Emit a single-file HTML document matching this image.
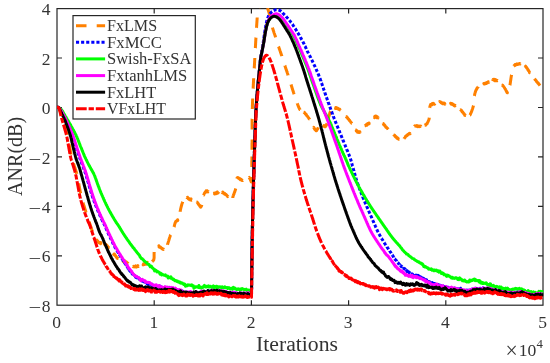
<!DOCTYPE html>
<html><head><meta charset="utf-8"><title>ANR vs Iterations</title>
<style>
html,body{margin:0;padding:0;background:#fff;}
body{width:550px;height:363px;overflow:hidden;}
svg{display:block;}
text{font-family:"Liberation Serif","DejaVu Serif",serif;fill:#333333;}
</style></head><body>
<svg width="550" height="363" viewBox="0 0 550 363">
<rect x="0" y="0" width="550" height="363" fill="#ffffff"/>
<defs><clipPath id="ax"><rect x="56.4" y="8.0" width="487.2" height="297.79999999999995"/></clipPath></defs>

<g stroke="#262626" stroke-width="1.2" fill="none">
<rect x="57.0" y="8.6" width="486.0" height="296.59999999999997"/>
<path d="M154.2,305.2 v-5 M154.2,8.6 v5"/>
<path d="M251.4,305.2 v-5 M251.4,8.6 v5"/>
<path d="M348.6,305.2 v-5 M348.6,8.6 v5"/>
<path d="M445.8,305.2 v-5 M445.8,8.6 v5"/>
<path d="M57.0,58.0 h5 M543.0,58.0 h-5"/>
<path d="M57.0,107.5 h5 M543.0,107.5 h-5"/>
<path d="M57.0,156.9 h5 M543.0,156.9 h-5"/>
<path d="M57.0,206.3 h5 M543.0,206.3 h-5"/>
<path d="M57.0,255.8 h5 M543.0,255.8 h-5"/>
</g>
<g clip-path="url(#ax)" fill="none" stroke-width="3.0" stroke-linejoin="round">
<path d="M57,107.2l0.2,0 0.3,0.1 0.2,-0.1 0.3,0.1 0.2,0 0.3,0.2 0.1,0.1 0.2,0.3 0.2,0.1 0.1,0.3 0.1,0.2 0.1,0.2 0.1,0.2 0.1,0.2 0.1,0.3 0.1,0.3 0.1,0.2 0,0.2 0.1,0.3 0.1,0.2 0,0.2 0.1,0.3 0.1,0.2 0,0.2 0.1,0.3 0,0.2 0.1,0.2 0.1,0.3 0,0.3 0.1,0.2 0,0.2 0.1,0.3 0.1,0.3 0,0.2 0.1,0.2 0,0.3 0.1,0.3 0.1,0.1 0,0.3 0.1,0.3 0,0.2 0.1,0.3 0.1,0.1 0,0.3 0.1,0.2 0.1,0.2 0.1,0.3 0,0.3 0.1,0.2 0.1,0.3 0,0.2 0.1,0.3 0.1,0.2 0,0.3 0.1,0.1 0.1,0.3 0,0.3 0.1,0.1 0.1,0.3 0.1,0.2 0,0.3 0.1,0.2 0.1,0.3 0.1,0.2 0,0.2 0.1,0.3 0.1,0.2 0.1,0.3 0,0.2 0.1,0.3 0.1,0.2 0.1,0.2 0,0.3 0.1,0.3 0.1,0.2 0.1,0.1 0.1,0.4 0,0.2 0.1,0.2 0.1,0.1 0.1,0.4 0.1,0.1 0.1,0.4 0,0.2 0.1,0.1 0.1,0.3 0.1,0.2 0.1,0.3 0.1,0.3 0,0.3 0.1,0 0.1,0.3 0.1,0.3 0.1,0.3 0,0.2 0.1,0.1 0.1,0.3 0.1,0.3 0,0.2 0.1,0.2 0.1,0.3 0.1,0.2 0,0.3 0.1,0.2 0.1,0.2 0.1,0.3 0,0.3 0.1,0.1 0.1,0.2 0,0.4 0.1,0.2 0.1,0.3 0,0.2 0.1,0.2 0.1,0.2 0,0.3 0.1,0.3 0.1,0.1 0,0.3 0.1,0.3 0,0.2 0.1,0.2 0.1,0.3 0,0.2 0.1,0.3 0,0.2 0.1,0.3 0.1,0.2 0,0.3 0.1,0.1 0,0.3 0.1,0.3 0,0.2 0.1,0.3 0,0.2 0.1,0.3 0,0.2 0.1,0.3 0,0.2 0.1,0.2 0,0.3 0.1,0.2 0,0.2 0.1,0.3 0,0.3 0.1,0.2 0,0.3 0.1,0.1 0,0.3 0.1,0.3 0,0.3 0.1,0.2 0,0.2 0,0.3 0.1,0.3 0,0.2 0.1,0.3 0,0.2 0.1,0.2 0,0.3 0.1,0.2 0,0.3 0.1,0.2 0,0.2 0.1,0.3 0,0.2 0.1,0.3 0,0.2 0,0.3 0.1,0.2 0,0.3 0.1,0.2 0,0.3 0.1,0.2 0,0.2 0.1,0.3 0,0.2 0.1,0.3 0,0.2 0.1,0.3 0,0.2 0.1,0.2 0,0.3 0.1,0.2 0,0.3 0,0.2 0.1,0.3 0,0.2 0.1,0.3 0,0.2 0.1,0.2 0,0.4 0.1,0.2 0,0.2 0.1,0.3 0,0.1 0.1,0.4 0,0.1 0.1,0.3 0,0.3 0.1,0.2 0,0.3 0.1,0.2 0.1,0.3 0,0.2 0.1,0.3 0,0.2 0.1,0.2 0,0.3 0.1,0.2 0,0.2 0.1,0.3 0,0.2 0.1,0.3 0.1,0.3 0,0.3 0.1,0.2 0,0.1 0.1,0.3 0.1,0.2 0,0.3 0.1,0.2 0.1,0.2 0,0.3 0.1,0.2 0.1,0.3 0,0.2 0.1,0.2 0.1,0.3 0,0.3 0.1,0.3 0.1,0.1 0.1,0.3 0,0.2 0.1,0.2 0.1,0.3 0,0.3 0.1,0.2 0.1,0.2 0.1,0.3 0.1,0.1 0,0.2 0.1,0.4 0.1,0.2 0.1,0.2 0,0.3 0.1,0.3 0.1,0.1 0.1,0.3 0.1,0.3 0,0.2 0.1,0.3 0.1,0.1 0.1,0.3 0.1,0.3 0,0.2 0.1,0.2 0.1,0.3 0.1,0.2 0,0.2 0.1,0.2 0.1,0.4 0.1,0 0.1,0.4 0,0.2 0.1,0.2 0.1,0.3 0.1,0.2 0,0.2 0.1,0.3 0.1,0.2 0,0.2 0.1,0.3 0.1,0.3 0.1,0.2 0,0.2 0.1,0.3 0.1,0.2 0,0.2 0.1,0.4 0.1,0.1 0,0.3 0.1,0.2 0,0.2 0.1,0.3 0.1,0.3 0,0.2 0.1,0.2 0,0.3 0.1,0.2 0,0.3 0.1,0.2 0.1,0.3 0,0.1 0.1,0.4 0,0.2 0.1,0.2 0,0.3 0.1,0.2 0,0.3 0.1,0.2 0,0.3 0.1,0.3 0,0.1 0.1,0.3 0,0.2 0.1,0.3 0,0.2 0.1,0.2 0,0.3 0.1,0.3 0,0.3 0.1,0.1 0,0.3 0.1,0.3 0,0.2 0,0.2 0.1,0.3 0,0.2 0.1,0.3 0,0.2 0.1,0.3 0,0.2 0.1,0.3 0,0.2 0.1,0.2 0,0.3 0,0.2 0.1,0.3 0,0.2 0.1,0.3 0,0.3 0.1,0.2 0,0.2 0.1,0.3 0,0.2 0,0.3 0.1,0.2 0,0.2 0.1,0.3 0,0.3 0.1,0.2 0,0.2 0.1,0.3 0,0.2 0.1,0.2 0,0.4 0.1,0.2 0,0.2 0.1,0.3 0,0.2 0,0.3 0.1,0.1 0,0.3 0.1,0.3 0,0.3 0.1,0.2 0,0.3 0.1,0.1 0,0.2 0.1,0.4 0.1,0.2 0,0.3 0.1,0.2 0,0.2 0.1,0.2 0,0.3 0.1,0.3 0,0.2 0.1,0.3 0,0.2 0.1,0.3 0.1,0.2 0,0.3 0.1,0.2 0,0.2 0.1,0.2 0.1,0.4 0,0.1 0.1,0.3 0,0.3 0.1,0.1 0.1,0.3 0,0.3 0.1,0.2 0.1,0.3 0,0.1 0.1,0.3 0.1,0.3 0,0.3 0.1,0 0.1,0.4 0,0.2 0.1,0.3 0.1,0.2 0,0.3 0.1,0.3 0.1,0.2 0,0.2 0.1,0.2 0.1,0.2 0.1,0.3 0,0.2 0.1,0.2 0.1,0.3 0,0.2 0.1,0.3 0.1,0.2 0.1,0.2 0,0.4 0.1,0.2 0.1,0.3 0.1,0.2 0,0.2 0.1,0.2 0.1,0.2 0.1,0.3 0,0.2 0.1,0.2 0.1,0.3 0.1,0.1 0,0.4 0.1,0.1 0.1,0.3 0.1,0.3 0,0.2 0.1,0.2 0.1,0.3 0.1,0.4 0.1,0 0,0.4 0.1,0.1 0.1,0.3 0.1,0.2 0,0.2 0.1,0.4 0.1,0.2 0.1,0.1 0,0.3 0.1,0.2 0.1,0.3 0.1,0.3 0.1,0.1 0,0.3 0.1,0.3 0.1,0.2 0.1,0.3 0.1,0.1 0,0.2 0.1,0.4 0.1,0.1 0.1,0.3 0,0.3 0.1,0.3 0.1,0.1 0.1,0.2 0.1,0.3 0,0.1 0.1,0.4 0.1,0.1 0.1,0.5 0.1,0.1 0,0.2 0.1,0.2 0.1,0.1 0.1,0.5 0,0.3 0.1,0.1 0.1,0.3 0.1,0.2 0.1,0.1 0,0.4 0.1,0.3 0.1,0.2 0.1,0.2 0,0.3 0.1,0.1 0.1,0.3 0.1,0.3 0,0.1 0.1,0.4 0.1,0.1 0.1,0.2 0,0.3 0.1,0.2 0.1,0.3 0.1,0.2 0,0.3 0.1,0.2 0.1,0.3 0.1,0.2 0,0.2 0.1,0.3 0.1,0.2 0.1,0.2 0.1,0.2 0,0.4 0.1,0.2 0.1,0.2 0.1,0.2 0.1,0.2 0,0.2 0.1,0.3 0.1,0.3 0.1,0.2 0.1,0.2 0,0.3 0.1,0.3 0.1,0.2 0.1,0.3 0,0.1 0.1,0.3 0.1,0.2 0.1,0.3 0.1,0.2 0,0.2 0.1,0.4 0.1,0.1 0.1,0.2 0,0.2 0.1,0.4 0.1,0.2 0.1,0.3 0.1,0.2 0,0.1 0.1,0.3 0.1,0.2 0.1,0.2 0.1,0.4 0.1,0.2 0,0.2 0.1,0.3 0.1,0.1 0.1,0.2 0.1,0.2 0.1,0.4 0.1,0.2 0.1,0.3 0.1,0.2 0.1,0 0.1,0.3 0.1,0.3 0.1,0.1 0.1,0.3 0.1,0.4 0.2,0.2 0.1,0.3 0.1,0 0.2,0.2 0.1,0.4 0.1,0 0.2,0.3 0.1,0.4 0.2,-0.1 0.1,0.2 0.2,0.3 0.1,0.3 0.2,0.2 0.1,0.1 0.2,0.3 0.2,-0.3 0.1,0.4 0.2,0.4 0.2,-0.1 0.1,0.1 0.2,0.3 0.2,0.2 0.1,0.3 0.2,0 0.2,0.4 0.2,0.6 0.2,-0.3 0.2,0.5 0.2,-0.1 0.2,-0.3 0.2,0.3 0.3,-0.1 0.2,0.7 0.2,-0.6 0.3,1 0.2,-0.2 0.2,-0.9 0.3,1.1 0.2,0.3 0.3,-0.8 0.2,0.7 0.3,-1 0.2,0.8 0.3,-0.7 0.2,0.8 0.3,-0.7 0.2,-0.3 0.3,1.2 0.2,0.7 0.2,-1 0.3,0.6 0.2,-0.2 0.3,0 0.2,0.4 0.2,0.4 0.2,-0.8 0.2,0.7 0.3,0.1 0.1,-0.3 0.2,0.9 0.2,0.2 0.2,-0.5 0.2,0.8 0.2,-0.2 0.1,0.1 0.2,0.5 0.1,0 0.2,0.2 0.1,0.4 0.2,0.2 0.1,0.1 0.2,-0.2 0.1,0.2 0.2,0.6 0.1,-0.1 0.2,0.4 0.1,0 0.1,0.4 0.2,0 0.1,0.7 0.2,-0.2 0.1,0.3 0.2,0.2 0.1,0.4 0.1,-0.2 0.2,0.4 0.1,0.2 0.2,0.3 0.1,0.2 0.2,0.1 0.1,0.3 0.2,0 0.2,0.4 0.1,0.1 0.2,0 0.2,0.4 0.1,0.2 0.2,0.6 0.2,-0.4 0.2,0.3 0.1,0.5 0.2,-0.6 0.2,0.2 0.2,0.3 0.2,0.4 0.1,0.8 0.2,-0.3 0.2,0.3 0.2,-0.1 0.2,-0.3 0.1,0.2 0.2,0.9 0.2,0 0.2,-0.1 0.1,0.7 0.2,-0.3 0.1,0.6 0.2,0.3 0.1,-0.2 0.1,0.2 0.2,0.5 0.1,-0.1 0.1,0.5 0.2,-0.1 0.1,0.5 0.2,0.1 0.1,0.1 0.2,0.1 0.2,0.4 0.2,-0.3 0.2,0.5 0.2,0.1 0.2,0.5 0.2,-0.5 0.2,1 0.2,-0.5 0.3,-0.2 0.2,1 0.2,0.1 0.3,-0.5 0.2,-0.2 0.2,0.4 0.3,-0.2 0.2,0.2 0.3,0.7 0.2,-0.3 0.3,0 0.2,0.1 0.2,0 0.3,0.3 0.2,0.1 0.3,-0.4 0.2,0.3 0.2,0.8 0.3,-0.6 0.2,-0.1 0.3,0.8 0.2,-0.6 0.2,-0.2 0.3,0.6 0.2,-0.4 0.2,0.3 0.2,0.3 0.3,0 0.2,0 0.2,0.2 0.2,0.1 0.2,0.6 0.2,-0.3 0.2,0.2 0.2,0.8 0.2,-0.5 0.1,0.6 0.2,0.2 0.2,-0.2 0.2,-0.1 0.2,0.6 0.2,0.2 0.2,0.2 0.1,0 0.2,0.4 0.2,0.2 0.2,-0.4 0.2,0.8 0.2,-0.2 0.2,0 0.2,0.2 0.2,0.7 0.2,-0.1 0.3,-0.7 0.2,0.7 0.2,0 0.3,0.1 0.2,0 0.2,-0.3 0.3,0.9 0.2,-0.6 0.2,0.3 0.3,0 0.2,0 0.3,0.6 0.2,-0.1 0.3,-0.4 0.2,0 0.3,0.2 0.2,0.5 0.3,-0.3 0.2,0.1 0.3,-0.2 0.2,0 0.3,0.2 0.2,-0.8 0.3,1.2 0.2,-0.9 0.3,0.1 0.2,0.6 0.2,-0.5 0.3,-0.1 0.2,-0.3 0.3,-0.4 0.2,0.6 0.2,0.2 0.3,-0.8 0.2,0.7 0.3,-0.9 0.2,0.1 0.2,0.3 0.3,-0.2 0.2,0.1 0.3,-0.5 0.2,-0.2 0.2,-0.3 0.3,0.1 0.2,0 0.3,-0.2 0.2,0.5 0.2,-0.4 0.3,-0.5 0.2,1.4 0.2,-1.2 0.3,-0.2 0.2,0.7 0.3,-0.1 0.2,-0.8 0.2,-0.2 0.3,0.1 0.2,0.6 0.2,-0.6 0.3,-0.2 0.2,0.2 0.2,0.3 0.3,-1 0.2,0.3 0.3,-0.4 0.2,1.1 0.2,-0.2 0.3,-0.4 0.2,-0.4 0.2,0.2 0.3,-1 0.2,0.7 0.3,-0.6 0.2,-0.1 0.3,0.2 0.2,0.1 0.2,0.2 0.3,0 0.2,-0.2 0.3,-0.5 0.2,0.5 0.2,-0.4 0.3,0.4 0.2,-0.8 0.3,-0.7 0.2,0.7 0.2,0.8 0.3,-0.7 0.2,-0.3 0.2,0.2 0.2,-0.2 0.2,-0.2 0.2,-0.4 0.2,0 0.2,-0.1 0.2,-0.4 0.2,-0.2 0.1,0 0.1,-0.1 0.2,-0.3 0,-0.3 0.1,-0.2 0.1,-0.2 0,-0.3 0.1,-0.3 0,-0.2 0,-0.3 0.1,-0.2 0,-0.3 0,-0.2 0,-0.3 0,-0.2 0,-0.3 0,-0.2 0,-0.3 0,-0.2 0,-0.3 0,-0.2 0,-0.3 0,-0.2 0,-0.3 0,-0.2 0,-0.3 0,-0.2 0,-0.3 0,-0.2 0,-0.3 0,-0.2 0,-0.3 0.1,-0.2 0,-0.3 0,-0.2 0.1,-0.3 0,-0.2 0.1,-0.2 0.1,-0.3 0.1,-0.2 0.1,0 0.1,-0.5 0.1,-0.2 0.1,-0.2 0.2,-0.2 0.1,-0.2 0.1,-0.2 0.1,-0.1 0.2,-0.6 0.1,0 0.2,-0.4 0.1,0.1 0.2,-0.5 0.2,-0.1 0.1,-0.1 0.2,0.2 0.2,-0.4 0.2,-0.2 0.1,0.1 0.2,-0.7 0.2,-0.5 0.3,0.3 0.2,-0.1 0.2,0.4 0.2,0.3 0.3,-1.2 0.2,1.3 0.3,-0.2 0.2,-0.2 0.2,0 0.2,0.7 0.2,-0.4 0.2,0 0.2,0.3 0.1,-0.1 0.2,0.5 0.2,0.1 0.2,0.2 0.2,0.2 0.2,-0.2 0.2,0.8 0.2,-0.5 0.2,0.6 0.2,-0.4 0.2,0.6 0.2,-0.1 0.2,0.3 0.2,0.1 0.2,-0.3 0.1,0.5 0.2,0.4 0.2,0.3 0.3,-0.4 0.2,-0.2 0.2,0.5 0.3,0.2 0.2,-0.1 0.2,-0.2 0.2,0.3 0.2,-0.3 0.1,-0.2 0.1,-0.4 0.1,-0.2 0.1,-0.2 0.1,-0.3 0.1,-0.1 0.1,-0.3 0,-0.3 0.1,-0.1 0.1,-0.3 0.1,-0.2 0,-0.2 0.1,-0.3 0,-0.3 0.1,-0.2 0.1,-0.2 0,-0.3 0.1,-0.3 0.1,-0.2 0,-0.2 0.1,-0.2 0.1,-0.3 0,-0.3 0.1,-0.2 0.1,-0.2 0,-0.3 0.1,-0.1 0.1,-0.3 0.1,-0.3 0,-0.2 0.1,-0.3 0.1,-0.2 0.1,-0.3 0,-0.2 0.1,-0.3 0.1,-0.2 0.1,-0.3 0,0 0.1,-0.4 0.1,-0.2 0,-0.2 0.1,-0.3 0.1,-0.2 0.1,-0.4 0,-0.1 0.1,-0.3 0.1,-0.2 0.1,-0.2 0,-0.4 0.1,-0.2 0.1,-0.2 0.1,-0.2 0,-0.2 0.1,-0.2 0.1,-0.4 0.1,-0.3 0.1,-0.1 0,-0.2 0.1,-0.3 0.1,-0.2 0.1,-0.2 0.1,-0.4 0.1,-0.2 0.1,-0.1 0.1,-0.2 0.1,-0.3 0.1,0 0.1,-0.5 0.1,-0.1 0.1,-0.4 0.1,-0.1 0.2,-0.2 0.1,-0.2 0.1,-0.3 0.1,-0.1 0.1,-0.3 0.2,-0.4 0.1,-0.4 0.1,0.4 0.1,-0.4 0.2,-0.3 0.1,-0.4 0.1,-0.2 0.1,0.1 0.1,-0.7 0.1,0.1 0.1,-0.2 0.1,-0.3 0.1,-0.1 0.1,-0.3 0.1,-0.1 0,-0.5 0.1,-0.2 0.1,-0.2 0,-0.2 0.1,-0.3 0.1,-0.2 0,-0.3 0.1,-0.2 0,-0.2 0.1,-0.2 0,-0.3 0.1,-0.3 0,-0.3 0.1,-0.2 0,-0.2 0.1,-0.2 0.1,-0.3 0,-0.3 0.1,-0.2 0,-0.2 0.1,-0.3 0.1,-0.2 0.1,-0.3 0.1,-0.1 0.1,-0.3 0.1,-0.2 0.1,-0.3 0.1,-0.1 0.1,-0.3 0.2,-0.6 0.2,0.3 0.1,-0.3 0.2,0.1 0.2,-0.4 0.2,-0.2 0.2,-0.1 0.2,-0.2 0.2,-0.2 0.2,-0.5 0.2,0.8 0.2,-1.1 0.2,0.2 0.2,0.1 0.2,-0.2 0.2,-0.2 0.1,-0.1 0.2,-0.1 0.2,-0.4 0.1,0.2 0.1,-0.8 0.1,-0.1 0.1,-0.3 0.1,-0.2 0,-0.2 0.1,-0.2 0,-0.3 0,-0.3 0,-0.2 0,-0.3 0,-0.2 0,-0.3 0,-0.2 0,-0.3 0,-0.2 -0.1,-0.3 0,-0.2 0,-0.3 0,-0.2 0,-0.3 0.1,-0.2 0,-0.2 0,-0.3 0,-0.2 0.1,-0.3 0,-0.3 0.1,-0.2 0,-0.2 0.1,-0.3 0,-0.2 0.1,-0.2 0,-0.3 0.1,-0.3 0,-0.2 0.1,-0.3 0,-0.2 0.1,-0.3 0,-0.2 0.1,-0.2 0,-0.3 0.1,-0.3 0.1,-0.2 0,-0.2 0.1,-0.2 0,-0.3 0.1,-0.2 0,-0.3 0.1,-0.2 0.1,-0.3 0,-0.2 0.1,-0.2 0.1,-0.3 0,-0.2 0.1,-0.3 0.1,-0.2 0,-0.3 0.1,-0.4 0.1,-0.1 0,-0.2 0.1,-0.1 0.1,-0.3 0.1,-0.1 0,-0.3 0.1,-0.3 0.1,-0.2 0.1,-0.4 0.1,-0.1 0,-0.3 0.1,-0.3 0.1,-0.1 0.1,-0.3 0.1,-0.3 0.1,-0.2 0.1,-0.2 0.1,-0.2 0.1,-0.3 0.1,-0.1 0.1,-0.5 0.1,-0.1 0.1,-0.4 0.2,0 0.1,-0.1 0.1,-0.3 0.2,-0.2 0.1,-0.2 0.2,0.2 0.2,-0.8 0.2,0.4 0.2,-0.9 0.3,0.3 0.2,0.1 0.3,-0.4 0.2,0.4 0.3,0.3 0.2,-0.6 0.2,0.5 0.3,0 0.2,-0.4 0.2,0.7 0.2,-0.1 0.2,0.8 0.2,-0.5 0.3,0.8 0.2,-0.5 0.2,0.9 0.2,-0.3 0.2,0.1 0.2,0.3 0.2,0.1 0.3,0.3 0.2,0.2 0.2,-0.5 0.2,-0.3 0.3,-0.3 0.2,0.8 0.3,0.5 0.2,-0.1 0.2,0 0.3,-0.1 0.2,0 0.3,0.2 0.2,0.2 0.2,-0.6 0.3,0.9 0.2,-0.7 0.3,0.5 0.2,0 0.2,0.1 0.3,-0.1 0.2,0 0.2,0.4 0.3,-0.1 0.2,1.2 0.2,-0.8 0.2,0 0.3,0.2 0.2,0 0.2,-0.2 0.2,0.7 0.1,0.3 0.2,-0.2 0.2,0.5 0.1,0 0.2,0.4 0.2,0.3 0.1,0.2 0.1,0.2 0.2,0 0.1,0.5 0.2,0 0.1,0.3 0.2,0.3 0.1,0 0.1,0.1 0.2,0.5 0.1,-0.1 0.2,0.2 0.1,0.2 0.2,0.5 0.2,0 0.2,-0.4 0.2,1 0.2,0.5 0.3,-0.1 0.2,-0.8 0.1,-0.1 0.2,-0.1 0.1,-0.2 0.1,-0.4 0.1,-0.3 0,-0.1 0.1,-0.2 0.1,-0.4 0,-0.2 0.1,-0.2 0,-0.2 0.1,-0.3 0,-0.2 0.1,-0.3 0,-0.2 0,-0.3 0.1,-0.2 0,-0.2 0.1,-0.3 0,-0.3 0,-0.2 0.1,-0.2 0,-0.3 0,-0.2 0.1,-0.3 0,-0.3 0.1,-0.2 0,-0.3 0,-0.2 0.1,-0.2 0,-0.3 0,-0.3 0.1,-0.2 0,-0.2 0.1,-0.3 0,-0.2 0,-0.3 0.1,-0.2 0,-0.2 0.1,-0.3 0,-0.2 0.1,-0.3 0.1,-0.3 0,-0.3 0.1,-0.1 0.1,-0.3 0.1,0 0.1,-0.4 0.1,-0.3 0.1,-0.2 0.1,0 0.1,-0.5 0.1,-0.2 0.1,-0.3 0.2,-0.1 0.1,-0.2 0.1,0 0.2,-0.7 0.2,0.1 0.1,0.2 0.2,-0.7 0.2,0 0.2,-0.4 0.2,-0.6 0.2,0.6 0.2,0.3 0.3,-0.6 0.2,-0.5 0.3,0.7 0.2,0 0.3,0.4 0.2,0.1 0.2,-0.3 0.2,0.3 0.3,-0.5 0.2,1 0.2,-0.2 0.3,0.3 0.2,0.1 0.3,-0.3 0.2,0.1 0.2,-0.1 0.2,-0.3 0.3,0.7 0.2,0.2 0.2,-0.2 0.2,0.6 0.3,-0.1 0.2,0.2 0.2,-0.3 0.3,-0.2 0.2,0.9 0.2,0 0.3,-0.2 0.2,0 0.3,0.1 0.2,0 0.3,-0.1 0.2,-0.5 0.3,0.9 0.2,-0.8 0.3,0.3 0.2,0 0.2,0.1 0.3,-0.7 0.2,0.9 0.3,-0.3 0.2,0 0.2,0 0.3,-0.7 0.2,-0.9 0.2,1.1 0.3,0.2 0.2,-0.2 0.2,-0.6 0.3,0.1 0.2,0 0.2,-0.8 0.3,0.3 0.2,0 0.3,0.7 0.2,-0.9 0.3,0.8 0.2,-0.6 0.3,-0.6 0.2,1.4 0.3,-1.1 0.2,0.6 0.2,0.4 0.3,-0.8 0.2,-0.1 0.3,0.8 0.2,-0.2 0.2,-0.3 0.3,0.2 0.2,0.3 0.2,0.5 0.2,-0.2 0.2,0.4 0.2,0.4 0.2,0 0.2,0.2 0.2,0.1 0.2,-0.6 0.2,0.9 0.2,-0.1 0.2,0.1 0.2,-0.1 0.2,0 0.2,0.3 0.2,0.4 0.2,-0.1 0.2,0.3 0.1,0.2 0.2,0.5 0.2,-0.1 0.2,0.2 0.2,0.5 0.2,-0.2 0.1,0.4 0.2,-0.2 0.2,0.5 0.2,0.1 0.2,0.2 0.1,0 0.2,0.1 0.2,0.3 0.2,0.1 0.2,0.5 0.2,0.2 0.2,-0.3 0.1,0.6 0.2,-0.1 0.2,0.3 0.2,0 0.2,-0.1 0.2,0.8 0.2,0 0.2,-0.4 0.2,-0.1 0.3,0.5 0.2,-0.2 0.3,0.3 0.2,0.1 0.1,-0.2 0,-0.4 0.1,-0.2 0,-0.3 0,-0.2 0,-0.3 0,-0.2 0,-0.3 0,-0.2 0.1,-0.3 0,-0.2 0.1,-0.2 0,-0.4 0.1,-0.1 0.1,-0.3 0,-0.1 0.1,-0.3 0.1,-0.5 0.1,0.1 0.1,-0.4 0.1,-0.1 0.1,-0.4 0.1,-0.1 0.1,-0.3 0,-0.2 0.1,-0.3 0.1,-0.1 0.1,-0.3 0.1,-0.3 0.1,-0.2 0.1,-0.3 0.1,0 0,-0.4 0.1,-0.2 0.1,-0.3 0.1,-0.3 0.1,-0.2 0,-0.2 0.1,-0.2 0.1,-0.2 0.1,-0.3 0,-0.3 0.1,-0.2 0.1,-0.2 0,-0.2 0.1,-0.3 0.1,-0.3 0,-0.2 0.1,-0.3 0,-0.2 0.1,-0.3 0,-0.2 0.1,-0.2 0,-0.3 0,-0.2 0,-0.3 0,-0.2 0.1,-0.3 0,-0.2 0,-0.3 0,-0.2 0,-0.3 0,-0.2 0,-0.3 0,-0.2 0,-0.3 0,-0.2 0,-0.3 0,-0.2 0.1,-0.3 0,-0.2 0,-0.3 0,-0.2 0,-0.3 0,-0.2 0,-0.3 0,-0.2 0,-0.3 0.1,-0.2 0,-0.3 0,-0.2 0,-0.3 0.1,-0.2 0,-0.3 0.1,-0.2 0.1,-0.1 0.1,-0.4 0.1,-0.1 0.1,-0.3 0.2,-0.3 0.2,-0.1 0.3,-0.2 0.2,0.3 0.3,-0.1 0.2,0.1 0.2,0.6 0.3,-0.3 0.2,0.5 0.2,-0.1 0.2,0.3 0.2,-0.3 0.2,0.4 0.2,0.8 0.2,-0.4 0.2,0.2 0.2,0 0.3,0.3 0.2,-0.4 0.2,0.2 0.2,0.5 0.2,0.2 0.2,-0.2 0.2,0.2 0.2,0 0.3,0.2 0.2,-0.3 0.2,0 0.3,0.5 0.2,-0.5 0.3,0.2 0.2,0.1 0.3,-0.2 0.2,0.3 0.2,-0.4 0.2,0 0.2,-0.4 0.2,-0.1 0.2,0.1 0.1,-0.2 0.2,-0.3 0.2,0 0.2,-0.3 0.1,-0.1 0.2,0.1 0.2,-0.6 0.1,0 0.2,-0.2 0.2,-0.3 0.2,-0.4 0.2,0.3 0.2,-0.3 0.2,-0.1 0.2,-0.1 0.3,0 0.2,-0.1 0.2,0.4 0.2,-0.2 0.2,0.5 0.1,0 0.1,0.4 0.2,0.4 0.1,0.1 0.1,0.2 0.1,0.3 0.1,0.1 0.1,0.3 0.1,0.2 0.1,0.3 0.1,0.2 0.1,0.2 0.1,0.2 0.1,0.3 0.1,0.2 0.1,0.3 0.1,0.2 0.1,0.2 0.2,0 0,-0.3 0,-0.2 0,-0.3 0,-0.2 0,-0.3 0,-0.2 0,-0.3 0,-0.2 0,-0.3 0,-0.2 0,-0.3 0,-0.2 0.1,-0.3 0,-0.2 0,-0.3 0,-0.2 0,-0.3 0,-0.2 0,-0.3 0,-0.2 0,-0.3 0,-0.2 0,-0.3 0,-0.2 0,-0.3 0,-0.2 0,-0.3 0,-0.2 0,-0.3 0,-0.2 0,-0.3 0,-0.2 0,-0.3 0,-0.2 0,-0.3 0.1,-0.2 0,-0.3 0,-0.2 0,-0.3 0,-0.2 0,-0.3 0,-0.2 0,-0.3 0,-0.2 0,-0.3 0,-0.2 0,-0.3 0,-0.2 0,-0.3 0,-0.2 0,-0.3 0,-0.2 0,-0.3 0,-0.2 0,-0.3 0,-0.2 0,-0.3 0,-0.2 0,-0.3 0.1,-0.2 0,-0.3 0,-0.2 0,-0.3 0,-0.2 0,-0.3 0,-0.2 0,-0.3 0,-0.2 0,-0.3 0,-0.2 0,-0.3 0,-0.2 0,-0.3 0,-0.2 0,-0.3 0,-0.2 0,-0.3 0,-0.2 0,-0.3 0,-0.2 0,-0.3 0,-0.2 0,-0.3 0,-0.2 0.1,-0.3 0,-0.2 0,-0.3 0,-0.2 0,-0.3 0,-0.2 0,-0.3 0,-0.2 0,-0.3 0,-0.2 0,-0.3 0,-0.2 0,-0.3 0,-0.2 0,-0.3 0,-0.2 0,-0.3 0,-0.2 0,-0.3 0,-0.2 0,-0.3 0,-0.2 0,-0.3 0,-0.2 0,-0.3 0,-0.2 0,-0.3 0,-0.2 0.1,-0.3 0,-0.2 0,-0.3 0,-0.2 0,-0.3 0,-0.2 0,-0.3 0,-0.2 0,-0.3 0,-0.2 0,-0.3 0,-0.2 0,-0.3 0,-0.2 0,-0.3 0,-0.2" stroke="#ff8000" stroke-dasharray="10.5 10" stroke-dashoffset="0.00"/>
<path d="M252,150l0,-0.3 0,-0.2 0,-0.3 0,-0.2 0,-0.3 0,-0.2 0,-0.3 0,-0.2 0,-0.3 0,-0.2 0,-0.3 0,-0.2 0,-0.3 0,-0.2 0,-0.3 0,-0.2 0,-0.3 0,-0.2 0,-0.3 0,-0.2 0,-0.3 0,-0.2 0,-0.3 0,-0.2 0,-0.3 0,-0.2 0,-0.3 0.1,-0.2 0,-0.3 0,-0.2 0,-0.3 0,-0.2 0,-0.3 0,-0.2 0,-0.3 0,-0.2 0,-0.3 0,-0.2 0,-0.3 0,-0.2 0,-0.3 0,-0.2 0,-0.3 0,-0.2 0,-0.3 0,-0.2 0,-0.3 0,-0.2 0,-0.3 0,-0.2 0,-0.3 0,-0.2 0,-0.3 0,-0.2 0,-0.3 0,-0.2 0,-0.3 0,-0.2 0,-0.3 0,-0.2 0,-0.3 0,-0.2 0,-0.3 0,-0.2 0,-0.3 0,-0.2 0,-0.3 0,-0.2 0,-0.3 0,-0.2 0,-0.3 0,-0.2 0,-0.3 0,-0.2 0,-0.3 0,-0.2 0,-0.3 0,-0.2 0,-0.3 0,-0.2 0,-0.3 0,-0.2 0,-0.3 0,-0.2 0,-0.3 0,-0.2 0,-0.3 0,-0.2 0,-0.3 0,-0.2 0,-0.3 0,-0.2 0,-0.3 0,-0.2 0,-0.3 0,-0.2 0,-0.3 0,-0.2 0,-0.3 0,-0.2 0,-0.3 0,-0.2 0,-0.3 0,-0.2 0,-0.3 0,-0.2 0,-0.3 0,-0.2 0,-0.3 0,-0.2 0,-0.3 0,-0.2 0,-0.3 0,-0.2 0,-0.3 0,-0.2 0,-0.3 0,-0.2 0,-0.3 0,-0.2 0,-0.3 0,-0.2 0,-0.3 0,-0.2 0.1,-0.3 0,-0.2 0,-0.3 0,-0.2 0,-0.3 0,-0.2 0,-0.3 0,-0.2 0,-0.3 0,-0.2 0,-0.3 0,-0.2 0,-0.3 0,-0.2 0,-0.3 0,-0.2 0,-0.3 0,-0.2 0,-0.3 0,-0.2 0,-0.3 0,-0.2 0,-0.3 0,-0.2 0,-0.3 0,-0.2 0.1,-0.3 0,-0.2 0,-0.3 0,-0.2 0,-0.3 0,-0.2 0,-0.3 0,-0.2 0,-0.3 0,-0.2 0,-0.3 0,-0.2 0,-0.3 0,-0.2 0,-0.3 0,-0.2 0,-0.3 0.1,-0.2 0,-0.3 0,-0.2 0,-0.3 0,-0.2 0,-0.3 0,-0.2 0,-0.3 0,-0.2 0,-0.3 0,-0.2 0,-0.3 0,-0.2 0.1,-0.3 0,-0.2 0,-0.3 0,-0.2 0,-0.3 0,-0.2 0,-0.3 0,-0.2 0,-0.3 0,-0.2 0,-0.3 0,-0.2 0.1,-0.3 0,-0.2 0,-0.3 0,-0.2 0,-0.3 0,-0.2 0,-0.3 0,-0.2 0,-0.3 0,-0.2 0.1,-0.3 0,-0.2 0,-0.3 0,-0.2 0,-0.3 0,-0.2 0,-0.3 0,-0.2 0,-0.3 0,-0.2 0.1,-0.3 0,-0.2 0,-0.3 0,-0.2 0,-0.3 0,-0.2 0,-0.3 0,-0.2 0,-0.3 0.1,-0.2 0,-0.3 0,-0.2 0,-0.3 0,-0.2 0,-0.3 0,-0.2 0,-0.3 0.1,-0.2 0,-0.3 0,-0.2 0,-0.3 0,-0.2 0,-0.3 0,-0.2 0,-0.3 0,-0.2 0.1,-0.3 0,-0.2 0,-0.3 0,-0.2 0,-0.3 0,-0.2 0,-0.3 0,-0.2 0.1,-0.3 0,-0.2 0,-0.3 0,-0.2 0,-0.3 0,-0.2 0,-0.3 0,-0.2 0.1,-0.3 0,-0.2 0,-0.3 0,-0.2 0,-0.3 0,-0.2 0,-0.3 0,-0.2 0.1,-0.3 0,-0.2 0,-0.3 0,-0.2 0,-0.3 0,-0.2 0,-0.3 0.1,-0.2 0,-0.3 0,-0.2 0,-0.3 0,-0.2 0,-0.3 0,-0.2 0,-0.3 0.1,-0.2 0,-0.3 0,-0.2 0,-0.3 0,-0.2 0,-0.3 0,-0.2 0.1,-0.3 0,-0.2 0,-0.3 0,-0.2 0,-0.3 0,-0.2 0,-0.3 0.1,-0.2 0,-0.3 0,-0.2 0,-0.3 0,-0.2 0,-0.3 0,-0.2 0,-0.3 0.1,-0.2 0,-0.3 0,-0.2 0,-0.3 0,-0.2 0,-0.3 0,-0.2 0.1,-0.3 0,-0.2 0,-0.3 0,-0.2 0,-0.3 0,-0.2 0,-0.3 0.1,-0.2 0,-0.3 0,-0.2 0,-0.3 0,-0.2 0,-0.3 0,-0.2 0.1,-0.3 0,-0.2 0,-0.3 0,-0.2 0,-0.3 0,-0.2 0,-0.3 0.1,-0.2 0,-0.3 0,-0.2 0,-0.3 0,-0.2 0,-0.3 0,-0.2 0.1,-0.3 0,-0.2 0,-0.3 0,-0.2 0,-0.3 0,-0.2 0,-0.3 0.1,-0.2 0,-0.2 0,-0.3 0,-0.2 0,-0.3 0,-0.3 0,-0.2 0.1,-0.3 0,-0.2 0,-0.3 0,-0.2 0,-0.2 0,-0.3 0,-0.3 0.1,-0.2 0,-0.2 0,-0.3 0,-0.3 0,-0.2 0,-0.2 0,-0.3 0,-0.3 0.1,-0.2 0,-0.3 0,-0.2 0,-0.2 0,-0.3 0,-0.2 0,-0.3 0.1,-0.3 0,-0.2 0,-0.2 0,-0.3 0,-0.3 0,-0.2 0,-0.2 0.1,-0.3 0,-0.2 0,-0.3 0,-0.2 0,-0.3 0,-0.3 0,-0.2 0,-0.3 0.1,-0.2 0,-0.2 0,-0.3 0,-0.2 0,-0.3 0,-0.3 0,-0.2 0.1,-0.2 0,-0.3 0,-0.2 0,-0.3 0,-0.2 0,-0.3 0,-0.2 0.1,-0.3 0,-0.2 0,-0.3 0,-0.2 0,-0.3 0,-0.2 0,-0.3 0,-0.2 0.1,-0.3 0,-0.2 0,-0.3 0,-0.2 0,-0.3 0,-0.2 0,-0.3 0.1,-0.2 0,-0.3 0,-0.2 0,-0.3 0,-0.2 0,-0.3 0,-0.2 0.1,-0.3 0,-0.2 0,-0.3 0,-0.2 0,-0.3 0,-0.2 0,-0.3 0.1,-0.2 0,-0.3 0,-0.2 0,-0.3 0,-0.2 0,-0.3 0,-0.2 0.1,-0.3 0,-0.2 0,-0.3 0,-0.2 0,-0.3 0,-0.2 0,-0.3 0.1,-0.2 0,-0.3 0,-0.2 0,-0.3 0,-0.2 0,-0.3 0,-0.2 0.1,-0.3 0,-0.2 0,-0.3 0,-0.2 0,-0.3 0,-0.2 0,-0.3 0.1,-0.2 0,-0.3 0,-0.2 0,-0.3 0,-0.2 0,-0.3 0,-0.2 0.1,-0.3 0,-0.2 0,-0.3 0,-0.2 0,-0.3 0,-0.2 0,-0.3 0.1,-0.2 0,-0.3 0,-0.2 0,-0.3 0,-0.2 0,-0.3 0,-0.2 0.1,-0.3 0,-0.2 0,-0.3 0,-0.2 0,-0.3 0,-0.2 0.1,-0.3 0,-0.2 0,-0.3 0,-0.2 0,-0.3 0,-0.2 0,-0.3 0.1,-0.2 0,-0.3 0,-0.2 0,-0.3 0,-0.2 0,-0.3 0.1,-0.2 0,-0.3 0,-0.2 0,-0.3 0,-0.2 0,-0.3 0.1,-0.2 0,-0.3 0,-0.2 0,-0.3 0,-0.2 0,-0.3 0.1,-0.2 0,-0.3 0,-0.2 0,-0.3 0,-0.2 0,-0.3 0.1,-0.2 0,-0.3 0,-0.2 0,-0.3 0,-0.2 0,-0.3 0.1,-0.2 0,-0.3 0,-0.2 0,-0.3 0,-0.2 0,-0.3 0.1,-0.2 0,-0.2 0,-0.3 0,-0.2 0,-0.3 0.1,-0.3 0,-0.2 0,-0.3 0,-0.2 0,-0.2 0.1,-0.3 0,-0.2 0,-0.3 0,-0.2 0.1,-0.3 0,-0.2 0,-0.3 0,-0.3 0.1,-0.2 0,-0.2 0,-0.3 0,-0.2 0.1,-0.3 0,-0.2 0,-0.3 0,-0.2 0.1,-0.3 0,-0.2 0,-0.3 0.1,-0.2 0,-0.2 0.1,-0.3 0,-0.3 0,-0.2 0.1,-0.3 0,-0.2 0.1,-0.3 0.1,-0.2 0,-0.3 0.1,-0.2 0.1,-0.1 0.1,-0.3 0.1,-0.3 0.1,-0.2 0.1,-0.2 0,-0.2 0.1,-0.2 0.1,-0.4 0,-0.1 0.1,-0.3 0.1,-0.2 0.1,-0.2 0.1,-0.4 0.1,-0.1 0.1,-0.4 0.1,-0.2 0.1,-0.2 0.1,0.1 0.2,-0.2 0.1,-0.3 0.2,-0.3 0.1,-0.4 0.2,0.3 0.1,-0.3 0.2,-0.2 0.2,-0.4 0.2,-0.2 0.2,-0.1 0.3,0.4 0.2,-0.8" stroke="#ff8000" stroke-dasharray="10.5 10" stroke-dashoffset="20.37"/>
<path d="M262.2,2.2l0.2,0.3 0.3,0.6 0.2,-0.2 0.3,0.3 0.2,-0.3 0.2,0.1 0.3,0.4 0.2,-0.1 0.2,0 0.2,0 0.2,-0.1 0.1,0.9 0.2,-0.3 0.2,0.2 0.1,0.5 0.2,-0.1 0.1,0.1 0.2,0.3 0.1,0.3 0.1,0.3 0.2,0.2 0.1,0.3 0.1,0.1 0.1,0.2 0.2,0.2 0.1,0.2 0.1,0.3 0.1,0.2 0.1,0.4 0.1,0.1 0.1,0.1 0.1,0.4 0.1,0.1 0.1,0.4 0.1,0 0.1,0.3 0.1,0.2 0.1,0.3 0,0.2 0.1,0.2 0.1,0.2 0.1,0.4 0.1,0.3 0.1,0.2 0,0.1 0.1,0.3 0.1,0.2 0.1,0.2 0,0.4 0.1,0.2 0.1,0.2 0.1,0.2 0,0.3 0.1,0.2 0.1,0.2 0,0.3 0.1,0.2 0.1,0.2 0,0.3 0.1,0.3 0.1,0.2 0,0.2 0.1,0.4 0.1,0.2 0,0.2 0.1,0.2 0,0.3 0.1,0.1 0.1,0.3 0,0.3 0.1,0.2 0,0.3 0.1,0.2 0,0.3 0.1,0.1 0.1,0.3 0,0.3 0.1,0.2 0,0.3 0.1,0.2 0,0.2 0.1,0.3 0,0.2 0,0.3 0.1,0.3 0,0.2 0.1,0.3 0,0.1 0.1,0.3 0,0.3 0.1,0.2 0,0.2 0.1,0.3 0,0.2 0.1,0.3 0,0.2 0.1,0.3 0,0.2 0.1,0.3 0,0.2 0.1,0.3 0,0.2 0.1,0.3 0,0.2 0.1,0.3 0.1,0.1 0,0.4 0.1,0.1 0,0.3 0.1,0.2 0,0.3 0.1,0.2 0.1,0.4 0,0.1 0.1,0.3 0.1,0.2 0,0.3 0.1,0.2 0.1,0.3 0.1,0.1 0,0.3 0.1,0.3 0.1,0.2 0.1,0.2 0,0.2 0.1,0.3 0.1,0.2 0.1,0.3 0,0.3 0.1,0.2 0.1,0.2 0.1,0.2 0.1,0.3 0,0 0.1,0.5 0.1,0.3 0.1,0 0,0.4 0.1,0.2 0.1,0.3 0.1,0 0.1,0.4 0.1,0.2 0,0.2 0.1,0.3 0.1,0.2 0.1,0.1 0,0.4 0.1,0.2 0.1,0.3 0.1,0.2 0.1,0.3 0,0.2 0.1,0.4 0.1,0 0.1,0.4 0,0.1 0.1,0.2 0.1,0.3 0.1,0.3 0.1,0.1 0,0.4 0.1,0.2 0.1,0.2 0.1,0.2 0,0.3 0.1,0.3 0.1,0.2 0.1,0.2 0,0.2 0.1,0.3 0.1,0.2 0.1,0.3 0,0.2 0.1,0.2 0.1,0.2 0.1,0.3 0.1,0.2 0,0.4 0.1,0.2 0.1,0.1 0.1,0.3 0,0.4 0.1,0.1 0.1,0.2 0.1,0.1 0,0.3 0.1,0.4 0.1,0.2 0.1,0.1 0.1,0.4 0,0.2 0.1,0.2 0.1,0.2 0.1,0.3 0,0.3 0.1,0.1 0.1,0.3 0.1,0.3 0.1,0.3 0,0.1 0.1,0.4 0.1,0.2 0.1,0 0.1,0.5 0.1,0 0,0.4 0.1,0.1 0.1,0.2 0.1,0.4 0.1,0.2 0,0.2 0.1,0.3 0.1,0.2 0.1,0.2 0.1,0.2 0,0.4 0.1,0.2 0.1,0.2 0.1,0.2 0.1,0.2 0.1,0.2 0,0.3 0.1,0.2 0.1,0.4 0.1,0.1 0.1,0.3 0,0.2 0.1,0.3 0.1,0.2 0.1,0.2 0.1,0.4 0,0.1 0.1,0.3 0.1,0.3 0.1,0.1 0,0.3 0.1,0.2 0.1,0.2 0.1,0.2 0.1,0.4 0,0.1 0.1,0.3 0.1,0.3 0.1,0.1 0,0.3 0.1,0.2 0.1,0.2 0.1,0.3 0,0.2 0.1,0.3 0.1,0.2 0.1,0.4 0,0.1 0.1,0.3 0.1,0.3 0.1,0.1 0,0.2 0.1,0.3 0.1,0.2 0.1,0.3 0,0.3 0.1,0.2 0.1,0.2 0.1,0.2 0,0.3 0.1,0.3 0.1,0.1 0.1,0.3 0,0.3 0.1,0.2 0.1,0.2 0.1,0.3 0.1,0.1 0,0.3 0.1,0.3 0.1,0.2 0.1,0.2 0,0.3 0.1,0.2 0.1,0.4 0.1,0 0.1,0.3 0,0.4 0.1,0.1 0.1,0.2 0.1,0.2 0.1,0.4 0,0.2 0.1,0.2 0.1,0.2 0.1,0.3 0.1,0.2 0,0.3 0.1,0.2 0.1,0.2 0.1,0.1 0.1,0.3 0,0.1 0.1,0.4 0.1,0.3 0.1,0.2 0.1,0.4 0,0 0.1,0.3 0.1,0.2 0.1,0.3 0.1,0.2 0,0.2 0.1,0.3 0.1,0.4 0.1,0.1 0,0.3 0.1,0.1 0.1,0.3 0.1,0.3 0,0.2 0.1,0.2 0.1,0.2 0.1,0.3 0.1,0.3 0,0.2 0.1,0.1 0.1,0.2 0.1,0.4 0,0.2 0.1,0.3 0.1,0.3 0.1,0.1 0,0.4 0.1,0.1 0.1,0.2 0.1,0.4 0,0.2 0.1,0.2 0.1,0.1 0.1,0.3 0,0.3 0.1,0.2 0.1,0.3 0.1,0.3 0,0.2 0.1,0.3 0.1,0.1 0.1,0.4 0,0.1 0.1,0.3 0.1,0.2 0.1,0.1 0,0.2 0.1,0.4 0.1,0.2 0.1,0.3 0,0.3 0.1,0.1 0.1,0.2 0.1,0.3 0,0.3 0.1,0.2 0.1,0.2 0.1,0.2 0,0.3 0.1,0.2 0.1,0.3 0.1,0.3 0,0.1 0.1,0.3 0.1,0.3 0.1,0.2 0,0.3 0.1,0.2 0.1,0.2 0.1,0.3 0,0.2 0.1,0.2 0.1,0.3 0.1,0.3 0,0.2 0.1,0.3 0.1,0 0.1,0.3 0.1,0.2 0,0.3 0.1,0.2 0.1,0.4 0.1,0.2 0,0.1 0.1,0.3 0.1,0.3 0.1,0.3 0,0.2 0.1,0.2 0.1,0.2 0.1,0.3 0.1,0.2 0,0.2 0.1,0.2 0.1,0.4 0.1,0.1 0,0.3 0.1,0.3 0.1,0.1 0.1,0.3 0,0.1 0.1,0.4 0.1,0.1 0.1,0.2 0.1,0.3 0,0.3 0.1,0.2 0.1,0.2 0.1,0.4 0,0.1 0.1,0.3 0.1,0.2 0.1,0.2 0.1,0.3 0.1,0.3 0,0.2 0.1,0.3 0.1,0.1 0.1,0.2 0.1,0.3 0.1,0.2 0,0.3 0.1,0.2 0.1,0.2 0.1,0.3 0.1,0.3 0.1,-0.1 0.1,0.5 0.1,0.2 0,0.3 0.1,0.2 0.1,0.1 0.1,0.4 0.1,0.3 0.1,0 0.1,0.3 0.1,0.3 0,0 0.1,0.4 0.1,0.4 0.1,0 0.1,0.4 0.1,0.1 0.1,0.4 0.1,0.2 0.1,0.3 0.1,0.1 0.1,0.3 0.1,0.2 0.1,0.1 0.1,0.5 0.2,0 0.1,0.3 0.1,0.5 0.2,0 0.1,0 0.1,0.3" stroke="#ff8000" stroke-dasharray="10.5 10" stroke-dashoffset="10.12"/>
<path d="M300.1,109.8l0.2,0.1 0.2,0.2 0.2,-0.1 0.2,0.5 0.2,-0.3 0.2,0.6 0.2,0.2 0.2,0.2 0.3,0.6 0.2,-1.2 0.2,0.3 0.3,0.1 0.2,0.3 0.2,0.5 0.2,-0.2 0.2,0.1 0.2,0.1 0.2,0.3 0.2,0.2 0.1,0.2 0.2,-0.1 0.2,0.5 0.2,0.3 0.1,0.1 0.2,-0.1 0.2,0.6 0.1,0.2 0.2,0.1 0.2,-0.1 0.1,0.1 0.2,0.5 0.1,0 0.2,0.1 0.2,0.6 0.1,0.2 0.2,0.2 0.1,0.3 0.2,0.1 0.1,-0.1 0.2,0.6 0.1,0 0.2,0.2 0.1,0.4 0.2,0 0.1,0.4 0.2,0 0.1,0.1 0.1,0.2 0.2,0.3 0.1,0 0.1,0.4 0.2,0.2 0.1,0.2 0.1,0 0.2,0.2 0.1,0.6 0.1,0 0.1,0.5 0.1,0 0.1,0.3 0.1,0.1 0.1,0.3 0.2,0.2 0.1,0.4 0.1,0.3 0.1,0.1 0.1,0 0.1,0.4 0.1,0.2 0.1,0.2 0.1,0.3 0.1,0.4 0.1,0 0.1,0.4 0.1,0.2 0.1,0 0.1,0.5 0.1,0.3 0.1,0 0.1,0.4 0.1,0.1 0.2,0.3 0.1,0.2 0.1,0 0.2,0.4 0.1,0.1 0.1,0.2 0.2,0.1 0.1,0.2 0.1,0.2 0.2,0.5 0.1,-0.2 0.1,0.5 0.2,0.1 0.1,0.1 0.2,0.5 0.1,0 0.1,0.5 0.2,0 0.2,0.3 0.1,0.1 0.2,0.3 0.2,0.3 0.2,-0.2 0.2,0.2 0.2,0.7 0.3,-0.8 0.2,0.8 0.3,-0.8 0.2,-0.2 0.1,-0.3 0.2,-0.1 0.1,-0.3 0.1,0 0.1,-0.1 0.1,-0.3 0.1,-0.3 0.1,-0.3 0.1,-0.2 0.1,-0.3 0.1,-0.2 0.1,0.1 0.1,-0.4 0.1,-0.3 0.1,-0.1 0.1,-0.2 0.1,-0.4 0.1,-0.2 0.1,-0.3 0.1,-0.3 0.1,0.1 0.2,0 0.1,-0.7 0.1,-0.3 0.2,0.2 0.1,-0.2 0.2,-0.3 0.2,0.2 0.2,-0.6 0.3,0.1 0.2,0.3 0.2,-0.3 0.3,0.3 0.2,0 0.2,0.3 0.2,0.1 0.2,-0.3 0.1,0.6 0.2,-0.2 0.2,0.3 0.2,0 0.2,0.8 0.2,-0.1 0.1,0.1 0.2,0.6 0.2,0 0.2,-0.1 0.3,-0.5 0.2,1 0.2,-0.3 0.3,0 0.2,0.2 0.2,-0.5 0.2,0 0.1,-0.1 0.2,-0.3 0.1,-0.3 0.1,0 0.1,-0.3 0.1,-0.2 0.1,-0.4 0.1,-0.2 0,-0.2 0.1,-0.2 0.1,-0.3 0.1,-0.2" stroke="#ff8000" stroke-dasharray="10.5 10" stroke-dashoffset="13.12"/>
<path d="M327,123.4l0.1,-0.3 0,-0.3 0.1,-0.2 0.1,-0.2 0,-0.3 0.1,-0.3 0.1,-0.1 0,-0.2 0.1,-0.2 0,-0.4 0.1,-0.2 0.1,-0.2 0,-0.3 0.1,-0.2 0.1,-0.3 0,-0.2 0.1,-0.3 0,-0.1 0.1,-0.4 0.1,-0.2 0,-0.1 0.1,-0.3 0.1,-0.3 0,-0.2 0.1,-0.3 0.1,-0.2 0,-0.3 0.1,-0.1 0.1,-0.4 0.1,-0.1 0,-0.3 0.1,-0.2 0.1,-0.3 0.1,-0.2 0.1,-0.3 0,-0.2 0.1,-0.3 0.1,-0.3 0,-0.1 0.1,-0.2 0.1,-0.3 0,-0.3 0.1,-0.2 0.1,-0.3 0,-0.1 0.1,-0.3 0.1,-0.2 0.1,-0.2 0,-0.4 0.1,-0.1 0.1,-0.3 0.1,-0.2 0.1,-0.2 0,-0.2 0.1,-0.3 0.1,0 0.2,-0.5 0.1,-0.3 0.1,0 0.2,-0.6 0.1,0.5 0.2,-0.4 0.2,0 0.2,-0.2 0.2,-0.3 0.2,-0.7 0.2,0.2 0.3,0.3 0.2,-0.4 0.3,0.2 0.2,-0.4 0.3,-0.1 0.2,0.4 0.3,0.2 0.2,-0.3 0.3,-0.3 0.2,-0.2 0.3,1.3 0.2,-1.1 0.2,0.2 0.3,0.1 0.2,0.6 0.3,-0.5 0.2,0.5 0.2,0 0.3,-0.3 0.2,0.5 0.2,-0.3 0.3,0.4 0.2,0.4 0.2,-0.2 0.2,-0.1 0.2,0.3 0.2,0.2 0.2,0.3 0.2,-0.5 0.2,0.3 0.2,0.7 0.2,0 0.2,0.2 0.2,0.2 0.2,0.1 0.1,0.1 0.2,0.3 0.2,0.3 0.2,0.1 0.1,0.2 0.2,-0.1 0.2,0.5 0.2,-0.1 0.1,0.2 0.2,0.4 0.2,0.2 0.1,0.3 0.2,0.2 0.2,0.1 0.1,0 0.2,0.3 0.2,0.1 0.1,0.6 0.2,-0.1 0.2,0 0.1,0.1 0.2,0.6 0.2,-0.2 0.1,0.4 0.2,0.2 0.2,0.3 0.2,-0.2 0.1,0.5 0.2,0.1 0.2,0.3 0.1,0.3 0.2,0 0.2,0.1 0.1,0.4 0.2,-0.3 0.2,0.5 0.1,0 0.2,0.1 0.2,0.1 0.1,0.2 0.2,0.7 0.2,0.2 0.1,0 0.2,0.4 0.1,0 0.2,0.1 0.2,0.1 0.1,0.5 0.2,0.2 0.1,0.3 0.2,-0.2 0.2,0.3 0.1,0 0.2,0.6 0.1,0.1 0.2,0.2 0.1,0.1 0.2,0.2 0.1,0.2 0.2,0.4 0.1,-0.1 0.2,0.5 0.1,0.1 0.2,0 0.1,0.1 0.1,0.3 0.2,0.4 0.1,0 0.1,0.5 0.1,0.3 0.1,0.1 0.1,0 0.2,0.2 0.1,0.5 0.1,0.3 0.1,0 0.1,0.3 0.1,0.2 0.1,0.2 0.1,0.4 0.1,0.1 0.1,0.3 0.1,0.3 0.1,0.1 0.1,0.4 0.1,-0.1 0.1,0.5 0.2,0.1 0.1,0.5 0.1,-0.1 0.2,0.1 0.1,0.6 0.2,-0.4 0.1,0.6 0.2,-0.1 0.2,0.7 0.1,-0.2 0.2,0.4 0.2,0 0.2,-0.1 0.2,-0.1 0.2,1.1 0.1,-0.2 0.2,-0.2 0.2,0.4 0.3,0.5 0.2,-0.6 0.2,1.2 0.2,-0.6 0.2,0.1 0.3,0.6 0.2,-0.2 0.2,-0.4 0.3,0.7 0.2,-0.1 0.3,0.2 0.2,-0.7 0.3,-0.1 0.2,0.5 0.2,-0.5 0.2,-0.6 0.2,0.3 0.2,0.1 0.2,-0.4 0.2,0.2 0.1,-0.6 0.2,-0.1 0.1,-0.4 0.2,-0.1 0.1,-0.1 0.2,-0.1 0.1,-0.2 0.2,-0.1 0.1,-0.7 0.2,0.1 0.1,-0.2 0.1,-0.4 0.2,0 0.1,-0.3 0.2,-0.1 0.1,-0.3 0.1,-0.1 0.2,-0.4 0.1,0.2 0.2,-0.4 0.1,0.1 0.2,-0.6 0.1,-0.2 0.2,-0.1 0.2,-0.3 0.2,-0.3 0.2,0.1 0.1,-0.2 0.2,-0.3 0.2,-0.1 0.3,-0.3 0.2,0.2 0.2,-0.6 0.2,0.8 0.2,-0.6 0.2,0.1 0.2,-0.8 0.3,0.4 0.2,-0.3 0.2,0.2 0.2,-0.1 0.2,-0.9 0.2,0.7 0.3,-0.9 0.2,0.7 0.2,-0.6 0.2,-0.4 0.2,0.3 0.2,-0.3 0.2,-0.4 0.1,-0.1 0.2,0.1 0.2,-0.6 0.1,-0.1 0.2,0.3 0.2,-0.6 0.1,0 0.2,-0.2 0.1,-0.1 0.1,-0.3 0.2,-0.7 0.1,0.1 0.2,0.1 0.1,-0.5 0.1,0.1 0.2,-0.4 0.1,-0.4 0.2,0 0.1,0.1 0.2,-0.7 0.1,0 0.2,-0.4 0.1,-0.2 0.2,0 0.1,-0.1 0.2,-0.2 0.2,-0.2 0.2,0.4 0.2,-1.1 0.2,-0.4 0.3,0.7 0.2,-0.2 0.3,-0.6 0.2,1.2 0.2,-0.8 0.3,-0.2 0.2,0.7 0.2,0.2 0.3,0.6 0.2,-1 0.2,0.3 0.2,0.4 0.2,0.1 0.2,0.2 0.2,0.1 0.1,-0.1 0.2,0.5 0.2,0.4 0.2,0.2 0.2,-0.2 0.1,0.5 0.2,0.1 0.2,0 0.2,0.2 0.2,0.3 0.1,0.8 0.2,-0.5 0.2,0 0.2,0.3 0.1,0.1 0.2,0.6 0.2,-0.5 0.1,0.4 0.2,0.6 0.1,0.1 0.2,0.1 0.1,0.3 0.2,-0.1 0.2,0.5 0.1,-0.1 0.2,0.2 0.1,0.5 0.1,0 0.2,0.2 0.1,0.4 0.2,-0.1 0.1,0.5 0.2,0.5 0.1,-0.2 0.2,0.4 0.2,0.1 0.1,-0.1 0.2,0.1 0.1,0.5 0.2,-0.2 0.1,0.6 0.2,0.2 0.2,0.2 0.1,0.2 0.2,0.4 0.2,-0.2 0.1,0.6 0.2,0 0.2,0.2 0.2,0 0.1,0.4 0.2,-0.2 0.2,0.5 0.2,0.3 0.1,-0.2 0.2,0.1 0.2,0.2 0.2,0.3 0.1,0.3 0.2,0.3 0.2,0.4 0.2,0.1 0.2,-0.1 0.1,0 0.2,0 0.2,0.6 0.2,0.1 0.2,0 0.1,0.2 0.2,0.2 0.2,-0.3 0.2,0.7 0.2,0.2 0.1,0.1 0.2,0 0.2,0.4 0.2,0.3 0.1,0.4 0.2,0.1 0.2,0 0.2,0.1 0.2,-0.1 0.1,0.3 0.2,0 0.2,0.5 0.1,0.4 0.2,0.2 0.2,0.1 0.2,0 0.1,0.4 0.2,-0.1 0.2,-0.1 0.1,0.6 0.2,0.2 0.2,-0.2 0.1,0.4 0.2,-0.2 0.2,0.6 0.2,0.5 0.1,-0.2 0.2,0.6 0.2,-0.1 0.2,0 0.2,-0.1 0.2,0.8 0.1,0.1 0.2,-0.4 0.2,0.5 0.2,0.5 0.2,-0.3 0.2,0.4 0.2,-0.4 0.2,0.4 0.2,0.6 0.2,-0.4 0.2,0.1 0.2,0.2 0.2,0.4 0.2,-0.2 0.2,0.5 0.2,0.4 0.2,0.4 0.3,-0.5 0.2,0.8 0.2,-0.2 0.2,-0.2 0.3,0.3 0.2,0.5 0.3,0 0.2,-0.3 0.3,-0.3 0.2,0.3 0.3,-0.3 0.2,-0.1 0.2,-0.1 0.2,0.3 0.2,-1 0.2,0.1 0.2,-0.3 0.2,0.2 0.1,-0.1 0.2,-0.2 0.2,-0.5 0.1,-0.1 0.2,-0.1 0.1,-0.3 0.2,-0.2 0.1,-0.2 0.2,-0.2 0.1,-0.2 0.2,-0.1 0.1,-0.6 0.2,0 0.2,-0.4 0.1,0.1 0.2,-0.3 0.2,0 0.1,0 0.2,-0.7 0.2,-0.1 0.2,0.1 0.2,0.2 0.2,-0.4 0.2,-0.2 0.2,-0.2 0.2,-0.3 0.2,0.1 0.3,0 0.2,-0.2 0.2,-0.4 0.2,-0.4 0.3,0.1 0.2,0.1 0.2,-0.4 0.3,0.4 0.2,-0.6 0.2,0.2 0.2,0.1 0.2,0 0.3,-0.3 0.2,0.1 0.2,-0.6 0.2,-0.2 0.1,0.2 0.2,-0.6 0.1,0 0.2,-0.4 0.1,0.1 0.1,-0.3 0.1,-0.4 0.1,-0.2 0.1,-0.2 0,-0.2 0.1,-0.2 0,-0.2 0.1,-0.3 0.1,-0.3 0,-0.2 0.1,-0.3 0,-0.3 0.1,-0.2 0.1,-0.2 0,-0.3 0.1,-0.3 0.1,0 0.1,-0.4 0.1,-0.1 0.1,-0.1 0.2,-0.4 0.1,0 0.2,-0.4 0.3,-0.3 0.2,0.1 0.2,0 0.3,0 0.2,0 0.3,-0.2 0.2,0.5 0.3,-0.4 0.2,-0.1 0.3,0.5 0.2,-0.7 0.3,0.4 0.2,0.6 0.3,-0.5 0.2,0.5 0.3,-0.5 0.2,-0.1 0.3,0.2 0.2,-0.1 0.2,0.1 0.3,0 0.2,0.4 0.3,-0.1 0.2,-0.3 0.3,-0.2 0.2,1.4 0.3,-1.2 0.2,0.6 0.3,-1 0.2,0.2 0.3,0.7 0.2,-0.9 0.3,0 0.2,0.3 0.3,-0.2 0.2,0.1 0.3,0.1 0.2,0.2 0.3,-0.3 0.2,-0.1 0.2,0.2 0.2,-0.2 0.2,-0.6 0.2,-0.5 0.2,0.1 0.2,0.3 0.2,-0.5 0.2,-0.3 0.1,-0.1 0.2,0.2 0.2,-0.5 0.1,-0.2 0.2,-0.3 0.1,-0.2 0.2,0.4 0.1,-0.7 0.2,-0.2 0.1,-0.2 0.1,-0.1 0.2,-0.4 0.1,-0.4 0.1,0 0.1,-0.1 0.1,-0.1 0.1,-0.4 0.1,-0.3 0.1,-0.2 0.1,-0.3 0.1,-0.2 0.1,-0.2 0.1,-0.2 0.1,-0.3 0,-0.2 0.1,-0.3 0,-0.2 0.1,-0.3 0,-0.2 0.1,-0.2 0,-0.3 0,-0.2 0.1,-0.3 0,-0.2 0,-0.3 0,-0.2 0.1,-0.3 0,-0.2 0,-0.3 0,-0.2 0,-0.3 0,-0.2 0,-0.3 0,-0.2 0.1,-0.3 0,-0.2 0,-0.3 0,-0.2 0,-0.3 0,-0.2 0,-0.3 0,-0.2 0,-0.3 0,-0.2 0,-0.3 0,-0.2 0,-0.3 0,-0.2 0,-0.3 0,-0.2 0,-0.3 0,-0.2 0,-0.3 0,-0.2 0,-0.3 0.1,-0.2 0,-0.3 0,-0.2 0,-0.3 0,-0.2 0.1,-0.3 0,-0.2 0,-0.3 0.1,-0.2 0,-0.2 0.1,-0.3 0,-0.3 0.1,-0.3 0.1,-0.1 0.1,-0.4 0.1,-0.1 0.1,-0.1 0.1,-0.8 0.2,0.3 0.2,-0.1 0.2,-0.3 0.2,0.1 0.2,-0.1 0.2,0 0.3,0.5 0.2,-0.8 0.2,-0.5 0.3,-0.1 0.2,-0.1 0.3,0.7 0.2,-0.1 0.3,0 0.2,-0.1 0.3,0.5 0.2,-0.1 0.3,-0.1 0.2,-0.6 0.3,0 0.2,-0.4 0.3,0.2 0.2,0.1 0.2,-0.5 0.2,0 0.2,0.7 0.2,-0.8 0.2,-0.5 0.3,-0.1 0.2,0.2 0.2,0.2 0.2,-0.4 0.2,0.2 0.3,-0.3 0.2,-0.6 0.2,0.7 0.3,-0.5 0.2,0.8 0.3,-0.9 0.2,0.2 0.3,-0.1 0.2,0.2 0.3,0.3 0.2,-0.1 0.2,0.5 0.2,-0.1 0.3,0.5 0.2,-0.4 0.2,0.5 0.3,0.1 0.2,-0.4 0.2,1 0.2,-0.2 0.3,-0.2 0.2,-0.2 0.2,0.2 0.3,0 0.2,0.2 0.3,-0.4 0.2,0.5 0.2,-0.3 0.3,0.8 0.2,-0.3 0.3,0.2 0.2,0.2 0.3,-0.7 0.2,0.4 0.2,-0.6 0.3,0 0.2,-0.6 0.3,0.3 0.2,0.5 0.3,-0.4 0.2,-0.2 0.3,0.1 0.2,-0.2 0.3,0.1 0.2,-0.2 0.2,0.9 0.3,0.1 0.2,-0.4 0.3,-0.4 0.2,0.5 0.3,0.8 0.2,-1.1 0.2,0.4 0.3,0.1 0.2,0.5 0.3,-0.7 0.2,0.6 0.2,-0.3 0.3,0.3 0.2,-0.2 0.3,0.6 0.2,-0.2 0.2,0 0.3,0.7 0.2,-0.2 0.2,0.7 0.3,-0.5 0.2,0 0.2,0.1 0.2,0.9 0.3,-0.3 0.2,-0.4 0.2,0.3 0.2,-0.2 0.3,0.5 0.2,-0.2 0.2,0.1 0.2,0.4 0.2,0.4 0.2,0 0.2,0.1 0.2,0 0.2,-0.5 0.2,0.7 0.2,0.2 0.2,0.3 0.2,0.5 0.2,-0.1 0.2,-0.4 0.1,0.6 0.2,0.1 0.2,0.4 0.2,0 0.1,-0.2 0.2,0.4 0.2,0.3 0.2,-0.2 0.1,0.6 0.2,0.1 0.2,0.5 0.1,-0.1 0.2,0.1 0.2,0.3 0.2,0.2 0.1,0.4 0.2,-0.2 0.1,0 0.2,1.1 0.2,-0.2 0.1,0.1 0.2,0.6 0.1,-0.4 0.2,0.2 0.1,0.3 0.2,0.3 0.1,0.1 0.2,0.4 0.1,0 0.2,0.5 0.1,0 0.2,-0.1 0.1,0.5 0.2,0 0.1,0.3 0.2,0.3 0.1,0.6 0.2,-0.3 0.1,-0.1 0.2,0.6 0.2,-0.1 0.1,0.8 0.2,0 0.2,0.3 0.2,-0.2 0.1,0 0.2,0.5 0.2,-0.3 0.2,0.2 0.2,0.2 0.3,0.3 0.2,-0.5 0.3,-0.2 0.2,1.2 0.2,-0.7 0.3,0 0.2,0.1 0.2,-0.2 0.2,-0.5 0.1,-0.1 0.2,0.2 0.1,-0.3 0.2,-0.3 0.1,-0.1 0.1,-0.7 0.1,0 0.1,-0.2 0.1,-0.4 0.1,0 0.1,-0.2 0.1,-0.3 0.1,-0.4 0.1,-0.1 0.1,-0.2 0.1,-0.3 0.1,-0.2 0.1,-0.2 0.1,-0.1 0.1,-0.4 0.1,0 0.1,-0.4 0.1,-0.3 0.1,-0.2 0.1,-0.3 0,-0.2 0.1,-0.1 0.1,-0.5 0.1,-0.2 0.1,0 0.1,-0.3 0,-0.3 0.1,-0.2 0.1,-0.2 0.1,-0.4 0.1,-0.2 0,-0.2 0.1,-0.2 0.1,-0.2 0.1,-0.3 0,-0.2 0.1,-0.3 0.1,-0.3 0,-0.1 0.1,-0.3 0.1,-0.3 0,-0.2 0.1,-0.2 0,-0.2 0.1,-0.3 0,-0.2 0.1,-0.3 0,-0.2 0.1,-0.3 0,-0.2 0,-0.3 0.1,-0.2 0,-0.3 0,-0.2 0,-0.3 0.1,-0.3 0,-0.2 0,-0.3 0,-0.2 0.1,-0.2 0,-0.3 0,-0.2 0,-0.3 0,-0.2 0,-0.3 0.1,-0.2 0,-0.3 0,-0.2 0,-0.3 0,-0.2 0,-0.3 0.1,-0.2 0,-0.3 0,-0.2 0,-0.3 0,-0.2 0,-0.3 0.1,-0.2 0,-0.3 0,-0.2 0,-0.3 0.1,-0.2 0,-0.3 0,-0.2 0.1,-0.3 0,-0.2 0.1,-0.3 0,-0.2 0.1,-0.2 0,-0.3 0.1,-0.3 0,-0.1 0.1,-0.3 0.1,-0.4 0,-0.1 0.1,-0.3 0.1,-0.1 0.1,-0.2 0.1,-0.2 0,-0.2 0.1,-0.5 0.1,-0.3 0.1,-0.2 0.1,-0.1 0.1,-0.5 0.1,0 0.1,-0.1 0.1,-0.4 0.2,-0.2 0.1,-0.3 0.1,0.1 0.1,-0.2 0.1,-0.6 0.1,-0.2 0.2,0 0.1,-0.2 0.1,-0.2 0.2,-0.2 0.1,-0.2 0.1,-0.1 0.2,-0.1 0.1,-0.5 0.2,-0.3 0.1,-0.1 0.2,0.2 0.1,-0.4 0.2,-0.2 0.2,0 0.2,-0.2 0.2,0.3 0.2,-1.1 0.2,0.3 0.3,0.1 0.2,0 0.3,-0.5 0.2,-0.5 0.3,0.5 0.2,-0.1 0.3,0.1 0.2,0.4 0.3,-0.2 0.2,-0.7 0.2,0 0.3,0.3 0.2,0.2 0.2,-0.5 0.3,0 0.2,-0.7 0.2,0.3 0.3,-0.2 0.2,0.3 0.3,-0.3 0.2,-0.3 0.2,-0.1 0.3,0.3 0.2,-0.4 0.2,0.6 0.3,-0.5 0.2,-0.2 0.2,0.3 0.3,-0.8 0.2,0.6 0.2,-0.6 0.3,0.4 0.2,-0.6 0.2,-0.2 0.2,-0.4 0.3,0.5 0.2,0.1 0.2,-0.7 0.2,0.8 0.3,-0.7 0.2,-0.4 0.2,0.6 0.1,-0.7 0.2,0.2 0.2,-1.1 0.2,0.9 0.1,-0.6 0.2,-0.2 0.2,-0.1 0.2,-0.5 0.2,0.3 0.2,-0.2 0.2,-0.2 0.2,-0.4 0.3,-0.3 0.2,0.6 0.3,0.1 0.2,-0.2 0.3,-0.1 0.2,-0.1 0.3,0.5 0.2,0.3 0.2,-0.5 0.3,-0.2 0.2,1.3 0.3,-1.3 0.2,0.7 0.2,-0.1 0.3,0.6 0.2,-0.4 0.2,-0.4 0.2,0.3 0.3,0.5 0.2,0.1 0.2,-0.1 0.2,0.1 0.3,-0.2 0.2,0.2 0.2,0.4 0.2,0.1 0.2,0.3 0.2,-0.2 0.3,0.9 0.2,-0.8 0.2,0.9 0.2,0.1 0.2,0.4 0.2,0.1 0.2,-0.6 0.2,0.6 0.2,0.3 0.1,0.2 0.2,0 0.2,0 0.2,0.5 0.2,-0.1 0.1,0.1 0.2,0.3 0.2,0.1 0.2,0.1 0.1,0.4 0.2,0.6 0.2,-0.2 0.1,0.1 0.2,0.1 0.2,0.3 0.1,0 0.2,0.5 0.1,0.1 0.2,0.2 0.1,0.2 0.2,0.1 0.1,0.4 0.2,0.1 0.1,0.2 0.2,0.2 0.1,0.3 0.1,0.1 0.2,0.4 0.1,0 0.1,0.4 0.1,0.1 0.2,0.2 0.1,0.1 0.1,0.4 0.1,0.2 0.1,0.2 0.1,0.2 0.1,0.2 0.1,0.1 0.2,0.2 0.1,0.5 0.1,0.1 0.1,0.4 0.1,0.3 0.1,0.1 0.2,0.2 0.1,0.2 0.1,0.1 0.2,0.1 0.1,-0.2 0.2,0.9 0.2,0.2 0.2,-0.2 0.2,0 0.2,-0.1 0.1,-0.3 0.1,-0.3 0.1,-0.3 0,-0.2 0.1,-0.3 0,-0.2 0,-0.3 0.1,-0.2 0,-0.3 0.1,-0.2 0,-0.2 0,-0.3 0.1,-0.3 0,-0.2 0,-0.2 0.1,-0.3 0,-0.3 0.1,-0.2 0,-0.2 0,-0.3 0.1,-0.2 0,-0.3 0.1,-0.2 0,-0.3 0.1,-0.2 0,-0.3 0,-0.2 0.1,-0.3 0,-0.2 0.1,-0.2 0,-0.3 0,-0.2 0.1,-0.3 0,-0.3 0,-0.2 0.1,-0.3 0,-0.2 0.1,-0.3 0,-0.2 0,-0.2 0.1,-0.3 0,-0.2 0,-0.3 0.1,-0.2 0,-0.2 0,-0.4 0.1,-0.2 0,-0.2 0,-0.2 0.1,-0.3 0,-0.3 0.1,-0.2 0,-0.2 0,-0.2 0.1,-0.3 0,-0.3 0,-0.2 0.1,-0.3 0,-0.2 0,-0.3 0.1,-0.2 0,-0.3 0,-0.2 0.1,-0.3 0,-0.2 0.1,-0.3 0,-0.2 0,-0.2 0.1,-0.3 0,-0.2 0.1,-0.3 0,-0.3 0,-0.2 0.1,-0.2 0,-0.3 0.1,-0.2 0,-0.2 0,-0.3 0.1,-0.2 0,-0.3 0.1,-0.3 0,-0.2 0.1,-0.3 0,-0.2 0.1,-0.3 0,-0.2 0,-0.3 0.1,-0.2 0,-0.2 0,-0.3 0.1,-0.2 0,-0.3 0,-0.3 0.1,-0.2 0,-0.2 0,-0.3 0.1,-0.2 0,-0.3 0.1,-0.2 0,-0.3 0.1,-0.2 0,-0.2 0.1,-0.2 0.1,-0.5 0.1,-0.1 0.1,-0.4 0.1,-0.1 0.1,-0.3 0.2,-0.1 0.1,-0.2 0.2,0.1 0.2,-0.1 0.2,-0.6 0.2,-0.1 0.2,0.1 0.2,-0.5 0.2,0 0.2,-0.6 0.2,0.7 0.3,-0.2 0.2,-0.5 0.2,-0.3 0.3,0 0.2,0.5 0.2,-0.4 0.3,-0.4 0.2,0.3 0.3,0.3 0.2,0.1 0.2,0 0.3,-0.5 0.2,0 0.3,-0.1 0.2,0.1 0.3,0 0.2,-0.6 0.3,0 0.2,0.1 0.3,0.4 0.2,-0.5 0.3,-0.1 0.2,0.7 0.3,0.1 0.2,-0.8 0.3,0.3 0.2,0.4 0.3,-0.5 0.2,0.5 0.2,-0.7 0.3,0.5 0.2,0.4 0.2,0.4 0.2,-0.1 0.2,-0.5 0.2,0.2 0.2,0.3 0.2,0.6 0.2,0.1 0.1,0.3 0.2,0.1 0.2,-0.1 0.1,0.3 0.2,0 0.2,0.6 0.1,-0.3 0.2,0.5 0.2,0.2 0.1,0.4 0.2,-0.2 0.1,0.4 0.2,0 0.1,0.5 0.2,0 0.1,0.2 0.1,0.1 0.2,0.3 0.1,0.2 0.1,0.2 0.2,0.5 0.1,-0.1 0.1,0.4 0.2,0.3 0.1,-0.1 0.1,0.1 0.2,0.6 0.1,-0.1 0.1,0.3 0.2,0.3 0.1,0.3 0.1,0.1 0.2,0.2 0.1,0.4 0.1,0.1 0.1,0.5 0.2,-0.2 0.1,0.3 0.2,0.2 0.1,0.3 0.1,0.2 0.2,0.2 0.1,0.5 0.2,-0.1 0.1,0.3 0.1,0.1 0.2,0.1 0.1,0.4 0.2,-0.2 0.1,0.7 0.2,-0.3 0.2,0.4 0.1,0.3 0.2,0.1 0.1,0.2 0.2,0.5 0.1,0.4 0.2,0 0.2,0 0.1,0 0.2,0.2 0.1,0.6 0.2,0.1 0.1,0.3 0.2,0.1 0.2,0.3 0.1,-0.2 0.2,0.1 0.2,0.2 0.1,0.4 0.2,0.1 0.1,0.3 0.2,-0.1 0.2,0.5 0.1,0.3 0.2,0 0.1,-0.3 0.2,0.7 0.2,0.1 0.1,0.5 0.2,0 0.1,0.3 0.2,0 0.1,0.3 0.2,0.3 0.2,0 0.1,0.3 0.2,0.2 0.1,0.2 0.2,0.1 0.2,0.3 0.1,-0.2 0.2,0.5 0.1,0.3 0.2,0.2 0.2,-0.1 0.1,0.2 0.2,0.4 0.1,0.2 0.2,0.2 0.2,0.2 0.1,0.2 0.2,0.3 0.1,-0.2 0.2,0.2 0.2,0.6 0.1,-0.1 0.2,0.4 0.1,0 0.2,0.1 0.2,0.6 0.1,-0.1 0.2,0.1 0.1,0.3 0.2,0.2 0.2,0.2 0.1,0.2 0.2,0.2 0.1,0.2 0.2,0.2" stroke="#ff8000" stroke-dasharray="10.5 10" stroke-dashoffset="17.98"/>
<path d="M57,107.2l0.2,0 0.3,0 0.2,0 0.3,0.1 0.2,0 0.2,0.2 0.2,0.1 0.2,0.2 0.1,0.2 0.2,0.2 0.1,0.3 0.1,0.2 0.1,0.2 0.1,0.2 0.1,0.3 0.2,0.2 0.1,0.2 0.1,0.2 0.1,0.2 0.1,0.3 0.1,0.2 0.2,0.2 0.1,0.2 0.1,0.2 0.1,0.3 0.2,0.2 0.1,0.2 0.1,0.2 0.1,0.2 0.2,0.2 0.1,0.3 0.1,0.2 0.1,0.2 0.2,0.2 0.1,0.2 0.1,0.2 0.1,0.3 0.2,0.2 0.1,0.2 0.1,0.2 0.1,0.2 0.2,0.2 0.1,0.3 0.1,0.2 0.1,0.2 0.1,0.2 0.1,0.2 0.2,0.3 0.1,0.2 0.1,0.2 0.1,0.2 0.1,0.2 0.2,0.3 0.1,0.2 0.1,0.2 0.1,0.2 0.1,0.3 0.1,0.2 0.2,0.2 0.1,0.2 0.1,0.2 0.1,0.3 0.1,0.2 0.1,0.2 0.1,0.2 0.1,0.3 0.1,0.2 0.2,0.2 0.1,0.2 0.1,0.3 0.1,0.2 0.1,0.2 0.1,0.3 0.1,0.2 0.1,0.2 0.1,0.2 0.1,0.3 0.1,0.2 0.1,0.2 0.1,0.2 0.1,0.3 0.1,0.2 0.1,0.2 0.1,0.3 0.1,0.2 0.1,0.2 0.1,0.2 0.1,0.3 0.1,0.2 0.1,0.2 0.1,0.3 0.1,0.2 0.1,0.2 0.1,0.2 0.1,0.3 0.1,0.2 0.1,0.2 0.1,0.3 0.1,0.2 0.1,0.2 0.1,0.3 0.1,0.2 0.1,0.2 0.1,0.2 0.1,0.3 0.1,0.2 0.1,0.2 0.1,0.3 0.1,0.2 0.1,0.2 0.1,0.3 0.1,0.2 0.1,0.2 0.1,0.2 0.1,0.3 0.1,0.2 0.1,0.2 0.1,0.3 0.1,0.2 0.1,0.2 0.1,0.3 0.1,0.2 0.1,0.2 0.1,0.3 0.1,0.2 0.1,0.2 0.1,0.3 0.1,0.2 0,0.2 0.1,0.3 0.1,0.2 0.1,0.2 0.1,0.3 0.1,0.2 0.1,0.2 0.1,0.3 0,0.2 0.1,0.2 0.1,0.3 0.1,0.2 0.1,0.2 0.1,0.3 0,0.2 0.1,0.3 0.1,0.2 0.1,0.2 0.1,0.3 0,0.2 0.1,0.2 0.1,0.3 0.1,0.2 0,0.3 0.1,0.2 0.1,0.2 0.1,0.3 0,0.2 0.1,0.3 0.1,0.2 0.1,0.2 0,0.3 0.1,0.2 0.1,0.2 0.1,0.3 0,0.2 0.1,0.3 0.1,0.2 0.1,0.2 0,0.3 0.1,0.2 0.1,0.3 0.1,0.2 0,0.2 0.1,0.3 0.1,0.2 0.1,0.2 0,0.3 0.1,0.2 0.1,0.3 0.1,0.2 0.1,0.2 0,0.3 0.1,0.2 0.1,0.2 0.1,0.3 0.1,0.2 0,0.3 0.1,0.2 0.1,0.2 0.1,0.3 0.1,0.2 0,0.2 0.1,0.3 0.1,0.2 0.1,0.3 0,0.2 0.1,0.2 0.1,0.3 0.1,0.2 0.1,0.2 0,0.3 0.1,0.2 0.1,0.3 0.1,0.2 0.1,0.2 0,0.3 0.1,0.2 0.1,0.2 0.1,0.3 0.1,0.2 0,0.3 0.1,0.2 0.1,0.2 0.1,0.3 0.1,0.2 0,0.2 0.1,0.3 0.1,0.2 0.1,0.3 0.1,0.2 0.1,0.2 0,0.3 0.1,0.2 0.1,0.2 0.1,0.3 0.1,0.2 0.1,0.2 0,0.3 0.1,0.2 0.1,0.2 0.1,0.3 0.1,0.2 0.1,0.3 0.1,0.2 0,0.2 0.1,0.3 0.1,0.2 0.1,0.2 0.1,0.3 0.1,0.2 0.1,0.2 0.1,0.3 0.1,0.2 0,0.2 0.1,0.3 0.1,0.2 0.1,0.2 0.1,0.3 0.1,0.2 0.1,0.2 0.1,0.3 0.1,0.2 0.1,0.2 0,0.3 0.1,0.2 0.1,0.2 0.1,0.3 0.1,0.2 0.1,0.2 0.1,0.3 0.1,0.2 0.1,0.2 0.1,0.3 0.1,0.2 0,0.2 0.1,0.3 0.1,0.2 0.1,0.2 0.1,0.3 0.1,0.2 0.1,0.2 0.1,0.3 0,0.2 0.1,0.2 0.1,0.3 0.1,0.2 0.1,0.3 0.1,0.2 0,0.2 0.1,0.3 0.1,0.2 0.1,0.2 0.1,0.3 0.1,0.2 0.1,0.2 0,0.3 0.1,0.2 0.1,0.2 0.1,0.3 0.1,0.2 0,0.3 0.1,0.2 0.1,0.2 0.1,0.3 0,0.2 0.1,0.3 0.1,0.2 0.1,0.2 0,0.3 0.1,0.2 0.1,0.2 0.1,0.3 0,0.2 0.1,0.3 0.1,0.2 0.1,0.2 0,0.3 0.1,0.2 0.1,0.3 0,0.2 0.1,0.2 0.1,0.3 0.1,0.2 0,0.3 0.1,0.2 0.1,0.2 0,0.3 0.1,0.2 0.1,0.3 0.1,0.2 0,0.2 0.1,0.3 0.1,0.2 0,0.3 0.1,0.2 0.1,0.2 0,0.3 0.1,0.2 0.1,0.3 0.1,0.2 0,0.2 0.1,0.3 0.1,0.2 0,0.3 0.1,0.2 0.1,0.2 0,0.3 0.1,0.2 0.1,0.3 0.1,0.2 0,0.3 0.1,0.2 0.1,0.2 0,0.3 0.1,0.2 0.1,0.2 0.1,0.3 0,0.2 0.1,0.3 0.1,0.2 0,0.2 0.1,0.3 0.1,0.2 0.1,0.3 0,0.2 0.1,0.2 0.1,0.3 0.1,0.2 0,0.3 0.1,0.2 0.1,0.2 0,0.3 0.1,0.2 0.1,0.3 0.1,0.2 0,0.2 0.1,0.3 0.1,0.2 0,0.3 0.1,0.2 0.1,0.2 0.1,0.3 0,0.2 0.1,0.3 0.1,0.2 0.1,0.2 0,0.3 0.1,0.2 0.1,0.3 0.1,0.2 0,0.2 0.1,0.3 0.1,0.2 0.1,0.2 0,0.3 0.1,0.2 0.1,0.3 0.1,0.2 0.1,0.2 0,0.3 0.1,0.2 0.1,0.2 0.1,0.3 0.1,0.2 0,0.3 0.1,0.2 0.1,0.2 0.1,0.3 0.1,0.2 0,0.2 0.1,0.3 0.1,0.2 0.1,0.2 0.1,0.3 0.1,0.2 0.1,0.3 0,0.2 0.1,0.2 0.1,0.3 0.1,0.2 0.1,0.2 0.1,0.3 0.1,0.2 0,0.2 0.1,0.3 0.1,0.2 0.1,0.2 0.1,0.3 0.1,0.2 0.1,0.2 0.1,0.3 0.1,0.2 0,0.2 0.1,0.3 0.1,0.2 0.1,0.2 0.1,0.3 0.1,0.2 0.1,0.2 0.1,0.3 0.1,0.2 0.1,0.2 0.1,0.3 0,0.2 0.1,0.2 0.1,0.3 0.1,0.2 0.1,0.2 0.1,0.3 0.1,0.2 0.1,0.2 0.1,0.3 0.1,0.2 0.1,0.2 0.1,0.3 0.1,0.2 0.1,0.2 0.1,0.2 0.1,0.3 0.1,0.2 0.1,0.2 0.1,0.3 0.1,0.2 0.1,0.2 0.1,0.3 0.1,0.2 0.1,0.2 0.1,0.2 0.1,0.3 0.1,0.2 0.1,0.2 0.1,0.3 0.1,0.2 0.1,0.2 0.1,0.2 0.1,0.3 0.1,0.2 0.1,0.2 0.1,0.3 0.1,0.2 0.1,0.2 0.1,0.2 0.1,0.3 0.1,0.2 0.1,0.2 0.1,0.3 0.1,0.2 0.1,0.2 0.1,0.2 0.1,0.3 0.2,0.2 0.1,0.2 0.1,0.2 0.1,0.3 0.1,0.2 0.1,0.2 0.1,0.2 0.1,0.3 0.1,0.2 0.1,0.2 0.1,0.3 0.1,0.2 0.1,0.2 0.1,0.2 0.1,0.3 0.1,0.2 0.2,0.2 0.1,0.2 0.1,0.3 0.1,0.2 0.1,0.2 0.1,0.2 0.1,0.3 0.1,0.2 0.2,0.2 0.1,0.2 0.1,0.2 0.1,0.3 0.1,0.2 0.1,0.2 0.1,0.2 0.1,0.3 0.2,0.2 0.1,0.2 0.1,0.2 0.1,0.3 0.1,0.2 0.1,0.2 0.1,0.3 0.1,0.2 0.1,0.2 0.1,0.2 0.1,0.3 0.1,0.2 0.1,0.2 0.1,0.3 0.1,0.2 0.1,0.2 0.1,0.2 0.1,0.3 0.1,0.2 0.1,0.2 0.1,0.3 0.1,0.2 0.1,0.2 0.1,0.2 0.1,0.3 0.1,0.2 0.1,0.2 0.1,0.3 0.1,0.2 0.1,0.2 0.1,0.2 0.1,0.3 0.1,0.2 0.1,0.2 0.1,0.3 0.1,0.2 0.1,0.2 0.1,0.2 0.1,0.3 0.1,0.2 0.1,0.2 0.1,0.3 0.1,0.2 0.2,0.2 0.1,0.2 0.1,0.3 0.1,0.2 0.1,0.2 0.1,0.2 0.1,0.3 0.1,0.2 0.1,0.2 0.1,0.3 0.1,0.2 0.1,0.2 0.1,0.2 0.1,0.3 0.1,0.2 0.2,0.2 0.1,0.2 0.1,0.3 0.1,0.2 0.1,0.2 0.1,0.2 0.1,0.3 0.1,0.2 0.1,0.2 0.1,0.2 0.1,0.3 0.1,0.2 0.2,0.2 0.1,0.2 0.1,0.3 0.1,0.2 0.1,0.2 0.1,0.2 0.1,0.3 0.1,0.2 0.1,0.2 0.1,0.2 0.2,0.3 0.1,0.2 0.1,0.2 0.1,0.3 0.1,0.2 0.1,0.2 0.1,0.2 0.1,0.2 0.2,0.2 0.1,0.3 0.1,0.2 0.1,0.2 0.1,0.2 0.1,0.3 0.2,0.2 0.1,0.2 0.1,0.3 0.1,0.2 0.1,0.2 0.1,0.2 0.2,0.2 0.1,0.2 0.1,0.3 0.1,0.1 0.2,0.3 0.1,0.3 0.1,0.2 0.1,0.2 0.1,0.2 0.2,0.3 0.1,0.1 0.1,0.2 0.2,0.1 0.1,0.3 0.1,0.3 0.1,0.1 0.2,0.3 0.1,0.2 0.1,0.2 0.2,0.1 0.1,0.2 0.1,0.3 0.2,0.4 0.1,0 0.1,0.3 0.2,0.2 0.1,0.2 0.1,0.2 0.2,0.3 0.1,0.1 0.1,0.4 0.2,0.2 0.1,0 0.1,0.3 0.2,0.1 0.1,0.3 0.1,0.3 0.2,0 0.1,0.2 0.1,0.4 0.2,0 0.1,0.5 0.1,0.1 0.2,0.2 0.1,0.2 0.2,0 0.1,0.3 0.1,0.3 0.2,0.3 0.1,0.2 0.1,0.2 0.2,0.1 0.1,0.5 0.1,-0.2 0.2,0.2 0.1,0.2 0.1,0.2 0.2,0.2 0.1,0.3 0.1,0.4 0.2,0.3 0.1,0.2 0.1,-0.1 0.2,0.3 0.1,0.4 0.1,0.2 0.2,0.2 0.1,0.3 0.1,0.1 0.2,0.3 0.1,0.3 0.1,0.1 0.2,0.1 0.1,0.2 0.1,0.3 0.2,0.1 0.1,0.4 0.1,0.1 0.2,0 0.1,0.4 0.1,0.1 0.2,0 0.1,0.4 0.1,0.3 0.2,0.1 0.1,0.2 0.1,0.2 0.2,-0.1 0.1,0.4 0.2,0.4 0.1,0.2 0.1,0.4 0.2,0 0.1,0.4 0.2,0.3 0.1,0.5 0.2,-0.1 0.1,0.3 0.2,0.3 0.1,0.3 0.2,0 0.1,0.1 0.1,0 0.2,0.9 0.1,-0.3 0.2,0.2 0.1,0 0.2,0.4 0.1,0.1 0.2,0.1 0.1,0.4 0.2,0.6 0.1,0 0.2,0.1 0.1,0 0.2,0.2 0.2,0 0.1,0.2 0.2,0.1 0.1,0.3 0.2,0.2 0.2,0.1 0.1,0.5 0.2,0.7 0.2,-0.5 0.1,0.1 0.2,0.6 0.2,-0.1 0.1,0.6 0.2,-0.2 0.2,0.1 0.2,-0.2 0.1,0.1 0.2,0.5 0.2,0.4 0.2,-0.2 0.2,0 0.2,0.4 0.2,0.4 0.2,0 0.2,0.3 0.2,0.8 0.2,-0.5 0.2,-0.1 0.2,0.2 0.2,0.6 0.2,-0.5 0.2,1 0.2,-0.4 0.2,-0.3 0.2,0.9 0.2,0 0.2,0.3 0.2,-0.5 0.2,0.5 0.3,-0.3 0.2,0.2 0.2,-0.3 0.2,0.3 0.2,0.9 0.2,0.1 0.2,-0.5 0.3,0.6 0.2,-0.3 0.2,-0.1 0.2,0 0.2,1 0.2,-0.3 0.3,0.5 0.2,0.2 0.2,-0.3 0.2,0.2 0.2,0.8 0.3,-0.7 0.2,0.7 0.2,-0.2 0.2,0.5 0.2,0 0.3,0.4 0.2,-0.2 0.2,0.1 0.2,-0.3 0.3,0.2 0.2,0.5 0.2,-0.3 0.2,0.7 0.3,0.1 0.2,-0.6 0.2,0.5 0.2,-0.3 0.3,0.6 0.2,-0.2 0.2,0.5 0.3,0.1 0.2,-0.3 0.2,1.1 0.2,-0.2 0.3,-0.8 0.2,0.8 0.2,-0.1 0.3,0.7 0.2,-0.5 0.2,0.4 0.3,-0.2 0.2,0.3 0.2,-0.2 0.3,-0.1 0.2,0 0.2,0 0.3,0.5 0.2,0 0.2,-0.1 0.3,0.3 0.2,-0.2 0.2,0.3 0.3,-0.6 0.2,0.8 0.2,0.6 0.3,-0.4 0.2,0 0.2,0.1 0.3,-0.3 0.2,0 0.3,0.7 0.2,-0.1 0.2,1 0.3,-0.5 0.2,-0.1 0.2,0 0.3,0.2 0.2,-0.7 0.3,1 0.2,0.5 0.2,0.1 0.3,-0.4 0.2,0.5 0.3,0 0.2,-0.6 0.3,-0.1 0.2,0.4 0.2,-0.3 0.3,-0.3 0.2,0.4 0.3,0 0.2,-0.6 0.3,0.8 0.2,-0.1 0.3,-0.9 0.2,0.1 0.2,1.3 0.3,-0.4 0.2,0.4 0.3,-0.3 0.2,0.8 0.3,-0.3 0.2,-0.5 0.3,0.7 0.2,0.5 0.3,0.4 0.2,-0.4 0.3,-0.5 0.2,-0.1 0.3,0.6 0.2,0.2 0.3,-0.5 0.2,0.2 0.3,0.3 0.2,-0.4 0.3,0.1 0.2,-0.4 0.3,0.3 0.2,0.6 0.3,-0.5 0.2,0.8 0.3,-0.8 0.2,-0.5 0.3,0.2 0.2,0.2 0.3,-0.5 0.2,0.3 0.3,0.1 0.2,0.7 0.3,-0.9 0.2,0.1 0.3,-0.4 0.2,-0.1 0.3,0.8 0.2,-0.5 0.3,0.4 0.2,0.1 0.2,0.4 0.3,-0.9 0.2,1.1 0.3,0.2 0.2,-0.4 0.3,-0.1 0.2,0.3 0.3,0.5 0.2,-0.1 0.3,0.4 0.2,-0.9 0.2,0.6 0.3,-0.8 0.2,0.2 0.3,0 0.2,0.5 0.2,-0.3 0.3,0.3 0.2,-0.5 0.3,0.2 0.2,0.9 0.2,0 0.3,0.1 0.2,0.2 0.3,-0.5 0.2,1 0.2,-0.5 0.3,0.5 0.2,0 0.3,-0.8 0.2,0.1 0.2,0.3 0.3,0.5 0.2,0.3 0.3,-0.3 0.2,0.4 0.2,-0.6 0.3,0.3 0.2,0 0.2,0.5 0.3,-0.2 0.2,0.2 0.2,0.1 0.3,-0.3 0.2,-0.1 0.2,0.2 0.3,-0.1 0.2,0.2 0.2,0.5 0.3,0 0.2,-0.7 0.2,0.7 0.3,0.4 0.2,0.5 0.2,0 0.3,0 0.2,-0.2 0.3,0.1 0.2,0 0.2,0.6 0.3,-0.1 0.2,0.5 0.3,-0.2 0.2,-0.9 0.3,0.1 0.2,0.4 0.3,-0.1 0.2,0.5 0.3,-0.6 0.2,-0.6 0.3,0.7 0.2,0.5 0.3,-0.1 0.2,0.4 0.3,-0.7 0.2,-0.1 0.3,0.3 0.2,-0.3 0.3,0.4 0.2,1.2 0.3,0.2 0.2,-0.7 0.3,-0.5 0.2,-0.4 0.3,0 0.2,-0.8 0.3,1.2 0.2,0.1 0.3,-0.1 0.2,-0.1 0.3,-0.6 0.2,0.8 0.3,0 0.2,-1.5 0.3,0.9 0.2,0.4 0.3,0.5 0.2,-1 0.3,0.2 0.2,0.3 0.3,-0.2 0.2,-0.4 0.3,0.1 0.2,0.3 0.3,-0.1 0.2,0.5 0.3,-0.5 0.2,0.6 0.3,0.3 0.2,0.1 0.3,-0.5 0.2,-0.2 0.3,0.3 0.2,-0.4 0.3,0.5 0.2,-0.3 0.3,0.7 0.2,0 0.3,-1.1 0.2,0.2 0.3,-0.8 0.2,0.8 0.3,0.1 0.2,-0.3 0.3,-0.2 0.2,0.6 0.2,1 0.3,-0.4 0.2,-0.6 0.3,-0.5 0.2,-0.1 0.3,-0.7 0.2,-0.3 0.3,0 0.2,0.7 0.3,-0.1 0.2,-0.3 0.3,-0.6 0.2,0 0.2,0.6 0.3,-0.6 0.2,0.7 0.3,-0.7 0.2,0.6 0.3,-0.3 0.2,-0.3 0.3,0.1 0.2,0.8 0.3,-0.5 0.2,-0.5 0.3,0.2 0.2,-0.9 0.3,1.2 0.2,-0.3 0.2,-0.3 0.3,0.1 0.2,-0.8 0.3,1.5 0.2,0.1 0.3,-0.3 0.2,0.4 0.3,-0.4 0.2,-0.3 0.3,-0.2 0.2,0.4 0.3,0.1 0.2,-0.1 0.3,-0.6 0.2,0.2 0.3,-0.9 0.2,1.2 0.3,-0.6 0.2,-0.6 0.3,0.4 0.2,0.5 0.3,-0.1 0.2,0.3 0.3,-0.8 0.2,1.1 0.3,-0.7 0.2,0.4 0.3,0.2 0.2,-1.3 0.3,0 0.2,0.8 0.3,-0.4 0.2,-0.1 0.3,0.8 0.2,0.4 0.3,-0.9 0.2,0 0.3,1 0.2,-1 0.3,-0.4 0.2,0.2 0.3,0.6 0.2,0.1 0.3,0.4 0.2,-0.2 0.3,0.4 0.2,-0.2 0.3,-0.1 0.2,-0.6 0.3,0 0.2,0.3 0.3,-0.3 0.2,0.2 0.3,0 0.2,-0.1 0.3,1.1 0.2,-0.5 0.3,0.5 0.2,-0.9 0.3,0.9 0.2,-0.3 0.2,-0.1 0.3,-0.5 0.2,1 0.3,-0.7 0.2,0.1 0.3,-0.1 0.2,0.7 0.3,-0.3 0.2,0.5 0.2,0.1 0.3,0.2 0.2,-0.6 0.3,0.1 0.2,0.1 0.3,-0.1 0.2,0 0.3,-0.1 0.2,0.6 0.2,-0.4 0.3,0.2 0.2,0.5 0.3,-0.9 0.2,0.2 0.3,0 0.2,0.2 0.3,-0.4 0.2,0.1 0.3,1.5 0.2,-1.4 0.3,0.3 0.2,0.1 0.3,0.1 0.2,-0.5 0.3,0.7 0.2,-0.4 0.3,0.2 0.2,0.5 0.3,-0.5 0.2,0.9 0.3,-0.8 0.2,0.9 0.3,-0.7 0.2,0.9 0.3,-0.5 0.2,-0.3 0.3,0.1 0.2,0.2 0.3,-0.4 0.2,0.2 0.3,-0.2 0.2,-0.5 0.3,1 0.2,-0.1 0.3,-0.7 0.2,0.6 0.3,-0.5 0.2,-0.5 0.3,0.6 0.2,0.8 0.3,-0.1 0.2,0.1 0.3,0.7 0.2,-1.1 0.3,-0.3 0.2,0 0.3,0.9 0.2,-0.6 0.3,-0.1 0.2,-0.2 0.3,-0.1 0.2,0.4 0.3,0.4 0.2,0.1 0.3,-0.2 0.2,-0.1 0.3,-0.7 0.2,-0.1 0.3,0.4 0.2,-0.4 0.3,1.6 0.2,-0.1 0.3,0 0.2,-0.4 0.3,0.1 0.2,-0.2 0.3,-0.4 0.2,0 0.3,0 0.2,-0.1 0.3,-0.3 0.2,0.8 0.3,0.7 0.2,-0.7 0.3,-0.2 0.2,0 0.3,0.8 0.2,-0.6 0.3,0.5 0.2,0.2 0.3,-0.3 0.2,0.6 0.3,-0.5 0.2,0.1 0.3,-0.8 0.2,1 0.3,-0.4 0.2,-0.1 0.3,-0.2 0.2,0.2 0.3,0 0.2,0.2 0.3,0 0.7,-1 0,-0.3 0,-0.2 0,-0.3 0,-0.2 0,-0.3 0,-0.2 0,-0.3 0,-0.2 0,-0.3 0,-0.2 0,-0.3 0,-0.2 0,-0.3 0,-0.2 0,-0.3 0,-0.2 0,-0.3 0,-0.2 0,-0.3 0.1,-0.2 0,-0.3 0,-0.2 0,-0.3 0,-0.2 0,-0.3 0,-0.2 0,-0.3 0,-0.2 0,-0.3 0,-0.2 0,-0.3 0,-0.2 0,-0.3 0,-0.2 0,-0.3 0,-0.2 0,-0.3 0,-0.2 0,-0.3 0,-0.2 0,-0.3 0,-0.2 0,-0.3 0,-0.2 0,-0.3 0,-0.2 0,-0.3 0,-0.2 0,-0.3 0,-0.2 0,-0.3 0,-0.2 0,-0.3 0,-0.2 0,-0.3 0,-0.2 0,-0.3 0,-0.2 0,-0.3 0,-0.2 0.1,-0.3 0,-0.2 0,-0.3 0,-0.2 0,-0.3 0,-0.2 0,-0.3 0,-0.2 0,-0.3 0,-0.2 0,-0.3 0,-0.2 0,-0.3 0,-0.2 0,-0.3 0,-0.2 0,-0.3 0,-0.2 0,-0.3 0,-0.2 0,-0.3 0,-0.2 0,-0.3 0,-0.2 0,-0.3 0,-0.2 0,-0.3 0,-0.2 0,-0.3 0,-0.2 0,-0.3 0,-0.2 0,-0.3 0,-0.2 0,-0.3 0,-0.2 0,-0.3 0,-0.2 0.1,-0.3 0,-0.2 0,-0.3 0,-0.2 0,-0.3 0,-0.2 0,-0.3 0,-0.2 0,-0.3 0,-0.2 0,-0.3 0,-0.2 0,-0.3 0,-0.2 0,-0.3 0,-0.2 0,-0.3 0,-0.2 0,-0.3 0,-0.2 0,-0.3 0,-0.2 0,-0.3 0,-0.2 0,-0.3 0,-0.2 0,-0.3 0,-0.2 0,-0.3 0,-0.2 0,-0.3 0,-0.2 0,-0.3 0,-0.2 0.1,-0.3 0,-0.2 0,-0.3 0,-0.2 0,-0.3 0,-0.2 0,-0.3 0,-0.2 0,-0.3 0,-0.2 0,-0.3 0,-0.2 0,-0.3 0,-0.2 0,-0.3 0,-0.2 0,-0.3 0,-0.2 0,-0.3 0,-0.2 0,-0.3 0,-0.2 0,-0.3 0,-0.2 0,-0.3 0,-0.2 0,-0.3 0,-0.2 0,-0.3 0.1,-0.2 0,-0.3 0,-0.2 0,-0.3 0,-0.2 0,-0.3 0,-0.2 0,-0.3 0,-0.2 0,-0.3 0,-0.2 0,-0.3 0,-0.2 0,-0.3 0,-0.2 0,-0.3 0,-0.2 0,-0.3 0,-0.2 0,-0.3 0,-0.2 0,-0.3 0,-0.2 0,-0.3 0,-0.2 0.1,-0.3 0,-0.2 0,-0.3 0,-0.2 0,-0.3 0,-0.2 0,-0.3 0,-0.2 0,-0.3 0,-0.2 0,-0.3 0,-0.2 0,-0.3 0,-0.2 0,-0.3 0,-0.2 0,-0.3 0,-0.2 0,-0.3 0,-0.2 0,-0.3 0,-0.2 0,-0.3 0,-0.2 0.1,-0.3 0,-0.2 0,-0.3 0,-0.2 0,-0.3 0,-0.2 0,-0.3 0,-0.2 0,-0.3 0,-0.2 0,-0.3 0,-0.2 0,-0.3 0,-0.2 0,-0.3 0,-0.2 0,-0.3 0,-0.2 0,-0.3 0,-0.2 0,-0.3 0,-0.2 0,-0.3 0.1,-0.2 0,-0.3 0,-0.2 0,-0.3 0,-0.2 0,-0.3 0,-0.2 0,-0.3 0,-0.2 0,-0.3 0,-0.2 0,-0.3 0,-0.2 0,-0.3 0,-0.2 0,-0.3 0,-0.2 0,-0.3 0,-0.2 0,-0.3 0,-0.2 0.1,-0.3 0,-0.2 0,-0.3 0,-0.2 0,-0.3 0,-0.2 0,-0.3 0,-0.2 0,-0.3 0,-0.2 0,-0.3 0,-0.2 0,-0.3 0,-0.2 0,-0.3 0,-0.2 0,-0.3 0,-0.2 0,-0.3 0,-0.2 0,-0.3 0.1,-0.2 0,-0.3 0,-0.2 0,-0.3 0,-0.2 0,-0.3 0,-0.2 0,-0.3 0,-0.2 0,-0.3 0,-0.2 0,-0.3 0,-0.2 0,-0.3 0,-0.2 0,-0.3 0,-0.2 0,-0.3 0,-0.2 0,-0.3 0.1,-0.2 0,-0.3 0,-0.2 0,-0.3 0,-0.2 0,-0.3 0,-0.2 0,-0.3 0,-0.2 0,-0.3 0,-0.2 0,-0.3 0,-0.2 0,-0.3 0,-0.2 0,-0.3 0,-0.2 0,-0.3 0,-0.2 0.1,-0.3 0,-0.2 0,-0.3 0,-0.2 0,-0.3 0,-0.2 0,-0.3 0,-0.2 0,-0.3 0,-0.2 0,-0.3 0,-0.2 0,-0.3 0,-0.2 0,-0.3 0,-0.2 0,-0.3 0,-0.2 0.1,-0.3 0,-0.2 0,-0.3 0,-0.2 0,-0.3 0,-0.2 0,-0.3 0,-0.2 0,-0.3 0,-0.2 0,-0.3 0,-0.2 0,-0.3 0,-0.2 0,-0.3 0,-0.2 0,-0.3 0.1,-0.2 0,-0.3 0,-0.2 0,-0.3 0,-0.2 0,-0.3 0,-0.2 0,-0.3 0,-0.2 0,-0.3 0,-0.2 0,-0.3 0,-0.2 0,-0.3 0,-0.2 0,-0.3 0,-0.2 0.1,-0.3 0,-0.2 0,-0.3 0,-0.2 0,-0.3 0,-0.2 0,-0.3 0,-0.2 0,-0.3 0,-0.2 0,-0.3 0,-0.2 0,-0.3 0,-0.2 0,-0.3 0,-0.2 0.1,-0.3 0,-0.2 0,-0.3 0,-0.2 0,-0.3 0,-0.2 0,-0.3 0,-0.2 0,-0.3 0,-0.2 0,-0.3 0,-0.2 0,-0.3 0,-0.2 0,-0.3 0.1,-0.2 0,-0.3 0,-0.2 0,-0.3 0,-0.2 0,-0.3 0,-0.2 0,-0.3 0,-0.2 0,-0.3 0,-0.2 0,-0.3 0,-0.2 0,-0.3 0,-0.2 0.1,-0.3 0,-0.2 0,-0.3 0,-0.2 0,-0.3 0,-0.2 0,-0.3 0,-0.2 0,-0.3 0,-0.2 0,-0.3 0,-0.2 0,-0.3 0,-0.2 0.1,-0.3 0,-0.2 0,-0.3 0,-0.2 0,-0.3 0,-0.2 0,-0.3 0,-0.2 0,-0.3 0,-0.2 0,-0.3 0,-0.2 0,-0.3 0,-0.2 0.1,-0.3 0,-0.2 0,-0.3 0,-0.2 0,-0.3 0,-0.2 0,-0.3 0,-0.2 0,-0.3 0,-0.2 0,-0.3 0,-0.2 0,-0.3 0,-0.2 0.1,-0.3 0,-0.2 0,-0.3 0,-0.2 0,-0.3 0,-0.2 0,-0.3 0,-0.2 0,-0.3 0,-0.2 0,-0.3 0,-0.2 0,-0.3 0,-0.2 0.1,-0.3 0,-0.2 0,-0.3 0,-0.2 0,-0.3 0,-0.2 0,-0.3 0,-0.2 0,-0.3 0,-0.2 0,-0.3 0,-0.2 0,-0.3 0.1,-0.2 0,-0.3 0,-0.2 0,-0.3 0,-0.2 0,-0.3 0,-0.2 0,-0.3 0,-0.2 0,-0.3 0,-0.2 0,-0.3 0,-0.2 0.1,-0.3 0,-0.2 0,-0.3 0,-0.2 0,-0.3 0,-0.2 0,-0.3 0,-0.2 0,-0.3 0,-0.2 0,-0.3 0,-0.2 0.1,-0.3 0,-0.2 0,-0.3 0,-0.2 0,-0.3 0,-0.2 0,-0.3 0,-0.2 0,-0.3 0,-0.2 0,-0.3 0,-0.2 0,-0.3 0.1,-0.2 0,-0.3 0,-0.2 0,-0.3 0,-0.2 0,-0.3 0,-0.2 0,-0.3 0,-0.2 0,-0.3 0,-0.2 0,-0.3 0.1,-0.2 0,-0.3 0,-0.2 0,-0.3 0,-0.2 0,-0.3 0,-0.2 0,-0.3 0,-0.2 0,-0.3 0,-0.2 0,-0.3 0,-0.2 0.1,-0.3 0,-0.2 0,-0.3 0,-0.2 0,-0.3 0,-0.2 0,-0.3 0,-0.2 0,-0.3 0,-0.2 0,-0.3 0,-0.2 0.1,-0.3 0,-0.2 0,-0.3 0,-0.2 0,-0.3 0,-0.2 0,-0.3 0,-0.2 0,-0.3 0,-0.2 0,-0.3 0,-0.2 0.1,-0.3 0,-0.2 0,-0.3 0,-0.2 0,-0.3 0,-0.2 0,-0.3 0,-0.2 0,-0.3 0,-0.2 0,-0.3 0,-0.2 0.1,-0.3 0,-0.2 0,-0.3 0,-0.2 0,-0.3 0,-0.2 0,-0.3 0,-0.2 0,-0.3 0,-0.2 0,-0.3 0,-0.2 0.1,-0.3 0,-0.2 0,-0.3 0,-0.2 0,-0.3 0,-0.2 0,-0.3 0,-0.2 0,-0.3 0,-0.2 0,-0.3 0,-0.2 0,-0.3 0.1,-0.2 0,-0.3 0,-0.2 0,-0.3 0,-0.2 0,-0.3 0,-0.2 0,-0.3 0,-0.2 0,-0.3 0,-0.2 0,-0.3 0.1,-0.2 0,-0.3 0,-0.2 0,-0.3 0,-0.2 0,-0.3 0,-0.2 0,-0.3 0,-0.2 0,-0.3 0,-0.2 0,-0.3 0.1,-0.2 0,-0.3 0,-0.2 0,-0.3 0,-0.2 0,-0.3 0,-0.2 0,-0.3 0,-0.2 0,-0.3 0,-0.2 0,-0.3 0.1,-0.2 0,-0.3 0,-0.2 0,-0.3 0,-0.2 0,-0.3 0,-0.2 0,-0.3 0,-0.2 0,-0.3 0,-0.2 0,-0.3 0.1,-0.2 0,-0.3 0,-0.2 0,-0.3 0,-0.2 0,-0.3 0,-0.2 0,-0.3 0,-0.2 0,-0.3 0,-0.2 0.1,-0.3 0,-0.2 0,-0.3 0,-0.2 0,-0.3 0,-0.2 0,-0.3 0,-0.2 0,-0.3 0,-0.2 0,-0.3 0.1,-0.2 0,-0.3 0,-0.2 0,-0.3 0,-0.2 0,-0.3 0,-0.2 0,-0.3 0,-0.2 0,-0.3 0,-0.2 0.1,-0.3 0,-0.2 0,-0.3 0,-0.2 0,-0.3 0,-0.2 0,-0.3 0,-0.2 0,-0.3 0.1,-0.2 0,-0.3 0,-0.2 0,-0.3 0,-0.2 0,-0.3 0,-0.2 0,-0.3 0,-0.2 0,-0.3 0.1,-0.2 0,-0.3 0,-0.2 0,-0.3 0,-0.2 0,-0.3 0,-0.2 0,-0.3 0,-0.2 0.1,-0.3 0,-0.2 0,-0.3 0,-0.2 0,-0.3 0,-0.2 0,-0.3 0,-0.2 0.1,-0.3 0,-0.2 0,-0.3 0,-0.2 0,-0.3 0,-0.2 0,-0.3 0,-0.2 0.1,-0.3 0,-0.2 0,-0.3 0,-0.2 0,-0.3 0,-0.2 0,-0.3 0,-0.2 0.1,-0.3 0,-0.2 0,-0.3 0,-0.2 0,-0.3 0,-0.2 0,-0.3 0.1,-0.2 0,-0.3 0,-0.2 0,-0.3 0,-0.2 0,-0.3 0.1,-0.2 0,-0.3 0,-0.2 0,-0.3 0,-0.2 0,-0.3 0.1,-0.2 0,-0.3 0,-0.2 0,-0.3 0,-0.2 0,-0.3 0.1,-0.2 0,-0.3 0,-0.2 0,-0.3 0,-0.2 0,-0.3 0.1,-0.2 0,-0.3 0,-0.2 0,-0.3 0,-0.2 0,-0.3 0.1,-0.2 0,-0.3 0,-0.2 0,-0.3 0,-0.2 0.1,-0.3 0,-0.2 0,-0.3 0,-0.2 0,-0.3 0.1,-0.2 0,-0.3 0,-0.2 0,-0.3 0,-0.2 0.1,-0.3 0,-0.2 0,-0.3 0,-0.2 0,-0.3 0.1,-0.2 0,-0.3 0,-0.2 0,-0.3 0.1,-0.2 0,-0.3 0,-0.2 0,-0.3 0,-0.2 0.1,-0.3 0,-0.2 0,-0.3 0,-0.2 0,-0.3 0.1,-0.2 0,-0.2 0,-0.3 0,-0.2 0.1,-0.3 0,-0.2 0,-0.3 0,-0.2 0,-0.3 0.1,-0.2 0,-0.3 0,-0.2 0,-0.3 0.1,-0.2 0,-0.3 0,-0.2 0,-0.3 0,-0.2 0.1,-0.3 0,-0.2 0,-0.3 0,-0.2 0.1,-0.3 0,-0.2 0,-0.3 0,-0.2 0,-0.3 0.1,-0.2 0,-0.3 0,-0.2 0,-0.3 0.1,-0.2 0,-0.3 0,-0.2 0,-0.3 0,-0.2 0.1,-0.3 0,-0.2 0,-0.3 0,-0.2 0.1,-0.3 0,-0.2 0,-0.3 0,-0.2 0.1,-0.3 0,-0.2 0,-0.3 0,-0.2 0,-0.3 0.1,-0.2 0,-0.3 0,-0.2 0,-0.3 0.1,-0.2 0,-0.3 0,-0.2 0.1,-0.2 0,-0.3 0,-0.2 0,-0.3 0.1,-0.2 0,-0.3 0,-0.2 0,-0.3 0.1,-0.2 0,-0.3 0,-0.2 0,-0.3 0.1,-0.2 0,-0.3 0,-0.2 0.1,-0.3 0,-0.2 0,-0.3 0,-0.2 0.1,-0.3 0,-0.2 0,-0.3 0,-0.2 0.1,-0.3 0,-0.2 0,-0.3 0.1,-0.2 0,-0.3 0,-0.2 0,-0.3 0.1,-0.2 0,-0.3 0,-0.2 0,-0.3 0.1,-0.2 0,-0.3 0,-0.2 0.1,-0.2 0,-0.3 0,-0.2 0,-0.3 0.1,-0.2 0,-0.3 0,-0.2 0,-0.3 0,-0.2 0.1,-0.3 0,-0.2 0,-0.3 0,-0.2 0.1,-0.3 0,-0.2 0,-0.3 0,-0.2 0,-0.3 0,-0.2 0.1,-0.3 0,-0.2 0,-0.3 0,-0.2 0,-0.3 0,-0.2 0.1,-0.3 0,-0.2 0,-0.3 0,-0.2 0,-0.3 0,-0.2 0.1,-0.3 0,-0.2 0,-0.3 0,-0.2 0,-0.3 0.1,-0.2 0,-0.3 0,-0.2 0.1,-0.3 0,-0.2 0,-0.3 0.1,-0.2 0,-0.3 0,-0.2 0.1,-0.3 0,-0.2 0.1,-0.2 0,-0.3 0,-0.2 0.1,-0.3 0,-0.2 0.1,-0.3 0,-0.2 0.1,-0.3 0,-0.2 0.1,-0.3 0,-0.2 0.1,-0.3 0,-0.2 0.1,-0.2 0,-0.3 0.1,-0.2 0,-0.3 0.1,-0.2 0,-0.3 0.1,-0.2 0,-0.3 0.1,-0.2 0,-0.2 0.1,-0.3 0,-0.2 0.1,-0.3 0,-0.2 0,-0.3 0.1,-0.2 0,-0.3 0.1,-0.2 0,-0.3 0.1,-0.2 0,-0.3 0,-0.2 0.1,-0.2 0,-0.3 0.1,-0.2 0,-0.3 0.1,-0.2 0,-0.3 0,-0.2 0.1,-0.3 0,-0.2 0.1,-0.3 0,-0.2 0,-0.3 0.1,-0.2 0,-0.3 0,-0.2 0.1,-0.3 0,-0.2 0.1,-0.2 0,-0.3 0,-0.2 0.1,-0.3 0,-0.2 0.1,-0.3 0,-0.2 0,-0.3 0.1,-0.2 0,-0.3 0,-0.2 0.1,-0.3 0,-0.2 0.1,-0.3 0,-0.2 0,-0.3 0.1,-0.2 0,-0.3 0,-0.2 0.1,-0.2 0,-0.3 0,-0.2 0.1,-0.3 0,-0.2 0,-0.3 0.1,-0.2 0,-0.3 0,-0.2 0.1,-0.3 0,-0.2 0,-0.3 0.1,-0.2 0,-0.3 0,-0.2 0.1,-0.3 0,-0.2 0,-0.3 0.1,-0.2 0,-0.3 0.1,-0.2 0,-0.3 0,-0.2 0.1,-0.2 0,-0.3 0,-0.2 0.1,-0.3 0,-0.2 0.1,-0.3 0,-0.2 0,-0.3 0.1,-0.2 0,-0.3 0.1,-0.2 0,-0.3 0,-0.2 0.1,-0.3 0,-0.2 0.1,-0.3 0,-0.2 0,-0.2 0.1,-0.3 0,-0.2 0.1,-0.3 0,-0.2 0.1,-0.3 0,-0.2 0,-0.3 0.1,-0.2 0,-0.3 0.1,-0.2 0,-0.3 0.1,-0.2 0,-0.2 0,-0.3 0.1,-0.2 0,-0.3 0.1,-0.2 0,-0.3 0.1,-0.2 0,-0.3 0.1,-0.2 0,-0.3 0.1,-0.2 0,-0.2 0.1,-0.3 0,-0.2 0.1,-0.3 0,-0.2 0.1,-0.3 0,-0.2 0.1,-0.3 0.1,-0.2 0,-0.2 0.1,-0.3 0,-0.2 0.1,-0.3 0.1,-0.2 0,-0.3 0.1,-0.2 0.1,-0.2 0.1,-0.3 0,-0.2 0.1,-0.2 0.1,-0.3 0.1,-0.2 0.1,-0.2 0.1,-0.3 0.1,-0.2 0.1,-0.2 0.1,-0.3 0.1,-0.2 0.1,-0.2 0.1,-0.2 0.1,-0.3 0.2,-0.2 0.1,-0.2 0.1,-0.2 0.1,-0.2 0.2,-0.2 0.1,-0.3 0.1,-0.2 0.2,-0.2 0.1,-0.2 0.2,-0.2 0.1,-0.2 0.2,-0.2 0.1,-0.2 0.2,-0.2 0.2,-0.1 0.1,-0.2 0.2,-0.2 0.2,-0.2 0.2,-0.2 0.1,-0.1 0.2,-0.2 0.2,-0.2 0.2,-0.1 0.2,-0.2 0.2,-0.1 0.2,-0.2 0.2,-0.1 0.2,-0.2 0.2,-0.1 0.3,-0.1 0.2,-0.1 0.2,-0.1 0.2,-0.1 0.3,-0.1 0.2,-0.1 0.2,0 0.3,-0.1 0.2,-0.1 0.3,0 0.2,-0.1 0.3,0 0.2,0 0.3,0 0.2,0 0.3,0 0.2,0 0.3,0.1 0.2,0 0.2,0.1 0.3,0.1 0.2,0.1 0.3,0 0.2,0.1 0.2,0.1 0.2,0.1 0.3,0.1 0.2,0.2 0.2,0.1 0.2,0.1 0.2,0.1 0.3,0.2 0.2,0.1 0.2,0.2 0.2,0.1 0.1,0.2 0.2,0.2 0.2,0.1 0.2,0.2 0.1,0.2 0.2,0.2 0.1,0.2 0.2,0.2 0.2,0.2 0.1,0.2 0.2,0.2 0.2,0.1 0.1,0.2 0.2,0.2 0.2,0.2 0.1,0.2 0.2,0.2 0.2,0.1 0.2,0.2 0.1,0.2 0.2,0.2 0.2,0.2 0.1,0.1 0.2,0.2 0.2,0.2 0.2,0.2 0.1,0.2 0.2,0.2 0.2,0.1 0.1,0.2 0.2,0.2 0.2,0.2 0.2,0.2 0.1,0.2 0.2,0.1 0.2,0.2 0.1,0.2 0.2,0.2 0.2,0.2 0.1,0.2 0.2,0.2 0.2,0.2 0.1,0.1 0.2,0.2 0.1,0.2 0.2,0.2 0.2,0.2 0.1,0.2 0.2,0.2 0.1,0.2 0.2,0.2 0.1,0.2 0.2,0.2 0.1,0.2 0.2,0.2 0.1,0.2 0.2,0.2 0.1,0.2 0.2,0.2 0.1,0.2 0.2,0.2 0.1,0.2 0.2,0.2 0.1,0.2 0.1,0.2 0.2,0.2 0.1,0.2 0.2,0.2 0.1,0.2 0.2,0.3 0.1,0.2 0.1,0.2 0.2,0.2 0.1,0.2 0.1,0.2 0.2,0.2 0.1,0.2 0.2,0.2 0.1,0.2 0.1,0.2 0.2,0.3 0.1,0.2 0.1,0.2 0.2,0.2 0.1,0.2 0.1,0.2 0.2,0.2 0.1,0.2 0.1,0.2 0.2,0.3 0.1,0.2 0.1,0.2 0.2,0.2 0.1,0.2 0.1,0.2 0.2,0.2 0.1,0.3 0.1,0.2 0.1,0.2 0.2,0.2 0.1,0.2 0.1,0.2 0.2,0.2 0.1,0.2 0.1,0.3 0.1,0.2 0.2,0.2 0.1,0.2 0.1,0.2 0.2,0.2 0.1,0.3 0.1,0.2 0.1,0.2 0.2,0.2 0.1,0.2 0.1,0.2 0.1,0.2 0.2,0.3 0.1,0.2 0.1,0.2 0.1,0.2 0.2,0.2 0.1,0.3 0.1,0.2 0.1,0.2 0.2,0.2 0.1,0.2 0.1,0.2 0.1,0.3 0.2,0.2 0.1,0.2 0.1,0.2 0.1,0.2 0.1,0.2 0.2,0.3 0.1,0.2 0.1,0.2 0.1,0.2 0.1,0.2 0.2,0.3 0.1,0.2 0.1,0.2 0.1,0.2 0.1,0.2 0.2,0.3 0.1,0.2 0.1,0.2 0.1,0.2 0.1,0.2 0.2,0.3 0.1,0.2 0.1,0.2 0.1,0.2 0.1,0.2 0.1,0.3 0.2,0.2 0.1,0.2 0.1,0.2 0.1,0.3 0.1,0.2 0.1,0.2 0.1,0.2 0.1,0.3 0.1,0.2 0.1,0.2 0.1,0.2 0.1,0.3 0.2,0.2 0.1,0.2 0.1,0.3 0.1,0.2 0.1,0.2 0.1,0.2 0.1,0.3 0.1,0.2 0.1,0.2 0.1,0.3 0.1,0.2 0.1,0.2 0.1,0.2 0.1,0.3 0.1,0.2 0.1,0.2 0.1,0.2 0.1,0.3 0.1,0.2 0.1,0.2 0.1,0.2 0.1,0.3 0.1,0.2 0.2,0.2 0.1,0.2 0.1,0.3 0.1,0.2 0.1,0.2 0.1,0.2 0.1,0.3 0.2,0.2 0.1,0.2 0.1,0.2 0.1,0.2 0.1,0.3 0.1,0.2 0.1,0.2 0.2,0.2 0.1,0.3 0.1,0.2 0.1,0.2 0.1,0.2 0.1,0.2 0.2,0.3 0.1,0.2 0.1,0.2 0.1,0.2 0.1,0.3 0.1,0.2 0.1,0.2 0.2,0.2 0.1,0.2 0.1,0.3 0.1,0.2 0.1,0.2 0.1,0.2 0.1,0.3 0.1,0.2 0.1,0.2 0.2,0.2 0.1,0.3 0.1,0.2 0.1,0.2 0.1,0.2 0.1,0.3 0.1,0.2 0.1,0.2 0.1,0.2 0.1,0.3 0.1,0.2 0.1,0.2 0.2,0.2 0.1,0.3 0.1,0.2 0.1,0.2 0.1,0.2 0.1,0.3 0.1,0.2 0.1,0.2 0.1,0.3 0.1,0.2 0.1,0.2 0.1,0.2 0.1,0.3 0.1,0.2 0.2,0.2 0.1,0.2 0.1,0.3 0.1,0.2 0.1,0.2 0.1,0.2 0.1,0.3 0.1,0.2 0.1,0.2 0.1,0.3 0.1,0.2 0.1,0.2 0.1,0.2 0.1,0.3 0.1,0.2 0.1,0.2 0.1,0.2 0.1,0.3 0.1,0.2 0.1,0.2 0.1,0.3 0.1,0.2 0.1,0.2 0.1,0.2 0.1,0.3 0.1,0.2 0.1,0.2 0.1,0.3 0.1,0.2 0.1,0.2 0.1,0.3 0.1,0.2 0.1,0.2 0.1,0.2 0.1,0.3 0.1,0.2 0.1,0.2 0.1,0.3 0.1,0.2 0.1,0.2 0.1,0.3 0.1,0.2 0.1,0.2 0.1,0.3 0.1,0.2 0.1,0.2 0,0.3 0.1,0.2 0.1,0.2 0.1,0.3 0.1,0.2 0.1,0.2 0.1,0.3 0.1,0.2 0.1,0.2 0.1,0.3 0,0.2 0.1,0.2 0.1,0.3 0.1,0.2 0.1,0.2 0.1,0.3 0.1,0.2 0,0.2 0.1,0.3 0.1,0.2 0.1,0.2 0.1,0.3 0.1,0.2 0,0.3 0.1,0.2 0.1,0.2 0.1,0.3 0.1,0.2 0.1,0.2 0,0.3 0.1,0.2 0.1,0.2 0.1,0.3 0.1,0.2 0.1,0.2 0,0.3 0.1,0.2 0.1,0.3 0.1,0.2 0.1,0.2 0,0.3 0.1,0.2 0.1,0.2 0.1,0.3 0.1,0.2 0,0.3 0.1,0.2 0.1,0.2 0.1,0.3 0.1,0.2 0,0.2 0.1,0.3 0.1,0.2 0.1,0.2 0.1,0.3 0,0.2 0.1,0.3 0.1,0.2 0.1,0.2 0.1,0.3 0,0.2 0.1,0.2 0.1,0.3 0.1,0.2 0.1,0.3 0.1,0.2 0,0.2 0.1,0.3 0.1,0.2 0.1,0.2 0.1,0.3 0,0.2 0.1,0.2 0.1,0.3 0.1,0.2 0.1,0.3 0,0.2 0.1,0.2 0.1,0.3 0.1,0.2 0.1,0.2 0,0.3 0.1,0.2 0.1,0.3 0.1,0.2 0.1,0.2 0.1,0.3 0,0.2 0.1,0.2 0.1,0.3 0.1,0.2 0.1,0.2 0.1,0.3 0,0.2 0.1,0.2 0.1,0.3 0.1,0.2 0.1,0.3 0.1,0.2 0,0.2 0.1,0.3 0.1,0.2 0.1,0.2 0.1,0.3 0.1,0.2 0,0.2 0.1,0.3 0.1,0.2 0.1,0.2 0.1,0.3 0.1,0.2 0,0.3 0.1,0.2 0.1,0.2 0.1,0.3 0.1,0.2 0.1,0.2 0,0.3 0.1,0.2 0.1,0.2 0.1,0.3 0.1,0.2 0.1,0.2 0,0.3 0.1,0.2 0.1,0.3 0.1,0.2 0.1,0.2 0.1,0.3 0,0.2 0.1,0.2 0.1,0.3 0.1,0.2 0.1,0.2 0.1,0.3 0.1,0.2 0,0.2 0.1,0.3 0.1,0.2 0.1,0.3 0.1,0.2 0.1,0.2 0,0.3 0.1,0.2 0.1,0.2 0.1,0.3 0.1,0.2 0.1,0.2 0.1,0.3 0,0.2 0.1,0.2 0.1,0.3 0.1,0.2 0.1,0.2 0.1,0.3 0.1,0.2 0,0.2 0.1,0.3 0.1,0.2 0.1,0.3 0.1,0.2 0.1,0.2 0.1,0.3 0.1,0.2 0,0.2 0.1,0.3 0.1,0.2 0.1,0.2 0.1,0.3 0.1,0.2 0.1,0.2 0.1,0.3 0,0.2 0.1,0.2 0.1,0.3 0.1,0.2 0.1,0.2 0.1,0.3 0.1,0.2 0.1,0.2 0.1,0.3 0.1,0.2 0,0.2 0.1,0.3 0.1,0.2 0.1,0.2 0.1,0.3 0.1,0.2 0.1,0.2 0.1,0.3 0.1,0.2 0.1,0.2 0.1,0.3 0.1,0.2 0,0.2 0.1,0.3 0.1,0.2 0.1,0.2 0.1,0.3 0.1,0.2 0.1,0.2 0.1,0.2 0.1,0.3 0.1,0.2 0.1,0.2 0.1,0.3 0.1,0.2 0.1,0.2 0.1,0.3 0.1,0.2 0,0.2 0.1,0.3 0.1,0.2 0.1,0.2 0.1,0.3 0.1,0.2 0.1,0.2 0.1,0.3 0.1,0.2 0.1,0.2 0.1,0.2 0.1,0.3 0.1,0.2 0.1,0.2 0.1,0.3 0.1,0.2 0.1,0.2 0.1,0.3 0.1,0.2 0.1,0.2 0.1,0.3 0.1,0.2 0,0.2 0.1,0.3 0.1,0.2 0.1,0.2 0.1,0.2 0.1,0.3 0.1,0.2 0.1,0.2 0.1,0.3 0.1,0.2 0.1,0.2 0.1,0.3 0.1,0.2 0.1,0.2 0.1,0.3 0.1,0.2 0.1,0.2 0.1,0.2 0.1,0.3 0.1,0.2 0.1,0.2 0.1,0.3 0.1,0.2 0.1,0.2 0,0.3 0.1,0.2 0.1,0.2 0.1,0.3 0.1,0.2 0.1,0.2 0.1,0.3 0.1,0.2 0.1,0.2 0.1,0.3 0.1,0.2 0.1,0.2 0.1,0.2 0.1,0.3 0.1,0.2 0.1,0.2 0.1,0.3 0.1,0.2 0,0.2 0.1,0.3 0.1,0.2 0.1,0.2 0.1,0.3 0.1,0.2 0.1,0.2 0.1,0.3 0.1,0.2 0.1,0.2 0.1,0.2 0.1,0.3 0.1,0.2 0.1,0.2 0.1,0.3 0.1,0.2 0.1,0.2 0.1,0.3 0.1,0.2 0.1,0.2 0.1,0.3 0,0.2 0.1,0.2 0.1,0.3 0.1,0.2 0.1,0.2 0.1,0.3 0.1,0.2 0.1,0.2 0.1,0.2 0.1,0.3 0.1,0.2 0.1,0.2 0.1,0.3 0.1,0.2 0.1,0.2 0.1,0.3 0.1,0.2 0.1,0.2 0.1,0.3 0.1,0.2 0,0.2 0.1,0.3 0.1,0.2 0.1,0.2 0.1,0.2 0.1,0.3 0.1,0.2 0.1,0.2 0.1,0.3 0.1,0.2 0.1,0.2 0.1,0.3 0.1,0.2 0.1,0.2 0.1,0.3 0.1,0.2 0,0.2 0.1,0.3 0.1,0.2 0.1,0.2 0.1,0.3 0.1,0.2 0.1,0.2 0.1,0.3 0.1,0.2 0.1,0.2 0.1,0.3 0,0.2 0.1,0.2 0.1,0.3 0.1,0.2 0.1,0.2 0.1,0.3 0.1,0.2 0.1,0.2 0,0.3 0.1,0.2 0.1,0.2 0.1,0.3 0.1,0.2 0.1,0.2 0,0.3 0.1,0.2 0.1,0.3 0.1,0.2 0.1,0.2 0,0.3 0.1,0.2 0.1,0.3 0,0.2 0.1,0.2 0.1,0.3 0,0.2 0.1,0.3 0.1,0.2 0,0.2 0.1,0.3 0.1,0.2 0,0.3 0.1,0.2 0,0.3 0.1,0.2 0.1,0.2 0,0.3 0.1,0.2 0.1,0.3 0,0.2 0.1,0.2 0.1,0.3 0,0.2 0.1,0.3 0.1,0.2 0.1,0.2 0,0.3 0.1,0.2 0.1,0.3 0,0.2 0.1,0.2 0.1,0.3 0,0.2 0.1,0.3 0.1,0.2 0,0.3 0.1,0.2 0.1,0.2 0,0.3 0.1,0.2 0.1,0.3 0,0.2 0.1,0.2 0.1,0.3 0,0.2 0.1,0.3 0.1,0.2 0,0.2 0.1,0.3 0.1,0.2 0,0.3 0.1,0.2 0.1,0.3 0,0.2 0.1,0.2 0.1,0.3 0,0.2 0.1,0.3 0.1,0.2 0,0.2 0.1,0.3 0.1,0.2 0,0.3 0.1,0.2 0.1,0.2 0.1,0.3 0,0.2 0.1,0.3 0.1,0.2 0,0.2 0.1,0.3 0.1,0.2 0,0.3 0.1,0.2 0.1,0.2 0.1,0.3 0,0.2 0.1,0.3 0.1,0.2 0.1,0.2 0,0.3 0.1,0.2 0.1,0.3 0,0.2 0.1,0.2 0.1,0.3 0.1,0.2 0.1,0.2 0,0.3 0.1,0.2 0.1,0.3 0.1,0.2 0,0.2 0.1,0.3 0.1,0.2 0.1,0.2 0.1,0.3 0,0.2 0.1,0.3 0.1,0.2 0.1,0.2 0.1,0.3 0.1,0.2 0,0.2 0.1,0.3 0.1,0.2 0.1,0.2 0.1,0.3 0.1,0.2 0.1,0.2 0,0.3 0.1,0.2 0.1,0.2 0.1,0.3 0.1,0.2 0.1,0.3 0.1,0.2 0.1,0.2 0,0.3 0.1,0.2 0.1,0.2 0.1,0.3 0.1,0.2 0.1,0.2 0.1,0.3 0.1,0.2 0.1,0.2 0,0.3 0.1,0.2 0.1,0.2 0.1,0.3 0.1,0.2 0.1,0.2 0.1,0.3 0.1,0.2 0.1,0.2 0.1,0.3 0.1,0.2 0.1,0.2 0,0.3 0.1,0.2 0.1,0.2 0.1,0.2 0.1,0.3 0.1,0.2 0.1,0.2 0.1,0.3 0.1,0.2 0.1,0.2 0.1,0.3 0.1,0.2 0.1,0.2 0.1,0.3 0,0.2 0.1,0.2 0.1,0.3 0.1,0.2 0.1,0.2 0.1,0.3 0.1,0.2 0.1,0.2 0.1,0.3 0.1,0.2 0.1,0.2 0.1,0.3 0.1,0.2 0.1,0.2 0.1,0.2 0.1,0.3 0.1,0.2 0.1,0.2 0,0.3 0.1,0.2 0.1,0.2 0.1,0.3 0.1,0.2 0.1,0.2 0.1,0.3 0.1,0.2 0.1,0.2 0.1,0.3 0.1,0.2 0.1,0.2 0.1,0.2 0.1,0.3 0.1,0.2 0.1,0.2 0.1,0.3 0.1,0.2 0.1,0.2 0.1,0.3 0.1,0.2 0.1,0.2 0.1,0.2 0.1,0.3 0.1,0.2 0.1,0.2 0.1,0.3 0.1,0.2 0.1,0.2 0.1,0.2 0.1,0.3 0.1,0.2 0.1,0.2 0.1,0.3 0.1,0.2 0.1,0.2 0.1,0.3 0.1,0.2 0.1,0.2 0.1,0.2 0.1,0.3 0.1,0.2 0.1,0.2 0.1,0.3 0.1,0.2 0.1,0.2 0.1,0.2 0.1,0.3 0.1,0.2 0.1,0.2 0.1,0.3 0.1,0.2 0.1,0.2 0.1,0.2 0.1,0.3 0.1,0.2 0.1,0.2 0.1,0.3 0.1,0.2 0.1,0.2 0.1,0.2 0.1,0.3 0.1,0.2 0.1,0.2 0.1,0.3 0.1,0.2 0.1,0.2 0.1,0.2 0.1,0.3 0.1,0.2 0.1,0.2 0.1,0.3 0.1,0.2 0.1,0.2 0.1,0.2 0.1,0.3 0.1,0.2 0.1,0.2 0.1,0.3 0.1,0.2 0.1,0.2 0.1,0.3 0.1,0.2 0.1,0.2 0.1,0.2 0.1,0.3 0.1,0.2 0.1,0.2 0.1,0.3 0.1,0.2 0.1,0.2 0.1,0.3 0.1,0.2 0.1,0.2 0.1,0.2 0.1,0.3 0.1,0.2 0.1,0.2 0.1,0.3 0.1,0.2 0.1,0.2 0.1,0.3 0.1,0.2 0.1,0.2 0.1,0.2 0.1,0.3 0.1,0.2 0.1,0.2 0.1,0.3 0.1,0.2 0.1,0.2 0.1,0.3 0.1,0.2 0.1,0.2 0.1,0.2 0.1,0.3 0.1,0.2 0.1,0.2 0.1,0.3 0.1,0.2 0.1,0.2 0.1,0.2 0.1,0.3 0.1,0.2 0.1,0.2 0.1,0.2 0.1,0.3 0.1,0.2 0.1,0.2 0.1,0.3 0.1,0.2 0.2,0.2 0.1,0.2 0.1,0.2 0.1,0.3 0.1,0.2 0.1,0.2 0.1,0.2 0.1,0.3 0.2,0.2 0.1,0.2 0.1,0.2 0.1,0.3 0.1,0.2 0.1,0.2 0.2,0.2 0.1,0.2 0.1,0.3 0.1,0.2 0.1,0.2 0.2,0.2 0.1,0.2 0.1,0.2 0.1,0.3 0.2,0.2 0.1,0.2 0.1,0.2 0.1,0.2 0.2,0.2 0.1,0.3 0.1,0.2 0.2,0.2 0.1,0.2 0.1,0.2 0.1,0.2 0.2,0.2 0.1,0.3 0.1,0.2 0.2,0.2 0.1,0.2 0.1,0.2 0.2,0.2 0.1,0.2 0.1,0.2 0.2,0.3 0.1,0.2 0.1,0.2 0.1,0.2 0.2,0.2 0.1,0.2 0.1,0.2 0.2,0.2 0.1,0.3 0.1,0.2 0.2,0.2 0.1,0.2 0.1,0.2 0.2,0.2 0.1,0.3 0.1,0.2 0.2,0.1 0.1,0.3 0.1,0.2 0.2,0.2 0.1,0.2 0.1,0.2 0.2,0.1 0.1,0.3 0.1,0.2 0.2,0.3 0.1,0.1 0.2,0.3 0.1,0.2 0.1,0.1 0.2,0.2 0.1,0.3 0.1,0.2 0.2,0.2 0.1,0.2 0.2,0.3 0.1,0.1 0.1,0.2 0.2,0.2 0.1,0.3 0.1,0.1 0.2,0.3 0.1,0.2 0.2,0.3 0.1,0.2 0.1,-0.1 0.2,0.5 0.1,0.1 0.2,0.3 0.1,0.2 0.1,0.2 0.2,0.2 0.1,0.1 0.2,0.2 0.1,0.3 0.1,0.1 0.2,0.2 0.1,0.3 0.2,0.2 0.1,0.1 0.1,0.3 0.2,0.2 0.1,0.3 0.1,0.2 0.2,0.3 0.1,0.1 0.1,0.2 0.2,0.2 0.1,0.2 0.1,0.4 0.2,0.1 0.1,0.3 0.1,0.2 0.2,0 0.1,0.2 0.1,0.3 0.2,0 0.1,0.3 0.1,0.3 0.1,0.2 0.2,0.2 0.1,0.3 0.2,0.1 0.1,0.3 0.1,0.3 0.2,0.2 0.1,0.1 0.2,0.3 0.1,0.3 0.1,0 0.2,0.3 0.1,0.2 0.2,0.2 0.2,0.1 0.1,0 0.2,0.2 0.1,0.4 0.2,0 0.1,0.1 0.2,0.2 0.2,0.2 0.1,0.3 0.2,0.3 0.1,0.3 0.2,0.2 0.2,0 0.1,0 0.2,0.5 0.2,0.3 0.1,0.2 0.2,-0.1 0.2,0.2 0.1,0.6 0.2,-0.1 0.2,0.1 0.1,0.1 0.2,0.1 0.2,0.7 0.1,0 0.2,0.4 0.2,0.3 0.2,-0.4 0.1,0 0.2,0.6 0.2,0.2 0.2,-0.1 0.1,0.4 0.2,0 0.2,0.7 0.2,0 0.1,-0.1 0.2,0 0.2,-0.2 0.2,0.2 0.2,0.6 0.1,0.1 0.2,0.5 0.2,0.3 0.2,-0.2 0.2,0.3 0.2,0.2 0.2,-0.1 0.1,0.2 0.2,0 0.2,0.1 0.2,0.1 0.2,-0.1 0.2,0.1 0.2,0.5 0.2,-0.1 0.2,0.7 0.2,-0.1 0.2,0.3 0.2,0.4 0.2,0.1 0.2,0.3 0.2,-0.1 0.2,0.7 0.2,-0.8 0.2,0.3 0.2,0.3 0.2,-0.5 0.2,1.1 0.2,0.4 0.3,-0.6 0.2,0.1 0.2,0.4 0.2,0.2 0.2,0.2 0.2,-0.2 0.2,0.1 0.3,0.4 0.2,0.1 0.2,0.1 0.2,0.2 0.2,0.5 0.3,0 0.2,0.2 0.2,0.5 0.2,0 0.2,-0.2 0.3,-0.4 0.2,0.2 0.2,0.3 0.3,0.2 0.2,0.4 0.2,0.3 0.3,-0.1 0.2,0.3 0.2,-0.1 0.3,-0.1 0.2,0.1 0.3,0.4 0.2,-0.4 0.3,-0.1 0.2,0.2 0.3,0.3 0.2,-0.4 0.2,-0.2 0.3,0.5 0.2,0.2 0.3,-0.2 0.2,-0.2 0.3,-0.3 0.2,-0.4 0.2,1.3 0.3,-0.8 0.2,0.1 0.3,1.1 0.2,-0.3 0.2,0.4 0.3,0 0.2,0.4 0.2,0 0.3,-0.3 0.2,0.8 0.2,-0.7 0.3,0.2 0.2,0.6 0.2,0 0.2,-0.2 0.2,0.6 0.3,-0.9 0.2,0.1 0.2,0.9 0.2,-0.3 0.2,0.2 0.3,0.3 0.2,0.2 0.2,0.1 0.2,0.3 0.2,-0.3 0.2,0 0.2,0.3 0.2,0.4 0.3,-0.3 0.2,-0.2 0.2,0.4 0.2,0.1 0.2,0.5 0.2,-0.2 0.2,0 0.2,0.1 0.3,0.4 0.2,-0.3 0.2,0.5 0.2,0.2 0.2,0.5 0.2,0 0.2,0 0.3,0.6 0.2,-0.4 0.2,0.4 0.2,0 0.2,0.1 0.2,-0.2 0.3,0.6 0.2,0.4 0.2,-0.8 0.2,0.3 0.3,0.2 0.2,0.4 0.2,-0.1 0.3,-0.1 0.2,0.9 0.2,-0.5 0.3,0.1 0.2,-0.2 0.2,0.1 0.3,0.1 0.2,-0.4 0.2,1.2 0.3,-0.1 0.2,0.2 0.2,0 0.3,-0.4 0.2,0.2 0.2,-0.1 0.3,0.5 0.2,-0.3 0.3,-0.2 0.2,0.3 0.2,0 0.3,0.4 0.2,-0.1 0.3,0.2 0.2,0.1 0.2,-0.2 0.3,-0.2 0.2,0.4 0.3,0.6 0.2,-0.5 0.3,0.2 0.2,0.6 0.2,0 0.3,-0.7 0.2,0.1 0.3,0.6 0.2,0.5 0.2,-0.2 0.3,0 0.2,0.3 0.3,0.1 0.2,-0.4 0.2,-0.3 0.3,0.3 0.2,0.3 0.3,0.6 0.2,0.1 0.2,-0.4 0.3,0.1 0.2,-0.4 0.3,0.2 0.2,0.2 0.2,0.4 0.3,-0.7 0.2,1.1 0.3,-0.3 0.2,-0.4 0.2,0.2 0.3,0 0.2,-0.2 0.2,0.5 0.3,0.3 0.2,-0.5 0.3,0 0.2,0.2 0.2,0.4 0.3,0.1 0.2,0.3 0.3,-0.2 0.2,-0.3 0.3,0.9 0.2,-0.8 0.2,-0.2 0.3,0.9 0.2,-0.7 0.3,0.2 0.2,0.6 0.3,0.6 0.2,-1.1 0.2,0.4 0.3,0.1 0.2,0.5 0.3,0.6 0.2,0 0.3,-0.3 0.2,-0.3 0.3,0.3 0.2,-0.9 0.3,1.4 0.2,-0.7 0.2,-0.1 0.3,0.7 0.2,0.2 0.3,-0.7 0.2,1.1 0.3,-0.7 0.2,-0.9 0.3,0.6 0.2,-0.5 0.3,-0.2 0.2,0.7 0.3,0.1 0.2,0.2 0.3,0.6 0.2,0.1 0.3,-0.3 0.2,-0.4 0.3,-0.3 0.2,0.1 0.3,-0.2 0.2,0 0.3,0.5 0.2,-0.3 0.3,-0.1 0.2,-0.1 0.3,1.1 0.2,-0.2 0.3,-0.4 0.2,0.3 0.3,0.2 0.2,-0.4 0.3,0 0.2,0.2 0.3,-0.9 0.2,-0.5 0.3,0.8 0.2,-0.1 0.2,0.1 0.3,0.7 0.2,0 0.3,0.2 0.2,-0.1 0.2,0.8 0.2,-0.6 0.3,0.6 0.2,0 0.2,0 0.3,0.2 0.2,0 0.2,-0.1 0.2,0 0.3,-0.5 0.2,0.7 0.2,-0.6 0.3,1.5 0.2,0.4 0.3,-1.2 0.2,0.8 0.3,-1.5 0.2,0.4 0.3,0 0.2,-0.2 0.3,-0.4 0.2,0.5 0.3,0.3 0.2,0.3 0.3,-0.2 0.2,0.3 0.2,-1.1 0.3,-0.1 0.2,0.6 0.3,0.1 0.2,-0.4 0.2,0.3 0.3,0 0.2,0.2 0.2,0 0.3,-0.8 0.2,-0.1 0.2,0 0.3,0 0.2,-0.7 0.2,-0.1 0.3,-0.2 0.2,0.5 0.3,-0.3 0.2,0 0.2,0.2 0.3,-0.7 0.2,0.2 0.3,-0.5 0.2,0.3 0.2,0 0.3,-0.3 0.2,0 0.3,0.4 0.2,0.2 0.3,-0.7 0.2,0 0.3,0.6 0.2,0 0.3,-0.4 0.2,0.3 0.3,0.9 0.2,-0.1 0.3,-0.3 0.2,-0.4 0.3,0.2 0.2,0.6 0.3,-0.4 0.2,-0.1 0.3,-0.8 0.2,1 0.3,-0.8 0.2,0.2 0.3,-0.6 0.2,0.2 0.3,0.5 0.2,0 0.3,-0.1 0.2,-0.2 0.3,0.7 0.2,-0.3 0.3,0.8 0.2,-1 0.3,0.1 0.2,-0.3 0.3,-0.7 0.2,0.3 0.3,0.4 0.2,0 0.3,-0.2 0.2,0.3 0.3,0.4 0.2,-0.5 0.3,-0.3 0.2,0.5 0.3,0 0.2,0.3 0.3,-0.2 0.2,-0.4 0.3,0.4 0.2,-0.1 0.3,0.4 0.2,-0.1 0.3,-0.9 0.2,0.6 0.3,0.1 0.2,0 0.3,0.1 0.2,-0.9 0.3,0.6 0.2,-0.3 0.3,-0.2 0.2,0.4 0.3,-0.3 0.2,0.4 0.3,0.9 0.2,0.5 0.2,-0.1 0.3,0 0.2,0 0.3,0.1 0.2,-0.8 0.2,0.1 0.3,-0.1 0.2,0.5 0.2,-0.4 0.3,0.5 0.2,0.1 0.2,0.2 0.3,0.1 0.2,0 0.3,0.6 0.2,0 0.2,-0.2 0.3,-0.2 0.2,0.5 0.3,-1.2 0.2,0.7 0.2,0.1 0.3,-0.1 0.2,0 0.3,-0.1 0.2,1.2 0.3,-1.3 0.2,1.2 0.2,-0.6 0.3,0.6 0.2,0.1 0.3,-0.6 0.2,0.3 0.3,-0.3 0.2,0.2 0.3,0.3 0.2,-0.1 0.3,-0.2 0.2,0.5 0.3,-0.6 0.2,0.2 0.3,1 0.2,0.4 0.2,-0.3 0.3,0 0.2,0.5 0.3,-0.6 0.2,-0.8 0.3,0.4 0.2,0.5 0.3,-0.7 0.2,0.6 0.3,-0.3 0.2,0.6 0.3,0.1 0.2,-0.3 0.3,-0.1 0.2,1.1 0.3,-0.2 0.2,-0.6 0.2,0.7 0.3,0.3 0.2,-0.6 0.3,-0.2 0.2,0.5 0.3,-0.1 0.2,-0.1 0.3,0.2 0.2,-0.3 0.3,0.2 0.2,0.7 0.3,-0.8 0.2,-0.5 0.3,0 0.2,0.4 0.2,-0.2 0.3,0.3 0.2,0.1 0.3,-0.2 0.2,1 0.3,0.4 0.2,-0.6 0.3,-0.8 0.2,1.1 0.3,-0.7 0.2,1.3 0.3,-1.3 0.2,0.9 0.3,-1 0.2,-0.4 0.3,0.7 0.2,-0.3 0.3,0.2 0.2,0.7 0.3,-0.4 0.2,-0.7 0.3,0.4 0.2,-0.5 0.2,0.1 0.3,0 0.2,0.6 0.3,-0.6 0.2,-0.8 0.3,0.2 0.2,0 0.2,-0.1 0.3,0.1 0.2,-0.2 0.3,0 0.2,-0.6 0.3,0.3 0.2,0.1 0.2,0.2 0.3,0 0.2,-0.3 0.3,0 0.2,1.1 0.3,0.2 0.2,-0.3 0.3,-0.4 0.2,0.4 0.3,-0.5 0.2,-0.2 0.3,-0.5 0.2,0.1 0.3,0.3 0.2,0.2 0.3,0.1 0.2,-0.6 0.3,0.9 0.2,-0.5 0.3,0 0.2,0.1 0.2,0.6 0.3,-0.8 0.2,0.5 0.3,0.5 0.2,0.1 0.3,0.6 0.2,-0.8 0.2,1.1 0.3,-0.3 0.2,-0.4 0.3,0.5 0.2,0 0.3,-0.6 0.2,0 0.2,0 0.3,0.2 0.2,0.1 0.3,0.3 0.2,0.7 0.2,-0.6 0.3,0.1 0.2,-0.5 0.3,0.7 0.2,0.4 0.2,0.3 0.3,0.3 0.2,-0.2 0.2,0.3 0.3,-0.8 0.2,0.3 0.3,0.2 0.2,-0.3 0.3,-0.8 0.2,-0.5 0.3,1 0.2,0.3 0.3,0.5 0.2,0.6 0.3,-0.5 0.2,-0.5 0.3,0.3 0.2,-0.5 0.3,0.2 0.2,-0.4 0.3,0.4 0.2,0.4 0.3,-0.5 0.2,0.3 0.3,-0.1 0.2,-0.7 0.3,-0.2 0.2,-0.3 0.3,1 0.2,-0.7 0.3,0.1 0.2,-0.4 0.3,0.6 0.2,0 0.2,-0.9 0.3,0.6 0.2,0.6 0.3,-1.5 0.2,1.5 0.3,-0.5 0.2,0.8 0.3,-0.7 0.2,0.8 0.3,-0.6 0.2,-0.3 0.3,0.2 0.2,-0.5 0.3,0 0.2,0.1 0.3,-0.1 0.2,0.1 0.3,-0.3 0.2,0.2 0.3,0 0.2,-0.1" stroke="#0000ff" stroke-dasharray="3.1 2" stroke-dashoffset="0.00"/>
<path d="M57,107.2l0.5,0 0.5,0.1 0.5,0.1 0.4,0.3 0.4,0.3 0.4,0.2 0.4,0.3 0.4,0.4 0.4,0.3 0.4,0.3 0.3,0.4 0.3,0.4 0.3,0.4 0.3,0.4 0.3,0.4 0.2,0.5 0.2,0.4 0.3,0.5 0.2,0.4 0.2,0.5 0.3,0.4 0.2,0.4 0.3,0.5 0.2,0.4 0.3,0.4 0.2,0.5 0.3,0.4 0.3,0.4 0.2,0.4 0.3,0.5 0.3,0.4 0.2,0.4 0.3,0.5 0.2,0.4 0.3,0.4 0.3,0.4 0.2,0.5 0.3,0.4 0.2,0.5 0.2,0.4 0.3,0.4 0.2,0.5 0.3,0.4 0.2,0.4 0.3,0.5 0.2,0.4 0.3,0.4 0.2,0.5 0.3,0.4 0.2,0.5 0.3,0.4 0.2,0.4 0.2,0.5 0.3,0.4 0.2,0.4 0.3,0.5 0.2,0.4 0.3,0.5 0.2,0.4 0.2,0.5 0.3,0.4 0.2,0.4 0.2,0.5 0.3,0.4 0.2,0.5 0.2,0.4 0.2,0.5 0.3,0.4 0.2,0.5 0.2,0.4 0.2,0.5 0.2,0.4 0.2,0.5 0.2,0.5 0.2,0.4 0.2,0.5 0.2,0.4 0.2,0.5 0.2,0.5 0.2,0.4 0.1,0.5 0.2,0.5 0.2,0.4 0.2,0.5 0.2,0.5 0.1,0.4 0.2,0.5 0.2,0.5 0.2,0.5 0.2,0.4 0.1,0.5 0.2,0.5 0.2,0.4 0.2,0.5 0.2,0.4 0.2,0.5 0.2,0.5 0.2,0.4 0.2,0.5 0.2,0.5 0.1,0.4 0.2,0.5 0.2,0.5 0.2,0.4 0.2,0.5 0.2,0.5 0.2,0.4 0.2,0.5 0.2,0.4 0.1,0.5 0.2,0.5 0.2,0.4 0.2,0.5 0.2,0.5 0.2,0.4 0.2,0.5 0.2,0.4 0.3,0.5 0.2,0.4 0.2,0.5 0.2,0.5 0.2,0.4 0.2,0.5 0.2,0.4 0.3,0.5 0.2,0.4 0.2,0.4 0.3,0.5 0.2,0.4 0.2,0.5 0.2,0.4 0.3,0.5 0.2,0.4 0.2,0.5 0.3,0.4 0.2,0.5 0.3,0.4 0.2,0.4 0.2,0.5 0.3,0.4 0.2,0.5 0.2,0.4 0.3,0.4 0.2,0.5 0.3,0.4 0.2,0.4 0.3,0.5 0.2,0.4 0.3,0.4 0.2,0.5 0.3,0.4 0.2,0.5 0.3,0.4 0.2,0.5 0.2,0.4 0.2,0.5 0.2,0.4 0.2,0.5 0.2,0.5 0.2,0.4 0.1,0.5 0.2,0.5 0.2,0.4 0.2,0.5 0.1,0.5 0.2,0.4 0.2,0.5 0.1,0.5 0.2,0.5 0.1,0.4 0.2,0.5 0.2,0.5 0.1,0.5 0.2,0.4 0.2,0.5 0.1,0.5 0.2,0.5 0.2,0.4 0.2,0.5 0.1,0.5 0.2,0.4 0.2,0.5 0.2,0.5 0.2,0.4 0.1,0.5 0.2,0.5 0.2,0.4 0.2,0.5 0.2,0.5 0.2,0.4 0.1,0.5 0.2,0.5 0.2,0.4 0.2,0.5 0.2,0.5 0.2,0.4 0.2,0.5 0.2,0.5 0.2,0.4 0.2,0.5 0.2,0.4 0.2,0.5 0.2,0.5 0.2,0.4 0.2,0.5 0.2,0.4 0.2,0.5 0.2,0.5 0.2,0.4 0.2,0.5 0.2,0.4 0.2,0.5 0.2,0.4 0.2,0.5 0.2,0.4 0.3,0.5 0.2,0.4 0.2,0.5 0.2,0.5 0.2,0.4 0.2,0.5 0.3,0.4 0.2,0.5 0.2,0.4 0.2,0.5 0.3,0.4 0.2,0.4 0.2,0.5 0.2,0.4 0.3,0.5 0.2,0.4 0.2,0.5 0.3,0.4 0.2,0.5 0.2,0.4 0.3,0.4 0.2,0.5 0.3,0.4 0.2,0.5 0.3,0.4 0.2,0.4 0.2,0.5 0.3,0.4 0.2,0.4 0.3,0.5 0.2,0.4 0.3,0.5 0.3,0.4 0.2,0.4 0.3,0.4 0.2,0.5 0.3,0.4 0.2,0.4 0.3,0.5 0.2,0.4 0.3,0.4 0.3,0.5 0.2,0.4 0.3,0.4 0.3,0.4 0.2,0.5 0.3,0.4 0.3,0.4 0.3,0.4 0.3,0.4 0.3,0.4 0.3,0.4 0.3,0.4 0.2,0.4 0.3,0.5 0.3,0.4 0.2,0.4 0.3,0.4 0.3,0.5 0.2,0.4 0.3,0.4 0.2,0.5 0.3,0.4 0.2,0.4 0.3,0.5 0.3,0.4 0.2,0.4 0.3,0.4 0.2,0.5 0.3,0.4 0.3,0.4 0.2,0.4 0.3,0.5 0.3,0.4 0.3,0.4 0.2,0.4 0.3,0.5 0.3,0.4 0.3,0.4 0.2,0.4 0.3,0.4 0.3,0.4 0.3,0.4 0.3,0.5 0.3,0.4 0.2,0.4 0.3,0.4 0.3,0.4 0.3,0.4 0.3,0.4 0.3,0.4 0.3,0.4 0.3,0.4 0.3,0.5 0.2,0.4 0.3,0.4 0.3,0.4 0.3,0.4 0.3,0.4 0.3,0.3 0.3,0.5 0.3,0.4 0.3,0.3 0.3,0.5 0.3,0.3 0.3,0.6 0.3,0.4 0.4,0.2 0.3,0.5 0.3,0.1 0.3,0.7 0.3,0.4 0.3,0.4 0.3,0.1 0.3,0.6 0.3,0.4 0.3,0.2 0.4,0.7 0.3,0.4 0.3,0.5 0.3,0.2 0.3,0.3 0.3,0.4 0.3,0.2 0.3,0.4 0.3,0.4 0.3,0.6 0.3,0.5 0.3,0.8 0.3,0.1 0.4,0.9 0.3,0.2 0.3,0.4 0.4,-0.1 0.3,0.2 0.4,0.4 0.4,0.6 0.3,0.1 0.4,0.6 0.3,0.2 0.4,0.6 0.4,0.1 0.3,0.3 0.4,0.4 0.4,0.3 0.4,0.4 0.3,0 0.4,0.5 0.4,0.3 0.4,0.5 0.3,0.4 0.4,0.2 0.4,-0.1 0.4,0.2 0.3,1 0.4,0.4 0.4,0.8 0.4,-0.9 0.4,0.9 0.4,-0.4 0.3,0.8 0.4,0.4 0.4,0.6 0.4,-0.1 0.4,0.6 0.4,0.4 0.4,0.8 0.4,1 0.4,-1.2 0.4,0.5 0.4,0.1 0.4,0.9 0.4,-0.2 0.4,0.9 0.5,-0.6 0.4,0.5 0.4,0.1 0.4,0.2 0.4,0.4 0.5,0.1 0.4,1.6 0.4,-0.5 0.5,-0.3 0.4,0.6 0.4,0.9 0.5,-0.8 0.4,0.7 0.5,0.1 0.4,0.1 0.5,0.2 0.4,0 0.5,0.2 0.5,-0.5 0.4,0.9 0.5,0.3 0.5,0.1 0.5,0.3 0.4,-0.3 0.5,1.8 0.5,-0.9 0.5,0 0.4,0.1 0.5,0.3 0.5,0.6 0.4,-1.2 0.5,1.4 0.4,-0.1 0.5,0.6 0.4,0.6 0.5,0.2 0.4,-0.4 0.4,0.5 0.5,0.8 0.4,0.3 0.4,0 0.5,-0.3 0.4,0.6 0.4,0.3 0.5,-0.3 0.4,0 0.5,0.8 0.4,0.2 0.5,0.1 0.4,-0.3 0.5,0.9 0.5,-0.5 0.4,0.8 0.5,0.2 0.5,-0.4 0.4,0 0.5,0.5 0.5,0.2 0.4,0.9 0.5,-0.4 0.5,-0.1 0.5,0.9 0.4,1.3 0.5,0 0.5,-1 0.5,0.3 0.5,0.2 0.5,-0.9 0.5,0.3 0.5,0 0.4,-0.2 0.5,0.4 0.5,0.1 0.5,0.1 0.5,-0.6 0.5,0.9 0.5,-0.6 0.5,0.5 0.5,0 0.5,2.5 0.5,-1.3 0.5,0.5 0.5,-0.5 0.5,-0.2 0.5,0.1 0.5,0.2 0.5,-0.3 0.5,0.5 0.5,0.3 0.5,-2 0.5,1.2 0.5,0.9 0.5,-0.5 0.5,0.3 0.5,0.7 0.5,-0.4 0.5,0.1 0.5,-1.2 0.5,-0.1 0.5,-0.5 0.5,-0.6 0.5,1.1 0.5,0.6 0.4,-0.1 0.5,-0.7 0.5,0.6 0.5,-0.4 0.5,-0.3 0.5,-0.4 0.5,1.3 0.5,0 0.5,-0.7 0.6,-0.2 0.5,0.3 0.5,0.6 0.5,0.5 0.5,-1.1 0.5,0.1 0.5,-0.7 0.5,2.3 0.5,-1.8 0.5,0.8 0.4,-0.3 0.5,0.4 0.5,-1.1 0.5,0 0.5,1 0.5,0.2 0.5,0.4 0.5,-1.1 0.5,0.1 0.5,0.2 0.5,-0.2 0.5,0.4 0.5,0.5 0.5,-0.1 0.5,-0.9 0.5,0.8 0.5,0.4 0.5,-0.5 0.5,0.2 0.5,-0.8 0.5,0.9 0.5,0 0.5,-0.1 0.5,0.2 0.5,-0.3 0.5,1 0.5,-0.8 0.5,-0.1 0.5,0.8 0.5,0 0.5,0.6 0.5,-0.6 0.5,-0.2 0.5,0.3 0.5,0.8 0.5,-1.2 0.5,-0.8 0.5,1.1 0.5,-0.4 0.5,-0.1 0.5,1 0.5,-0.1 0.5,0.3 0.5,0.5 0.5,-0.3 0.5,-0.2 0.5,-0.4 0.5,0.5 0.5,0.2 0.5,0.7 0.5,-1.2 0.5,0 0.5,0.8 0.5,-0.8 0.5,-0.4 0.5,0.5 0.5,0.1 0.5,0.1 0.5,0.6 0.5,-0.2 0.5,0 0.5,0.2 0.5,-0.6 0.5,0.9 0.5,1.1 0.5,-0.6 0.5,-0.6 0.5,0.4 0.5,-0.3 0.5,0.1 0.5,0.3 0.5,-0.1 0.5,-0.2 0.2,-0.2 0,-0.5 0,-0.5 0,-0.5 0,-0.5 0,-0.5 0,-0.5 0,-0.5 0,-0.5 0.1,-0.5 0,-0.5 0,-0.5 0,-0.5 0,-0.5 0,-0.5 0,-0.5 0,-0.5 0,-0.5 0,-0.5 0,-0.5 0,-0.5 0,-0.5 0,-0.5 0,-0.5 0,-0.5 0,-0.5 0,-0.5 0,-0.5 0.1,-0.5 0,-0.5 0,-0.5 0,-0.5 0,-0.5 0,-0.5 0,-0.5 0,-0.5 0,-0.5 0,-0.5 0,-0.5 0,-0.5 0,-0.5 0,-0.5 0,-0.5 0,-0.5 0,-0.5 0.1,-0.5 0,-0.5 0,-0.5 0,-0.5 0,-0.5 0,-0.5 0,-0.5 0,-0.5 0,-0.5 0,-0.5 0,-0.5 0,-0.5 0,-0.5 0,-0.5 0,-0.5 0.1,-0.5 0,-0.5 0,-0.5 0,-0.5 0,-0.5 0,-0.5 0,-0.5 0,-0.5 0,-0.5 0,-0.5 0,-0.5 0,-0.5 0,-0.5 0,-0.5 0.1,-0.5 0,-0.5 0,-0.5 0,-0.5 0,-0.5 0,-0.5 0,-0.5 0,-0.5 0,-0.5 0,-0.5 0,-0.5 0,-0.5 0.1,-0.5 0,-0.5 0,-0.5 0,-0.5 0,-0.5 0,-0.5 0,-0.5 0,-0.5 0,-0.5 0,-0.5 0,-0.5 0,-0.5 0.1,-0.5 0,-0.5 0,-0.5 0,-0.5 0,-0.5 0,-0.5 0,-0.5 0,-0.5 0,-0.6 0,-0.5 0,-0.5 0.1,-0.5 0,-0.5 0,-0.5 0,-0.5 0,-0.5 0,-0.5 0,-0.5 0,-0.5 0,-0.5 0,-0.5 0,-0.5 0.1,-0.5 0,-0.5 0,-0.5 0,-0.5 0,-0.5 0,-0.5 0,-0.5 0,-0.5 0,-0.5 0,-0.5 0.1,-0.5 0,-0.5 0,-0.5 0,-0.5 0,-0.5 0,-0.5 0,-0.5 0,-0.5 0,-0.5 0,-0.5 0.1,-0.5 0,-0.5 0,-0.5 0,-0.5 0,-0.5 0,-0.5 0,-0.5 0,-0.5 0,-0.5 0,-0.5 0.1,-0.5 0,-0.5 0,-0.5 0,-0.5 0,-0.5 0,-0.5 0,-0.5 0,-0.5 0,-0.5 0.1,-0.5 0,-0.5 0,-0.5 0,-0.5 0,-0.5 0,-0.5 0,-0.5 0,-0.5 0,-0.5 0.1,-0.5 0,-0.5 0,-0.5 0,-0.5 0,-0.5 0,-0.5 0,-0.5 0,-0.5 0.1,-0.5 0,-0.5 0,-0.5 0,-0.5 0,-0.5 0,-0.5 0,-0.5 0,-0.5 0.1,-0.5 0,-0.5 0,-0.5 0,-0.5 0,-0.5 0,-0.5 0,-0.5 0,-0.5 0.1,-0.5 0,-0.5 0,-0.5 0,-0.5 0,-0.5 0,-0.5 0,-0.5 0.1,-0.5 0,-0.5 0,-0.5 0,-0.5 0,-0.5 0,-0.5 0,-0.5 0.1,-0.5 0,-0.5 0,-0.5 0,-0.5 0,-0.5 0,-0.5 0,-0.5 0.1,-0.5 0,-0.5 0,-0.5 0,-0.5 0,-0.5 0,-0.5 0,-0.5 0.1,-0.5 0,-0.5 0,-0.5 0,-0.5 0,-0.5 0,-0.5 0,-0.5 0.1,-0.5 0,-0.5 0,-0.5 0,-0.5 0,-0.5 0,-0.5 0,-0.5 0.1,-0.5 0,-0.5 0,-0.5 0,-0.5 0,-0.5 0,-0.5 0.1,-0.5 0,-0.5 0,-0.5 0,-0.5 0,-0.5 0,-0.5 0.1,-0.5 0,-0.5 0,-0.5 0,-0.5 0,-0.5 0,-0.5 0,-0.5 0.1,-0.5 0,-0.5 0,-0.5 0,-0.5 0,-0.5 0,-0.5 0.1,-0.5 0,-0.5 0,-0.5 0,-0.5 0,-0.5 0,-0.5 0.1,-0.5 0,-0.5 0,-0.5 0,-0.5 0,-0.5 0,-0.5 0.1,-0.5 0,-0.5 0,-0.5 0,-0.5 0,-0.5 0,-0.5 0.1,-0.5 0,-0.5 0,-0.5 0,-0.5 0,-0.5 0,-0.5 0.1,-0.5 0,-0.5 0,-0.5 0,-0.5 0,-0.5 0,-0.5 0.1,-0.5 0,-0.5 0,-0.5 0,-0.5 0,-0.5 0,-0.5 0.1,-0.5 0,-0.5 0,-0.5 0,-0.5 0,-0.5 0,-0.5 0,-0.5 0.1,-0.5 0,-0.5 0,-0.5 0,-0.5 0,-0.5 0,-0.5 0.1,-0.5 0,-0.5 0,-0.5 0,-0.5 0,-0.5 0,-0.5 0.1,-0.5 0,-0.5 0,-0.5 0,-0.5 0,-0.5 0,-0.5 0.1,-0.5 0,-0.5 0,-0.5 0,-0.5 0,-0.5 0.1,-0.5 0,-0.5 0,-0.5 0,-0.5 0,-0.5 0,-0.5 0.1,-0.5 0,-0.5 0,-0.5 0,-0.5 0,-0.5 0.1,-0.5 0,-0.5 0,-0.5 0,-0.5 0,-0.5 0.1,-0.5 0,-0.5 0,-0.5 0,-0.5 0,-0.5 0.1,-0.5 0,-0.5 0,-0.5 0,-0.5 0.1,-0.5 0,-0.5 0,-0.5 0,-0.5 0.1,-0.5 0,-0.5 0,-0.5 0,-0.5 0.1,-0.5 0,-0.5 0,-0.5 0,-0.5 0.1,-0.5 0,-0.5 0,-0.5 0,-0.5 0.1,-0.5 0,-0.5 0,-0.5 0.1,-0.5 0,-0.5 0,-0.5 0.1,-0.5 0,-0.5 0,-0.5 0.1,-0.5 0,-0.5 0,-0.5 0.1,-0.5 0,-0.5 0.1,-0.5 0,-0.5 0,-0.5 0.1,-0.5 0,-0.5 0,-0.5 0.1,-0.5 0,-0.5 0.1,-0.5 0,-0.5 0,-0.5 0.1,-0.5 0,-0.5 0.1,-0.5 0,-0.5 0.1,-0.5 0,-0.5 0,-0.5 0.1,-0.5 0,-0.5 0.1,-0.5 0,-0.5 0.1,-0.5 0,-0.5 0.1,-0.5 0,-0.5 0,-0.5 0.1,-0.5 0,-0.5 0.1,-0.5 0,-0.5 0.1,-0.5 0,-0.5 0.1,-0.5 0,-0.5 0.1,-0.5 0,-0.5 0,-0.5 0.1,-0.5 0,-0.5 0.1,-0.5 0,-0.5 0.1,-0.5 0,-0.5 0.1,-0.5 0,-0.4 0.1,-0.5 0,-0.5 0.1,-0.5 0,-0.5 0.1,-0.5 0,-0.5 0.1,-0.5 0,-0.5 0.1,-0.5 0.1,-0.5 0,-0.5 0.1,-0.5 0,-0.5 0.1,-0.5 0,-0.5 0.1,-0.5 0,-0.5 0.1,-0.5 0.1,-0.5 0,-0.5 0.1,-0.5 0,-0.5 0.1,-0.5 0,-0.5 0.1,-0.5 0,-0.5 0.1,-0.5 0,-0.5 0,-0.5 0.1,-0.5 0,-0.5 0.1,-0.5 0,-0.5 0.1,-0.5 0,-0.5 0.1,-0.5 0.1,-0.5 0,-0.5 0.1,-0.5 0.1,-0.5 0.1,-0.4 0,-0.5 0.1,-0.5 0.1,-0.5 0.1,-0.5 0.1,-0.5 0.1,-0.5 0.1,-0.5 0.1,-0.5 0.2,-0.5 0.1,-0.5 0.1,-0.4 0.1,-0.5 0.1,-0.5 0.1,-0.5 0.1,-0.5 0.1,-0.5 0,-0.5 0.1,-0.5 0.1,-0.5 0.1,-0.5 0.1,-0.5 0.1,-0.4 0.1,-0.5 0.1,-0.5 0.1,-0.5 0.1,-0.5 0.1,-0.5 0.1,-0.5 0.1,-0.5 0,-0.5 0.1,-0.5 0.1,-0.5 0.1,-0.5 0.1,-0.5 0.1,-0.4 0,-0.5 0.1,-0.5 0.1,-0.5 0.1,-0.5 0,-0.5 0.1,-0.5 0.1,-0.5 0.1,-0.5 0,-0.5 0.1,-0.5 0.1,-0.5 0.1,-0.5 0.1,-0.5 0,-0.5 0.1,-0.5 0.1,-0.5 0.1,-0.4 0.1,-0.5 0.1,-0.5 0.1,-0.5 0.1,-0.5 0.1,-0.5 0.1,-0.5 0.1,-0.5 0.1,-0.5 0.1,-0.5 0.2,-0.4 0.1,-0.5 0.1,-0.5 0.1,-0.5 0.1,-0.5 0.2,-0.5 0.1,-0.4 0.2,-0.5 0.2,-0.5 0.1,-0.5 0.2,-0.4 0.2,-0.5 0.2,-0.4 0.2,-0.5 0.3,-0.4 0.2,-0.5 0.3,-0.4 0.3,-0.4 0.2,-0.4 0.3,-0.4 0.4,-0.4 0.3,-0.4 0.3,-0.3 0.4,-0.4 0.4,-0.3 0.5,-0.2 0.4,-0.2 0.5,-0.2 0.4,-0.2 0.5,-0.2 0.5,-0.1 0.5,-0.2 0.4,-0.2 0.5,-0.1 0.5,-0.1 0.5,0.1 0.5,0.1 0.4,0.3 0.4,0.2 0.5,0.3 0.4,0.3 0.3,0.3 0.4,0.4 0.4,0.3 0.3,0.4 0.4,0.3 0.3,0.4 0.4,0.4 0.3,0.3 0.3,0.4 0.3,0.4 0.4,0.4 0.3,0.4 0.3,0.4 0.2,0.4 0.3,0.4 0.3,0.4 0.3,0.4 0.3,0.5 0.3,0.4 0.2,0.4 0.3,0.4 0.3,0.4 0.2,0.4 0.3,0.5 0.3,0.4 0.3,0.4 0.2,0.4 0.3,0.5 0.3,0.4 0.2,0.4 0.3,0.4 0.3,0.4 0.2,0.5 0.3,0.4 0.3,0.4 0.3,0.4 0.2,0.4 0.3,0.5 0.3,0.4 0.3,0.4 0.2,0.4 0.3,0.4 0.3,0.5 0.3,0.4 0.2,0.4 0.3,0.4 0.2,0.5 0.3,0.4 0.2,0.4 0.2,0.5 0.3,0.4 0.2,0.5 0.2,0.4 0.2,0.5 0.3,0.4 0.2,0.5 0.2,0.4 0.2,0.5 0.2,0.4 0.2,0.5 0.2,0.5 0.2,0.4 0.2,0.5 0.2,0.4 0.2,0.5 0.2,0.5 0.2,0.4 0.2,0.5 0.2,0.4 0.2,0.5 0.2,0.5 0.2,0.4 0.2,0.5 0.2,0.4 0.2,0.5 0.2,0.5 0.2,0.4 0.2,0.5 0.2,0.4 0.2,0.5 0.2,0.4 0.2,0.5 0.2,0.5 0.2,0.4 0.2,0.5 0.2,0.4 0.2,0.5 0.2,0.5 0.2,0.4 0.1,0.5 0.2,0.4 0.2,0.5 0.2,0.5 0.2,0.4 0.2,0.5 0.2,0.4 0.2,0.5 0.2,0.5 0.2,0.4 0.2,0.5 0.2,0.5 0.2,0.4 0.2,0.5 0.2,0.4 0.2,0.5 0.1,0.5 0.2,0.4 0.2,0.5 0.2,0.5 0.2,0.4 0.2,0.5 0.2,0.5 0.2,0.4 0.2,0.5 0.1,0.4 0.2,0.5 0.2,0.5 0.2,0.4 0.2,0.5 0.1,0.5 0.2,0.4 0.2,0.5 0.2,0.5 0.2,0.4 0.1,0.5 0.2,0.5 0.2,0.5 0.1,0.4 0.2,0.5 0.2,0.5 0.1,0.5 0.2,0.4 0.1,0.5 0.2,0.5 0.2,0.5 0.1,0.4 0.2,0.5 0.1,0.5 0.2,0.4 0.2,0.5 0.1,0.5 0.2,0.5 0.1,0.4 0.2,0.5 0.2,0.5 0.1,0.5 0.2,0.4 0.2,0.5 0.1,0.5 0.2,0.4 0.2,0.5 0.1,0.5 0.2,0.5 0.2,0.4 0.1,0.5 0.2,0.5 0.2,0.5 0.1,0.4 0.2,0.5 0.2,0.5 0.1,0.4 0.2,0.5 0.2,0.5 0.1,0.5 0.2,0.4 0.2,0.5 0.1,0.5 0.2,0.5 0.2,0.4 0.1,0.5 0.2,0.5 0.2,0.4 0.1,0.5 0.2,0.5 0.2,0.5 0.1,0.4 0.2,0.5 0.2,0.5 0.1,0.4 0.2,0.5 0.2,0.5 0.1,0.5 0.2,0.4 0.2,0.5 0.2,0.5 0.1,0.4 0.2,0.5 0.2,0.5 0.2,0.4 0.1,0.5 0.2,0.5 0.2,0.4 0.2,0.5 0.2,0.5 0.2,0.4 0.2,0.5 0.1,0.5 0.2,0.4 0.3,0.5 0.2,0.4 0.2,0.5 0.2,0.4 0.2,0.5 0.3,0.4 0.2,0.5 0.2,0.4 0.3,0.4 0.3,0.4 0.2,0.5 0.3,0.4 0.2,0.4 0.3,0.5 0.2,0.4 0.2,0.5 0.3,0.4 0.2,0.4 0.3,0.5 0.2,0.4 0.3,0.4 0.2,0.5 0.3,0.4 0.2,0.4 0.3,0.5 0.2,0.4 0.3,0.4 0.2,0.5 0.3,0.4 0.2,0.4 0.2,0.5 0.3,0.4 0.2,0.5 0.2,0.4 0.2,0.5 0.3,0.4 0.2,0.5 0.2,0.4 0.2,0.5 0.2,0.5 0.2,0.4 0.2,0.5 0.2,0.4 0.2,0.5 0.2,0.4 0.2,0.5 0.2,0.5 0.2,0.4 0.2,0.5 0.2,0.4 0.2,0.5 0.2,0.5 0.1,0.4 0.2,0.5 0.2,0.5 0.2,0.4 0.2,0.5 0.2,0.4 0.2,0.5 0.2,0.5 0.2,0.4 0.2,0.5 0.2,0.5 0.1,0.4 0.2,0.5 0.2,0.5 0.2,0.4 0.2,0.5 0.2,0.4 0.2,0.5 0.2,0.5 0.2,0.4 0.2,0.5 0.1,0.5 0.2,0.4 0.2,0.5 0.2,0.4 0.2,0.5 0.2,0.5 0.2,0.4 0.2,0.5 0.2,0.5 0.2,0.4 0.2,0.5 0.1,0.4 0.2,0.5 0.2,0.5 0.2,0.4 0.2,0.5 0.2,0.4 0.2,0.5 0.2,0.5 0.2,0.4 0.2,0.5 0.2,0.4 0.2,0.5 0.2,0.5 0.2,0.4 0.2,0.5 0.2,0.4 0.2,0.5 0.2,0.5 0.2,0.4 0.2,0.5 0.2,0.4 0.2,0.5 0.2,0.4 0.2,0.5 0.2,0.5 0.2,0.4 0.2,0.5 0.2,0.4 0.3,0.5 0.2,0.4 0.2,0.5 0.2,0.5 0.2,0.4 0.2,0.5 0.2,0.4 0.2,0.5 0.2,0.4 0.2,0.5 0.2,0.5 0.2,0.4 0.2,0.5 0.2,0.4 0.2,0.5 0.2,0.5 0.2,0.4 0.1,0.5 0.2,0.5 0.2,0.4 0.2,0.5 0.2,0.4 0.3,0.5 0.2,0.4 0.2,0.5 0.2,0.4 0.2,0.5 0.2,0.5 0.2,0.4 0.2,0.5 0.2,0.4 0.3,0.5 0.2,0.4 0.2,0.5 0.2,0.4 0.2,0.5 0.2,0.4 0.3,0.5 0.2,0.4 0.2,0.5 0.2,0.4 0.2,0.5 0.2,0.4 0.3,0.5 0.2,0.4 0.2,0.5 0.2,0.4 0.2,0.5 0.3,0.4 0.2,0.5 0.2,0.4 0.2,0.5 0.2,0.4 0.3,0.5 0.2,0.4 0.2,0.5 0.2,0.4 0.3,0.5 0.2,0.4 0.2,0.4 0.3,0.5 0.2,0.4 0.2,0.5 0.3,0.4 0.2,0.5 0.2,0.4 0.3,0.4 0.2,0.5 0.2,0.4 0.3,0.5 0.2,0.4 0.3,0.4 0.2,0.5 0.2,0.4 0.3,0.5 0.2,0.4 0.3,0.4 0.2,0.5 0.3,0.4 0.2,0.4 0.3,0.5 0.2,0.4 0.3,0.4 0.2,0.5 0.3,0.4 0.2,0.4 0.3,0.5 0.3,0.4 0.2,0.4 0.3,0.4 0.2,0.5 0.3,0.4 0.2,0.4 0.3,0.5 0.2,0.4 0.3,0.4 0.3,0.5 0.2,0.4 0.3,0.4 0.2,0.4 0.3,0.5 0.3,0.4 0.2,0.4 0.3,0.4 0.2,0.5 0.3,0.4 0.3,0.4 0.2,0.4 0.3,0.5 0.3,0.4 0.2,0.4 0.3,0.4 0.3,0.5 0.2,0.4 0.3,0.4 0.3,0.4 0.3,0.4 0.2,0.5 0.3,0.4 0.3,0.4 0.3,0.4 0.3,0.4 0.2,0.4 0.3,0.5 0.3,0.4 0.3,0.4 0.3,0.4 0.3,0.4 0.2,0.4 0.3,0.4 0.3,0.4 0.3,0.4 0.3,0.5 0.3,0.4 0.2,0.4 0.3,0.4 0.3,0.4 0.3,0.4 0.3,0.4 0.3,0.4 0.3,0.4 0.2,0.5 0.3,0.4 0.3,0.4 0.3,0.4 0.3,0.4 0.3,0.4 0.3,0.4 0.2,0.4 0.3,0.4 0.3,0.5 0.3,0.4 0.3,0.4 0.3,0.4 0.3,0.4 0.2,0.4 0.3,0.4 0.3,0.4 0.3,0.4 0.3,0.5 0.3,0.4 0.3,0.4 0.3,0.4 0.2,0.4 0.3,0.4 0.3,0.4 0.3,0.4 0.3,0.4 0.3,0.4 0.3,0.5 0.3,0.4 0.2,0.4 0.3,0.4 0.3,0.4 0.3,0.4 0.3,0.4 0.3,0.4 0.2,0.4 0.3,0.5 0.3,0.4 0.3,0.4 0.3,0.4 0.3,0.4 0.3,0.4 0.3,0.4 0.3,0.4 0.3,0.4 0.3,0.4 0.3,0.4 0.3,0.4 0.3,0.4 0.3,0.4 0.3,0.4 0.3,0.3 0.4,0.4 0.3,0.4 0.3,0.4 0.4,0.4 0.3,0.3 0.3,0.4 0.3,0.4 0.4,0.4 0.3,0.4 0.4,0.3 0.3,0.3 0.3,0.4 0.4,0.4 0.3,0.5 0.3,0.3 0.4,0.3 0.3,0.3 0.3,0.4 0.4,0.5 0.3,0.3 0.3,0.5 0.3,0.4 0.4,0.4 0.3,0.3 0.3,0.4 0.2,0.5 0.3,0.4 0.3,0.5 0.3,0.2 0.3,0.2 0.4,0.5 0.3,0.3 0.4,0.5 0.3,0.3 0.4,0.4 0.4,0.5 0.4,0.1 0.3,0.5 0.4,0.5 0.4,0 0.4,0.1 0.4,0.4 0.4,0.2 0.3,0.4 0.4,0.7 0.4,-0.1 0.4,0.4 0.4,0.5 0.4,0.1 0.4,0.3 0.4,0.3 0.4,0.5 0.4,0.4 0.4,0.1 0.4,0.2 0.4,0.2 0.5,0 0.4,0.3 0.4,0.8 0.4,0 0.4,0.4 0.5,0.3 0.4,0 0.4,0.4 0.4,0.4 0.5,0.4 0.4,-0.1 0.4,0.2 0.5,0 0.4,0.7 0.4,0.1 0.4,0.4 0.5,0.3 0.4,-0.3 0.4,0.6 0.4,0.5 0.5,-0.3 0.4,0.3 0.4,0.7 0.4,0.9 0.4,0.8 0.5,-0.3 0.4,0.7 0.4,-0.3 0.4,-0.1 0.5,0.6 0.4,0.2 0.4,0.2 0.4,0.3 0.5,0.4 0.4,-0.2 0.4,1.1 0.5,-0.2 0.4,0 0.5,0 0.4,0.6 0.5,-0.3 0.5,-0.3 0.4,0.4 0.5,1 0.5,-0.5 0.5,0.1 0.5,0.1 0.4,0.8 0.5,-0.8 0.5,0.2 0.5,0.3 0.5,0.3 0.5,-0.6 0.5,0.7 0.5,0.5 0.4,-0.2 0.5,-0.3 0.5,1.3 0.5,-0.5 0.4,-0.6 0.5,1.1 0.5,0.3 0.4,1 0.5,0 0.5,-0.7 0.4,0.7 0.5,0.5 0.4,-0.4 0.5,1.2 0.4,-0.2 0.4,-0.2 0.5,0.4 0.4,0.3 0.5,0.9 0.4,0.3 0.5,-1.2 0.4,0.8 0.5,-0.5 0.4,0.6 0.5,-0.3 0.5,0.7 0.4,0 0.5,0.7 0.5,0 0.4,0.8 0.5,-0.6 0.5,-0.1 0.5,1.1 0.5,-0.4 0.5,0 0.4,0.3 0.5,0.2 0.5,-0.5 0.5,-0.2 0.5,0.1 0.5,0.3 0.5,0.3 0.5,1.1 0.5,-0.2 0.5,0.4 0.4,-1.3 0.5,-0.5 0.5,0.7 0.5,0.4 0.5,-0.1 0.4,0.9 0.5,0 0.5,1 0.4,-0.1 0.5,0.2 0.4,0.1 0.5,-0.9 0.5,0 0.4,0.5 0.5,0.8 0.5,-0.2 0.5,0.8 0.5,-0.2 0.5,0 0.5,-0.4 0.5,0.6 0.5,-0.6 0.5,-1.4 0.5,1.3 0.5,-0.3 0.5,-0.4 0.5,-0.2 0.5,-0.4 0.4,0.4 0.5,-0.4 0.5,-0.7 0.5,0.1 0.5,-0.4 0.5,1.7 0.5,-1 0.5,0.6 0.5,0.1 0.5,0.4 0.5,-0.3 0.5,0.5 0.5,-0.3 0.5,1.3 0.5,-1.4 0.5,1.3 0.5,1.1 0.4,-1.2 0.5,1.4 0.5,0.1 0.5,-0.7 0.5,0.9 0.5,-0.6 0.4,0.6 0.5,-0.1 0.5,-0.2 0.5,0 0.4,0.3 0.5,-0.6 0.5,1.2 0.5,0.3 0.4,0.8 0.5,-0.4 0.5,-0.2 0.4,-0.3 0.5,1.1 0.5,-1.6 0.5,0.2 0.4,2 0.5,-0.2 0.5,0 0.5,0 0.4,0.4 0.5,-0.9 0.5,0.7 0.5,0.5 0.5,0.4 0.4,0.1 0.5,-0.2 0.5,-0.3 0.5,-0.2 0.5,0.5 0.5,0.1 0.5,0.2 0.4,0.7 0.5,0.1 0.5,-1 0.5,1.2 0.5,-0.8 0.5,-0.3 0.5,1.8 0.4,-0.5 0.5,-0.3 0.5,0.3 0.5,0.8 0.5,0.6 0.5,-0.2 0.5,-1 0.5,-0.4 0.5,0.2 0.5,0.6 0.5,-0.3 0.4,-0.5 0.5,1.1 0.5,0.6 0.5,-0.5 0.5,0.9 0.5,0.2 0.5,-0.4 0.5,-0.6 0.5,0.1 0.5,-0.2 0.5,-0.2 0.5,0.4 0.5,-0.5 0.5,0.2 0.5,0.1 0.5,-0.4 0.5,-0.5 0.5,0.6 0.5,-0.5 0.4,0.6 0.5,0 0.5,-0.4 0.5,0.2 0.5,-0.2 0.5,-0.3 0.5,1.2 0.5,0 0.5,-0.3 0.5,-0.6 0.5,0.3 0.5,1.2 0.5,-0.3 0.4,-0.1 0.5,0.6 0.5,-0.3 0.5,0.2 0.5,1.1 0.5,0.3 0.4,0 0.5,-0.2 0.5,0.2 0.5,-0.2 0.5,-0.9 0.4,0.5 0.5,1.2 0.5,-0.7 0.5,0.9 0.5,-0.6 0.5,-0.3 0.4,1 0.5,-0.3 0.5,0.2 0.5,0 0.5,-0.6 0.5,1.2 0.5,0 0.5,-0.3 0.5,-0.4 0.5,1.2 0.5,-0.2 0.4,0.1 0.5,-0.5 0.5,0 0.5,-0.6 0.5,-1.1 0.5,0.6 0.5,0.4 0.5,-1 0.5,0.5 0.5,0.5 0.5,-0.7 0.5,0.3 0.5,-0.4 0.5,0.1" stroke="#00ff00"/>
<path d="M57,107.2l0.5,0 0.5,0.1 0.5,0.1 0.4,0.3 0.3,0.4 0.3,0.4 0.4,0.4 0.2,0.4 0.3,0.4 0.3,0.4 0.3,0.4 0.3,0.5 0.2,0.4 0.3,0.4 0.2,0.5 0.3,0.4 0.2,0.4 0.3,0.5 0.2,0.4 0.2,0.4 0.3,0.5 0.2,0.4 0.2,0.5 0.3,0.4 0.2,0.5 0.3,0.4 0.2,0.4 0.2,0.5 0.3,0.4 0.2,0.5 0.2,0.4 0.2,0.5 0.3,0.4 0.2,0.5 0.2,0.4 0.2,0.5 0.2,0.4 0.2,0.5 0.2,0.4 0.2,0.5 0.2,0.5 0.3,0.4 0.2,0.5 0.2,0.4 0.2,0.5 0.2,0.5 0.2,0.4 0.2,0.5 0.2,0.4 0.2,0.5 0.2,0.4 0.2,0.5 0.2,0.5 0.2,0.4 0.2,0.5 0.2,0.5 0.2,0.4 0.2,0.5 0.2,0.4 0.1,0.5 0.2,0.5 0.2,0.4 0.2,0.5 0.2,0.5 0.2,0.4 0.2,0.5 0.1,0.5 0.2,0.4 0.2,0.5 0.1,0.5 0.2,0.5 0.2,0.4 0.1,0.5 0.2,0.5 0.1,0.5 0.2,0.4 0.1,0.5 0.2,0.5 0.1,0.5 0.2,0.5 0.1,0.4 0.2,0.5 0.1,0.5 0.2,0.5 0.1,0.5 0.2,0.4 0.1,0.5 0.2,0.5 0.2,0.5 0.1,0.4 0.2,0.5 0.1,0.5 0.2,0.5 0.1,0.4 0.2,0.5 0.2,0.5 0.1,0.5 0.2,0.4 0.1,0.5 0.2,0.5 0.2,0.5 0.1,0.4 0.2,0.5 0.1,0.5 0.2,0.5 0.2,0.4 0.1,0.5 0.2,0.5 0.2,0.5 0.1,0.4 0.2,0.5 0.1,0.5 0.2,0.5 0.2,0.4 0.2,0.5 0.1,0.5 0.2,0.4 0.2,0.5 0.2,0.5 0.1,0.5 0.2,0.4 0.2,0.5 0.2,0.5 0.2,0.4 0.1,0.5 0.2,0.5 0.2,0.4 0.2,0.5 0.2,0.5 0.1,0.4 0.2,0.5 0.2,0.5 0.2,0.4 0.2,0.5 0.1,0.5 0.2,0.5 0.2,0.4 0.1,0.5 0.2,0.5 0.2,0.4 0.2,0.5 0.1,0.5 0.2,0.5 0.1,0.4 0.2,0.5 0.2,0.5 0.1,0.5 0.2,0.4 0.1,0.5 0.2,0.5 0.1,0.5 0.2,0.5 0.1,0.4 0.1,0.5 0.2,0.5 0.1,0.5 0.2,0.5 0.1,0.4 0.2,0.5 0.1,0.5 0.1,0.5 0.2,0.5 0.1,0.5 0.2,0.4 0.1,0.5 0.1,0.5 0.2,0.5 0.1,0.5 0.2,0.4 0.1,0.5 0.1,0.5 0.2,0.5 0.1,0.5 0.2,0.4 0.1,0.5 0.2,0.5 0.1,0.5 0.2,0.5 0.1,0.4 0.1,0.5 0.2,0.5 0.1,0.5 0.2,0.5 0.1,0.4 0.2,0.5 0.1,0.5 0.2,0.5 0.1,0.5 0.2,0.4 0.1,0.5 0.2,0.5 0.1,0.5 0.2,0.5 0.1,0.4 0.2,0.5 0.2,0.5 0.1,0.5 0.2,0.4 0.1,0.5 0.2,0.5 0.2,0.4 0.2,0.5 0.1,0.5 0.2,0.5 0.2,0.4 0.1,0.5 0.2,0.5 0.2,0.4 0.2,0.5 0.2,0.5 0.1,0.4 0.2,0.5 0.2,0.5 0.2,0.5 0.2,0.4 0.1,0.5 0.2,0.5 0.2,0.4 0.2,0.5 0.2,0.4 0.2,0.5 0.2,0.5 0.2,0.4 0.2,0.5 0.2,0.5 0.2,0.4 0.2,0.5 0.2,0.4 0.2,0.5 0.2,0.5 0.2,0.4 0.2,0.5 0.2,0.4 0.2,0.5 0.2,0.4 0.2,0.5 0.2,0.5 0.2,0.4 0.2,0.5 0.3,0.4 0.2,0.5 0.2,0.4 0.2,0.5 0.2,0.4 0.2,0.5 0.2,0.4 0.3,0.5 0.2,0.5 0.2,0.4 0.2,0.5 0.2,0.4 0.3,0.4 0.2,0.5 0.2,0.4 0.3,0.5 0.2,0.4 0.2,0.5 0.2,0.4 0.2,0.5 0.2,0.5 0.2,0.4 0.2,0.5 0.2,0.4 0.2,0.5 0.2,0.5 0.2,0.4 0.2,0.5 0.2,0.4 0.2,0.5 0.2,0.4 0.2,0.5 0.2,0.5 0.2,0.4 0.2,0.5 0.3,0.4 0.2,0.5 0.2,0.4 0.2,0.5 0.2,0.5 0.2,0.4 0.2,0.5 0.2,0.4 0.3,0.5 0.2,0.4 0.2,0.5 0.2,0.4 0.2,0.5 0.2,0.4 0.3,0.5 0.2,0.4 0.2,0.5 0.2,0.5 0.2,0.4 0.2,0.5 0.3,0.4 0.2,0.4 0.2,0.5 0.2,0.5 0.3,0.4 0.2,0.4 0.2,0.5 0.3,0.4 0.2,0.5 0.2,0.4 0.3,0.4 0.2,0.5 0.3,0.4 0.2,0.6 0.3,0.2 0.2,0.5 0.3,0.3 0.2,0.6 0.3,0.5 0.2,0.4 0.3,0.4 0.3,0.5 0.2,0.3 0.3,0.5 0.3,0.4 0.2,0.2 0.3,0.5 0.3,0.4 0.2,0.7 0.3,0.2 0.3,0.5 0.2,0.5 0.3,0.2 0.3,0.6 0.3,0.6 0.2,0.3 0.3,0.5 0.3,0.4 0.2,0.3 0.3,0.5 0.3,0.4 0.2,0.3 0.3,0.5 0.3,0.3 0.2,0.3 0.3,0.4 0.3,0.9 0.2,0.4 0.3,0.2 0.3,0.6 0.2,0.4 0.3,0.5 0.3,0 0.3,0.4 0.2,0.4 0.3,0.6 0.3,0.7 0.3,0.5 0.3,0.1 0.3,0.3 0.3,0.8 0.3,0.6 0.2,-0.3 0.3,0.6 0.3,0.3 0.3,0.3 0.3,0.4 0.4,0.5 0.3,0.3 0.3,0.1 0.3,0.9 0.3,0.6 0.3,0.4 0.4,0.5 0.3,0.3 0.4,0.3 0.3,0.9 0.4,-0.2 0.4,0.4 0.3,0.7 0.4,-0.1 0.4,-0.1 0.4,0.4 0.4,0.4 0.5,0.3 0.4,0 0.4,0.3 0.4,0.2 0.4,0.3 0.5,0.3 0.4,1 0.4,0.5 0.5,0.9 0.4,-1.2 0.4,0.1 0.5,0.6 0.4,-0.7 0.4,0.3 0.5,0.3 0.4,0.6 0.5,-0.1 0.4,0.6 0.5,-0.3 0.4,1.5 0.5,-0.6 0.4,0.5 0.5,0.2 0.5,0.1 0.4,-0.2 0.5,0.2 0.4,-0.2 0.5,0.3 0.5,-0.1 0.4,0.7 0.5,0.5 0.5,0 0.4,0.2 0.5,0.6 0.5,0.5 0.4,-0.2 0.5,0.1 0.5,0.6 0.5,0.1 0.4,1.1 0.5,-1.7 0.5,0.7 0.5,-0.9 0.5,1.3 0.4,-0.5 0.5,0.5 0.5,0.6 0.5,0.3 0.5,-1.5 0.5,1 0.5,0.9 0.5,-0.8 0.5,1.1 0.5,0.5 0.4,-1.1 0.5,0.1 0.5,0.4 0.5,0.5 0.5,-0.5 0.5,-0.1 0.5,-0.8 0.5,0.5 0.5,0.1 0.5,-0.3 0.5,0.5 0.5,-0.4 0.5,0.4 0.5,1.2 0.5,-1.1 0.5,0.8 0.5,-0.7 0.5,0 0.5,-0.4 0.5,0.4 0.5,1.2 0.5,-0.4 0.5,-0.8 0.5,1.6 0.5,-0.9 0.5,0.5 0.4,0.1 0.5,-0.8 0.5,1.8 0.5,0 0.5,-0.7 0.4,0.7 0.5,-0.1 0.5,0 0.5,0.2 0.4,-0.5 0.5,0.3 0.5,0 0.5,1.3 0.4,-1.1 0.5,1.6 0.5,0.1 0.4,0 0.5,-0.1 0.5,1.2 0.4,0.1 0.5,-0.8 0.5,0.1 0.5,0.2 0.5,1 0.5,-1.4 0.5,0.6 0.5,0.4 0.5,-1.1 0.5,0.2 0.5,0.4 0.5,-0.6 0.5,0.3 0.5,-0.8 0.5,1.3 0.5,-0.6 0.5,0.2 0.5,0.6 0.5,-0.3 0.5,0.4 0.5,-0.1 0.5,-0.1 0.5,0.3 0.5,-0.8 0.5,-0.7 0.5,1.5 0.5,0.4 0.5,-0.8 0.5,-0.1 0.5,0.9 0.5,-0.7 0.5,-0.3 0.5,-0.1 0.5,1.1 0.5,-1.4 0.5,-1.2 0.5,1.3 0.5,-0.4 0.5,0 0.5,0.7 0.5,-0.4 0.5,0.4 0.5,-0.9 0.5,0.5 0.4,-0.5 0.5,0 0.5,0.2 0.5,0.7 0.5,-0.7 0.5,-0.6 0.5,0.2 0.5,0 0.5,0.2 0.5,-0.8 0.5,0 0.5,-0.6 0.5,-0.1 0.5,-0.1 0.5,0.6 0.5,0.2 0.5,0.5 0.5,-0.3 0.5,-0.3 0.5,0.2 0.5,0.4 0.5,-0.5 0.5,0.2 0.5,0 0.5,0.7 0.5,-1.3 0.5,1.8 0.5,-2 0.5,0.5 0.5,0.9 0.5,-0.6 0.5,0.2 0.5,0.1 0.5,-0.3 0.5,-0.4 0.5,0.3 0.5,0.4 0.5,-0.1 0.5,0.2 0.5,0.2 0.4,1.1 0.5,-1.4 0.5,1.6 0.5,0.2 0.5,0.3 0.5,0.1 0.5,0 0.5,-0.1 0.5,-0.6 0.5,-0.9 0.5,0.6 0.5,0.2 0.5,0.5 0.5,-0.7 0.5,0 0.5,0.4 0.5,-0.9 0.5,1 0.5,0.5 0.5,-0.4 0.5,0.4 0.5,-0.8 0.5,0.2 0.5,0.6 0.5,0.8 0.5,-1 0.5,0.1 0.5,0 0.5,0.4 0.5,-1.2 0.5,0.8 0.5,-0.3 0.5,0.3 0.5,-0.4 0.5,0.6 0.5,0.8 0.5,-0.8 0.5,0.1 0.5,-0.9 0.5,1.3 0.5,-0.7 0.5,0.4 0.5,-0.6 0.5,-0.5 0.5,0.2 0.5,-0.3 0.5,1.9 0.5,-0.2 0.5,0 0.5,0.1 0.5,0 0.5,-0.1 0.2,-0.7 0,-0.5 0,-0.5 0,-0.5 0,-0.5 0,-0.5 0,-0.5 0,-0.5 0,-0.5 0,-0.5 0.1,-0.5 0,-0.5 0,-0.5 0,-0.5 0,-0.5 0,-0.5 0,-0.5 0,-0.5 0,-0.5 0,-0.5 0,-0.5 0,-0.5 0,-0.5 0,-0.5 0,-0.5 0,-0.5 0,-0.5 0,-0.5 0,-0.5 0,-0.5 0,-0.5 0.1,-0.5 0,-0.5 0,-0.5 0,-0.5 0,-0.5 0,-0.5 0,-0.5 0,-0.5 0,-0.5 0,-0.5 0,-0.5 0,-0.5 0,-0.5 0,-0.5 0,-0.5 0,-0.5 0,-0.5 0,-0.5 0,-0.5 0.1,-0.5 0,-0.5 0,-0.5 0,-0.5 0,-0.5 0,-0.5 0,-0.5 0,-0.5 0,-0.5 0,-0.5 0,-0.5 0,-0.5 0,-0.5 0,-0.5 0,-0.5 0,-0.5 0,-0.5 0.1,-0.5 0,-0.5 0,-0.5 0,-0.5 0,-0.5 0,-0.5 0,-0.5 0,-0.5 0,-0.5 0,-0.5 0,-0.5 0,-0.5 0,-0.5 0,-0.5 0.1,-0.5 0,-0.5 0,-0.5 0,-0.5 0,-0.5 0,-0.5 0,-0.5 0,-0.5 0,-0.5 0,-0.5 0,-0.5 0,-0.5 0,-0.5 0.1,-0.5 0,-0.5 0,-0.5 0,-0.5 0,-0.5 0,-0.5 0,-0.5 0,-0.5 0,-0.5 0,-0.5 0,-0.5 0,-0.5 0.1,-0.5 0,-0.5 0,-0.5 0,-0.5 0,-0.5 0,-0.5 0,-0.5 0,-0.5 0,-0.5 0,-0.5 0,-0.5 0.1,-0.5 0,-0.5 0,-0.5 0,-0.5 0,-0.5 0,-0.5 0,-0.5 0,-0.5 0,-0.5 0,-0.5 0,-0.5 0.1,-0.5 0,-0.5 0,-0.5 0,-0.5 0,-0.5 0,-0.5 0,-0.5 0,-0.5 0,-0.5 0,-0.5 0.1,-0.5 0,-0.5 0,-0.5 0,-0.6 0,-0.5 0,-0.5 0,-0.5 0,-0.5 0,-0.5 0,-0.5 0.1,-0.5 0,-0.5 0,-0.5 0,-0.5 0,-0.5 0,-0.5 0,-0.5 0,-0.5 0,-0.5 0,-0.5 0.1,-0.5 0,-0.5 0,-0.5 0,-0.5 0,-0.5 0,-0.5 0,-0.5 0,-0.5 0,-0.5 0.1,-0.5 0,-0.5 0,-0.5 0,-0.5 0,-0.5 0,-0.5 0,-0.5 0,-0.5 0.1,-0.5 0,-0.5 0,-0.5 0,-0.5 0,-0.5 0,-0.5 0,-0.5 0,-0.5 0,-0.5 0.1,-0.5 0,-0.5 0,-0.5 0,-0.5 0,-0.5 0,-0.5 0,-0.5 0,-0.5 0.1,-0.5 0,-0.5 0,-0.5 0,-0.5 0,-0.5 0,-0.5 0,-0.5 0.1,-0.5 0,-0.5 0,-0.5 0,-0.5 0,-0.5 0,-0.5 0,-0.5 0,-0.5 0.1,-0.5 0,-0.5 0,-0.5 0,-0.5 0,-0.5 0,-0.5 0,-0.5 0.1,-0.5 0,-0.5 0,-0.5 0,-0.5 0,-0.5 0,-0.5 0,-0.5 0.1,-0.5 0,-0.5 0,-0.5 0,-0.5 0,-0.5 0,-0.5 0,-0.5 0.1,-0.5 0,-0.5 0,-0.5 0,-0.5 0,-0.5 0,-0.5 0.1,-0.5 0,-0.5 0,-0.5 0,-0.5 0,-0.5 0,-0.5 0,-0.5 0.1,-0.5 0,-0.5 0,-0.5 0,-0.5 0,-0.5 0,-0.5 0,-0.5 0.1,-0.5 0,-0.5 0,-0.5 0,-0.5 0,-0.5 0,-0.5 0.1,-0.5 0,-0.5 0,-0.5 0,-0.5 0,-0.5 0,-0.5 0.1,-0.5 0,-0.5 0,-0.5 0,-0.5 0,-0.5 0,-0.5 0.1,-0.5 0,-0.5 0,-0.5 0,-0.5 0,-0.5 0,-0.5 0,-0.5 0.1,-0.5 0,-0.5 0,-0.5 0,-0.5 0,-0.5 0,-0.5 0.1,-0.5 0,-0.5 0,-0.5 0,-0.5 0,-0.5 0,-0.5 0.1,-0.5 0,-0.5 0,-0.5 0,-0.5 0,-0.5 0,-0.5 0.1,-0.5 0,-0.5 0,-0.5 0,-0.5 0,-0.5 0,-0.5 0.1,-0.5 0,-0.5 0,-0.5 0,-0.5 0,-0.5 0,-0.5 0.1,-0.5 0,-0.5 0,-0.5 0,-0.5 0,-0.5 0,-0.5 0.1,-0.5 0,-0.5 0,-0.5 0,-0.5 0,-0.5 0,-0.5 0.1,-0.5 0,-0.5 0,-0.5 0,-0.5 0,-0.5 0,-0.5 0.1,-0.5 0,-0.5 0,-0.5 0,-0.5 0,-0.5 0,-0.5 0.1,-0.5 0,-0.5 0,-0.5 0,-0.5 0,-0.5 0,-0.5 0.1,-0.5 0,-0.5 0,-0.5 0,-0.5 0,-0.5 0.1,-0.5 0,-0.5 0,-0.5 0,-0.5 0,-0.5 0.1,-0.5 0,-0.5 0,-0.5 0,-0.5 0,-0.5 0.1,-0.5 0,-0.5 0,-0.5 0,-0.5 0,-0.5 0.1,-0.5 0,-0.5 0,-0.5 0,-0.5 0,-0.5 0.1,-0.5 0,-0.5 0,-0.5 0,-0.5 0.1,-0.5 0,-0.5 0,-0.5 0,-0.5 0.1,-0.5 0,-0.5 0,-0.5 0.1,-0.5 0,-0.5 0,-0.5 0,-0.5 0.1,-0.5 0,-0.5 0,-0.5 0.1,-0.5 0,-0.5 0,-0.5 0.1,-0.5 0,-0.5 0,-0.5 0.1,-0.5 0,-0.5 0,-0.5 0.1,-0.5 0,-0.5 0,-0.5 0.1,-0.5 0,-0.5 0,-0.5 0.1,-0.5 0,-0.5 0.1,-0.5 0,-0.5 0,-0.5 0.1,-0.5 0,-0.5 0.1,-0.5 0,-0.5 0.1,-0.5 0,-0.5 0,-0.5 0.1,-0.5 0,-0.5 0.1,-0.4 0,-0.5 0.1,-0.5 0,-0.5 0,-0.5 0.1,-0.5 0,-0.5 0.1,-0.5 0,-0.5 0.1,-0.5 0,-0.5 0.1,-0.5 0,-0.5 0.1,-0.5 0,-0.5 0,-0.5 0.1,-0.5 0,-0.5 0.1,-0.5 0,-0.5 0.1,-0.5 0,-0.5 0.1,-0.5 0,-0.5 0.1,-0.5 0,-0.5 0.1,-0.5 0,-0.5 0.1,-0.5 0,-0.5 0.1,-0.5 0,-0.5 0.1,-0.5 0,-0.5 0.1,-0.5 0,-0.5 0.1,-0.5 0,-0.5 0.1,-0.5 0,-0.5 0.1,-0.5 0,-0.5 0.1,-0.5 0.1,-0.5 0,-0.5 0.1,-0.5 0,-0.5 0.1,-0.5 0,-0.5 0.1,-0.4 0,-0.5 0.1,-0.5 0,-0.5 0.1,-0.5 0,-0.5 0.1,-0.5 0,-0.5 0.1,-0.5 0,-0.5 0.1,-0.5 0,-0.5 0.1,-0.5 0,-0.5 0.1,-0.5 0,-0.5 0.1,-0.5 0.1,-0.5 0,-0.5 0.1,-0.5 0.1,-0.5 0.1,-0.5 0.1,-0.5 0.1,-0.5 0.1,-0.5 0.1,-0.4 0.1,-0.5 0.1,-0.5 0.1,-0.5 0.1,-0.5 0.1,-0.5 0.1,-0.5 0.1,-0.5 0.1,-0.5 0.1,-0.5 0.1,-0.4 0.1,-0.5 0.1,-0.5 0.1,-0.5 0.1,-0.5 0.1,-0.5 0.1,-0.5 0.1,-0.5 0.1,-0.5 0,-0.5 0.1,-0.5 0.1,-0.5 0.1,-0.4 0.1,-0.5 0.1,-0.5 0.1,-0.5 0.1,-0.5 0.1,-0.5 0,-0.5 0.1,-0.5 0.1,-0.5 0.1,-0.5 0,-0.5 0.1,-0.5 0.1,-0.5 0.1,-0.5 0,-0.5 0.1,-0.5 0.1,-0.5 0.1,-0.4 0,-0.5 0.1,-0.5 0.1,-0.5 0.1,-0.5 0.1,-0.5 0,-0.5 0.1,-0.5 0.1,-0.5 0.1,-0.5 0.1,-0.5 0.1,-0.5 0.1,-0.5 0.1,-0.4 0.1,-0.5 0.1,-0.5 0.1,-0.5 0.1,-0.5 0.1,-0.5 0.1,-0.5 0.2,-0.5 0.1,-0.5 0.1,-0.4 0.1,-0.5 0.2,-0.5 0.1,-0.5 0.2,-0.5 0.1,-0.4 0.2,-0.5 0.2,-0.5 0.2,-0.4 0.2,-0.5 0.2,-0.4 0.3,-0.5 0.2,-0.4 0.3,-0.4 0.2,-0.5 0.3,-0.4 0.3,-0.4 0.3,-0.4 0.4,-0.3 0.3,-0.4 0.4,-0.3 0.4,-0.3 0.4,-0.3 0.5,-0.2 0.4,-0.2 0.5,-0.2 0.4,-0.2 0.5,-0.1 0.5,-0.2 0.5,-0.2 0.4,-0.1 0.5,0.1 0.5,0.1 0.5,0.2 0.4,0.2 0.5,0.3 0.4,0.3 0.4,0.3 0.4,0.3 0.4,0.3 0.3,0.3 0.4,0.3 0.4,0.4 0.3,0.3 0.4,0.4 0.3,0.4 0.4,0.3 0.3,0.4 0.3,0.4 0.3,0.4 0.3,0.4 0.3,0.4 0.3,0.4 0.3,0.4 0.3,0.4 0.3,0.4 0.2,0.4 0.3,0.5 0.3,0.4 0.3,0.4 0.3,0.4 0.3,0.4 0.2,0.4 0.3,0.4 0.3,0.4 0.3,0.5 0.3,0.4 0.2,0.4 0.3,0.4 0.3,0.4 0.3,0.4 0.2,0.5 0.3,0.4 0.3,0.4 0.3,0.4 0.3,0.4 0.2,0.5 0.3,0.4 0.3,0.4 0.3,0.4 0.2,0.4 0.3,0.4 0.3,0.5 0.3,0.4 0.2,0.4 0.3,0.4 0.3,0.4 0.3,0.4 0.2,0.5 0.2,0.4 0.2,0.5 0.2,0.4 0.3,0.5 0.2,0.4 0.2,0.5 0.2,0.4 0.2,0.5 0.2,0.5 0.2,0.4 0.2,0.5 0.2,0.4 0.2,0.5 0.2,0.4 0.2,0.5 0.2,0.5 0.2,0.4 0.2,0.5 0.2,0.4 0.2,0.5 0.2,0.4 0.2,0.5 0.2,0.5 0.2,0.4 0.2,0.5 0.2,0.4 0.2,0.5 0.2,0.5 0.2,0.4 0.2,0.5 0.2,0.4 0.2,0.5 0.2,0.4 0.2,0.5 0.2,0.5 0.2,0.4 0.2,0.5 0.2,0.4 0.2,0.5 0.2,0.5 0.2,0.4 0.2,0.5 0.2,0.4 0.2,0.5 0.2,0.5 0.2,0.4 0.2,0.5 0.2,0.5 0.2,0.4 0.2,0.5 0.2,0.4 0.2,0.5 0.2,0.5 0.1,0.4 0.2,0.5 0.2,0.4 0.2,0.5 0.2,0.5 0.2,0.4 0.2,0.5 0.2,0.5 0.2,0.4 0.2,0.5 0.1,0.5 0.2,0.4 0.2,0.5 0.2,0.4 0.2,0.5 0.2,0.5 0.1,0.4 0.2,0.5 0.2,0.5 0.2,0.5 0.2,0.4 0.1,0.5 0.2,0.5 0.2,0.4 0.1,0.5 0.2,0.5 0.2,0.4 0.1,0.5 0.2,0.5 0.2,0.5 0.1,0.4 0.2,0.5 0.1,0.5 0.2,0.5 0.2,0.4 0.1,0.5 0.2,0.5 0.1,0.5 0.2,0.4 0.2,0.5 0.1,0.5 0.2,0.4 0.2,0.5 0.1,0.5 0.2,0.5 0.2,0.4 0.1,0.5 0.2,0.5 0.2,0.5 0.1,0.4 0.2,0.5 0.2,0.5 0.1,0.4 0.2,0.5 0.2,0.5 0.1,0.5 0.2,0.4 0.2,0.5 0.1,0.5 0.2,0.4 0.2,0.5 0.1,0.5 0.2,0.5 0.2,0.4 0.1,0.5 0.2,0.5 0.2,0.4 0.1,0.5 0.2,0.5 0.2,0.5 0.1,0.4 0.2,0.5 0.2,0.5 0.2,0.4 0.1,0.5 0.2,0.5 0.2,0.5 0.1,0.4 0.2,0.5 0.2,0.5 0.1,0.4 0.2,0.5 0.2,0.5 0.2,0.4 0.1,0.5 0.2,0.5 0.2,0.5 0.1,0.4 0.2,0.5 0.2,0.5 0.2,0.4 0.1,0.5 0.2,0.5 0.2,0.4 0.2,0.5 0.1,0.5 0.2,0.4 0.2,0.5 0.2,0.5 0.2,0.4 0.1,0.5 0.2,0.5 0.2,0.4 0.2,0.5 0.2,0.5 0.1,0.4 0.2,0.5 0.2,0.5 0.2,0.4 0.2,0.5 0.1,0.5 0.2,0.4 0.2,0.5 0.2,0.5 0.2,0.4 0.2,0.5 0.1,0.5 0.2,0.4 0.2,0.5 0.2,0.5 0.2,0.4 0.2,0.5 0.1,0.5 0.2,0.4 0.2,0.5 0.2,0.5 0.2,0.4 0.1,0.5 0.2,0.5 0.2,0.4 0.2,0.5 0.1,0.5 0.2,0.4 0.2,0.5 0.2,0.5 0.1,0.5 0.2,0.4 0.2,0.5 0.2,0.5 0.1,0.4 0.2,0.5 0.2,0.5 0.1,0.4 0.2,0.5 0.2,0.5 0.2,0.4 0.1,0.5 0.2,0.5 0.2,0.5 0.1,0.4 0.2,0.5 0.2,0.5 0.2,0.4 0.1,0.5 0.2,0.5 0.2,0.5 0.1,0.4 0.2,0.5 0.2,0.5 0.1,0.4 0.2,0.5 0.2,0.5 0.1,0.5 0.2,0.4 0.2,0.5 0.1,0.5 0.2,0.4 0.2,0.5 0.1,0.5 0.2,0.5 0.2,0.4 0.1,0.5 0.2,0.5 0.2,0.4 0.1,0.5 0.2,0.5 0.2,0.5 0.1,0.4 0.2,0.5 0.2,0.5 0.1,0.4 0.2,0.5 0.2,0.5 0.1,0.5 0.2,0.4 0.2,0.5 0.1,0.5 0.2,0.5 0.2,0.4 0.1,0.5 0.2,0.5 0.1,0.4 0.2,0.5 0.2,0.5 0.1,0.5 0.2,0.4 0.1,0.5 0.2,0.5 0.2,0.5 0.1,0.4 0.2,0.5 0.1,0.5 0.2,0.5 0.2,0.4 0.1,0.5 0.2,0.5 0.1,0.5 0.2,0.4 0.2,0.5 0.1,0.5 0.2,0.5 0.1,0.4 0.2,0.5 0.2,0.5 0.1,0.5 0.2,0.4 0.1,0.5 0.2,0.5 0.2,0.4 0.1,0.5 0.2,0.5 0.2,0.5 0.1,0.4 0.2,0.5 0.2,0.5 0.1,0.5 0.2,0.4 0.2,0.5 0.1,0.5 0.2,0.4 0.2,0.5 0.2,0.5 0.1,0.4 0.2,0.5 0.2,0.5 0.2,0.4 0.1,0.5 0.2,0.5 0.2,0.4 0.2,0.5 0.2,0.5 0.1,0.5 0.2,0.4 0.2,0.5 0.2,0.5 0.2,0.4 0.1,0.5 0.2,0.5 0.2,0.4 0.2,0.5 0.2,0.5 0.1,0.4 0.2,0.5 0.2,0.5 0.2,0.4 0.2,0.5 0.1,0.5 0.2,0.4 0.2,0.5 0.2,0.5 0.2,0.4 0.2,0.5 0.1,0.4 0.2,0.5 0.2,0.5 0.2,0.4 0.2,0.5 0.2,0.5 0.1,0.4 0.2,0.5 0.2,0.5 0.2,0.4 0.2,0.5 0.2,0.5 0.1,0.4 0.2,0.5 0.2,0.5 0.2,0.4 0.2,0.5 0.2,0.5 0.2,0.4 0.1,0.5 0.2,0.5 0.2,0.4 0.2,0.5 0.2,0.4 0.2,0.5 0.2,0.5 0.2,0.4 0.1,0.5 0.2,0.5 0.2,0.4 0.2,0.5 0.2,0.4 0.2,0.5 0.2,0.5 0.2,0.4 0.2,0.5 0.2,0.5 0.2,0.4 0.2,0.5 0.1,0.4 0.2,0.5 0.2,0.5 0.2,0.4 0.2,0.5 0.2,0.4 0.2,0.5 0.2,0.5 0.2,0.4 0.2,0.5 0.2,0.4 0.2,0.5 0.2,0.5 0.2,0.4 0.2,0.5 0.2,0.4 0.2,0.5 0.2,0.4 0.2,0.5 0.3,0.5 0.2,0.4 0.2,0.5 0.2,0.4 0.2,0.5 0.2,0.4 0.2,0.5 0.2,0.5 0.2,0.4 0.2,0.5 0.2,0.4 0.2,0.5 0.2,0.4 0.2,0.5 0.2,0.5 0.2,0.4 0.2,0.5 0.2,0.4 0.2,0.5 0.2,0.4 0.2,0.5 0.2,0.4 0.2,0.5 0.2,0.5 0.2,0.4 0.2,0.5 0.2,0.4 0.2,0.5 0.2,0.5 0.2,0.4 0.2,0.5 0.2,0.4 0.2,0.5 0.2,0.5 0.2,0.4 0.2,0.5 0.2,0.4 0.2,0.5 0.2,0.4 0.3,0.5 0.2,0.5 0.2,0.4 0.2,0.5 0.2,0.4 0.2,0.5 0.2,0.4 0.3,0.5 0.2,0.4 0.2,0.4 0.3,0.5 0.2,0.4 0.3,0.5 0.2,0.4 0.3,0.4 0.2,0.5 0.3,0.4 0.2,0.4 0.3,0.4 0.3,0.5 0.2,0.4 0.3,0.4 0.3,0.4 0.2,0.4 0.3,0.5 0.3,0.4 0.3,0.4 0.2,0.4 0.3,0.4 0.3,0.5 0.3,0.4 0.2,0.4 0.3,0.4 0.3,0.4 0.3,0.4 0.3,0.5 0.2,0.4 0.3,0.4 0.3,0.4 0.3,0.4 0.3,0.5 0.2,0.4 0.3,0.4 0.3,0.5 0.3,0.3 0.3,0.5 0.3,0.4 0.2,0.3 0.3,0.5 0.3,0.3 0.3,0.4 0.3,0.4 0.3,0.3 0.3,0.3 0.3,0.7 0.3,0.2 0.3,0.5 0.3,0.7 0.3,0.5 0.3,0.2 0.3,0.3 0.3,0.6 0.3,0.4 0.3,0.3 0.3,0.4 0.3,0.2 0.4,0.2 0.3,0.1 0.3,0.5 0.3,0.3 0.4,0.4 0.3,0.7 0.3,0.2 0.3,0.3 0.4,0.7 0.3,0.1 0.3,0.7 0.3,0.3 0.3,0.5 0.3,0.4 0.3,0.3 0.3,0.6 0.3,0.4 0.3,0.4 0.3,0.3 0.3,0.5 0.3,0.1 0.3,0.8 0.3,0.3 0.3,0.9 0.3,-0.2 0.3,0.5 0.3,0.9 0.4,0 0.3,-0.1 0.4,1 0.3,0 0.4,0.1 0.3,1.2 0.4,-0.2 0.4,0.6 0.3,-0.3 0.4,0.5 0.4,0.6 0.3,0 0.4,0.9 0.4,-0.4 0.4,1 0.4,0.4 0.4,0.1 0.4,-0.2 0.4,-0.3 0.4,1.3 0.4,-0.5 0.4,0.5 0.4,1 0.5,0 0.4,0.8 0.4,0.8 0.5,-0.9 0.5,0.7 0.4,-0.4 0.5,0.5 0.5,0.5 0.5,0.3 0.4,0.3 0.5,-0.9 0.5,0.4 0.5,0.5 0.5,-0.7 0.5,1.1 0.4,0.2 0.5,-1.6 0.5,0.6 0.5,1.8 0.5,-0.5 0.5,-0.6 0.4,0.3 0.5,-0.1 0.5,0.3 0.5,-0.7 0.5,1.3 0.5,-1 0.5,0.3 0.5,0.4 0.4,0.5 0.5,-0.2 0.5,0.2 0.5,0.7 0.4,-0.6 0.5,0.2 0.5,0.6 0.4,0.2 0.5,0 0.4,0.1 0.4,0.6 0.5,0.3 0.4,0.3 0.5,-0.3 0.4,-0.1 0.4,0.4 0.5,1.6 0.4,-0.8 0.5,0.3 0.4,0.3 0.5,-0.1 0.4,0.4 0.4,1 0.5,0.2 0.5,-0.7 0.4,0.4 0.5,0.2 0.4,0.8 0.5,0.1 0.5,0.4 0.4,0.2 0.5,0.5 0.5,-0.5 0.5,0.4 0.4,0.3 0.5,-0.6 0.5,0.6 0.5,-0.7 0.5,0.9 0.5,-0.2 0.4,-1.3 0.5,0.4 0.5,1.2 0.5,0.5 0.5,0.3 0.5,-0.5 0.4,0.6 0.5,-1 0.5,1.4 0.5,-0.4 0.5,-0.4 0.5,1 0.5,-1.4 0.5,1.3 0.4,0.2 0.5,-0.1 0.5,0.4 0.5,0.1 0.5,1.1 0.5,-2.2 0.5,1.2 0.5,0.4 0.5,0.1 0.5,0.4 0.5,-0.6 0.5,-0.4 0.4,0.2 0.5,-0.1 0.5,0.4 0.5,-0.5 0.5,-0.4 0.5,1.6 0.5,-1.2 0.5,0.8 0.5,0.5 0.5,-0.6 0.5,0.8 0.5,-1.1 0.5,0.2 0.5,0.5 0.5,0.7 0.5,-0.7 0.5,0.3 0.5,1 0.5,0.1 0.5,-1.1 0.5,1.1 0.5,0 0.5,-0.6 0.5,0.2 0.5,0.6 0.4,-0.8 0.5,0.9 0.5,-0.5 0.4,0.5 0.5,-0.1 0.4,-0.1 0.5,-0.2 0.5,0.4 0.5,-0.1 0.5,0.3 0.5,0.1 0.5,0.4 0.4,-0.1 0.5,-0.1 0.5,-0.4 0.5,0.1 0.5,0.3 0.4,0.1 0.5,-1.6 0.5,0 0.5,0.2 0.4,-0.3 0.5,0.6 0.5,-0.5 0.5,-0.5 0.4,-0.2 0.5,-0.4 0.5,0.1 0.5,0.8 0.5,-0.9 0.5,0.5 0.5,0.7 0.5,-0.5 0.5,0.7 0.5,-0.4 0.5,-0.7 0.5,0.7 0.5,-0.5 0.5,0.1 0.5,0 0.5,0.5 0.5,-0.3 0.5,-0.7 0.5,0 0.5,-0.4 0.5,0 0.5,0.8 0.5,0.4 0.5,-0.7 0.5,0.8 0.5,-0.4 0.5,0.4 0.5,-1.4 0.5,1.1 0.5,-0.4 0.5,-0.5 0.5,0.3 0.5,0.1 0.5,0 0.5,-0.1 0.5,1.3 0.5,0 0.4,0.6 0.5,0 0.5,-0.6 0.4,0.2 0.5,-0.4 0.5,1 0.5,-0.6 0.4,0 0.5,0.4 0.5,0.8 0.5,-0.4 0.5,-0.3 0.5,2.2 0.5,-0.4 0.5,-0.8 0.5,0.5 0.5,-0.7 0.4,0.3 0.5,0.5 0.5,-0.1 0.5,0.6 0.5,-1 0.5,0.7 0.5,0.2 0.5,-0.3 0.5,0.1 0.5,0.2 0.5,1.4 0.5,-0.8 0.5,-0.9 0.5,1 0.5,-0.5 0.5,0.8 0.4,-1.2 0.5,1.4 0.5,-1 0.5,0.5 0.5,-0.3 0.5,-0.6 0.5,1.3 0.5,-0.1 0.5,-0.3 0.5,0 0.5,0.4 0.5,-1.1 0.5,0.4 0.5,0.5 0.5,-0.5 0.5,0.1 0.4,-0.3 0.5,0.5 0.5,-0.7 0.5,0.5 0.5,-0.5 0.5,-0.1 0.5,-0.2 0.5,0.3 0.5,-0.9 0.5,1.4 0.5,-1.1 0.5,1 0.5,-0.3 0.5,-0.2 0.5,0.4 0.4,0.2 0.5,0.2 0.5,0.3 0.5,-1 0.5,1.5 0.5,-0.8 0.5,0.6 0.4,-0.4 0.5,0.8 0.5,-0.9 0.5,0.3 0.4,0.6 0.5,0 0.5,0 0.5,0.9 0.5,-0.6 0.5,0.3 0.5,0.3 0.5,-0.2 0.5,0.1 0.5,0 0.5,-0.5 0.5,0.4 0.5,-0.2 0.5,-0.2 0.5,-0.1 0.5,-0.7 0.5,1.8 0.4,-1.7 0.5,0.7 0.5,0.3 0.5,0.5 0.5,-1.8 0.5,1 0.5,-0.3 0.5,0.1 0.5,-0.4 0.5,0.4 0.5,-0.3 0.5,0" stroke="#ff00ff"/>
<path d="M57,107.2l0.5,0 0.5,0.1 0.5,0.2 0.3,0.3 0.3,0.4 0.2,0.5 0.3,0.4 0.2,0.5 0.2,0.4 0.2,0.5 0.3,0.4 0.2,0.5 0.2,0.4 0.2,0.5 0.3,0.4 0.2,0.5 0.2,0.4 0.2,0.5 0.2,0.4 0.3,0.5 0.2,0.4 0.2,0.5 0.2,0.4 0.2,0.5 0.2,0.4 0.2,0.5 0.3,0.4 0.2,0.5 0.2,0.4 0.2,0.5 0.2,0.5 0.2,0.4 0.2,0.5 0.2,0.5 0.1,0.4 0.2,0.5 0.2,0.5 0.2,0.4 0.1,0.5 0.2,0.5 0.2,0.4 0.2,0.5 0.2,0.5 0.1,0.4 0.2,0.5 0.2,0.5 0.1,0.5 0.2,0.4 0.2,0.5 0.2,0.5 0.1,0.4 0.2,0.5 0.2,0.5 0.1,0.5 0.2,0.4 0.1,0.5 0.2,0.5 0.2,0.5 0.1,0.4 0.2,0.5 0.1,0.5 0.2,0.5 0.1,0.5 0.2,0.4 0.1,0.5 0.1,0.5 0.2,0.5 0.1,0.5 0.1,0.5 0.1,0.4 0.2,0.5 0.1,0.5 0.1,0.5 0.1,0.5 0.1,0.5 0.1,0.5 0.1,0.5 0.1,0.5 0.1,0.4 0.2,0.5 0.1,0.5 0.1,0.5 0.1,0.5 0.1,0.5 0.1,0.5 0.1,0.5 0.1,0.5 0.2,0.4 0.1,0.5 0.1,0.5 0.1,0.5 0.1,0.5 0.1,0.5 0.2,0.5 0.1,0.5 0.1,0.4 0.1,0.5 0.1,0.5 0.2,0.5 0.1,0.5 0.1,0.5 0.1,0.5 0.1,0.4 0.2,0.5 0.1,0.5 0.1,0.5 0.2,0.5 0.1,0.5 0.1,0.4 0.2,0.5 0.1,0.5 0.2,0.5 0.1,0.5 0.2,0.4 0.2,0.5 0.1,0.5 0.2,0.5 0.2,0.4 0.2,0.5 0.1,0.5 0.2,0.4 0.2,0.5 0.2,0.5 0.1,0.4 0.2,0.5 0.2,0.5 0.2,0.4 0.1,0.5 0.2,0.5 0.2,0.5 0.1,0.4 0.2,0.5 0.2,0.5 0.1,0.5 0.2,0.4 0.1,0.5 0.1,0.5 0.2,0.5 0.1,0.5 0.1,0.5 0.2,0.4 0.1,0.5 0.1,0.5 0.1,0.5 0.2,0.5 0.1,0.5 0.2,0.4 0.1,0.5 0.1,0.5 0.2,0.5 0.1,0.5 0.1,0.5 0.2,0.4 0.1,0.5 0.1,0.5 0.2,0.5 0.1,0.5 0.1,0.5 0.2,0.4 0.1,0.5 0.1,0.5 0.2,0.5 0.1,0.5 0.1,0.5 0.2,0.4 0.1,0.5 0.1,0.5 0.2,0.5 0.1,0.5 0.1,0.5 0.2,0.4 0.1,0.5 0.1,0.5 0.2,0.5 0.1,0.5 0.1,0.5 0.2,0.4 0.1,0.5 0.1,0.5 0.2,0.5 0.1,0.5 0.1,0.5 0.2,0.4 0.1,0.5 0.1,0.5 0.2,0.5 0.1,0.5 0.1,0.5 0.2,0.4 0.1,0.5 0.2,0.5 0.1,0.5 0.1,0.5 0.2,0.4 0.1,0.5 0.1,0.5 0.2,0.5 0.1,0.5 0.2,0.5 0.1,0.4 0.1,0.5 0.2,0.5 0.1,0.5 0.2,0.5 0.1,0.4 0.1,0.5 0.2,0.5 0.1,0.5 0.2,0.5 0.1,0.4 0.2,0.5 0.1,0.5 0.2,0.5 0.1,0.5 0.2,0.4 0.1,0.5 0.2,0.5 0.1,0.5 0.2,0.4 0.1,0.5 0.2,0.5 0.2,0.5 0.1,0.4 0.2,0.5 0.2,0.5 0.1,0.5 0.2,0.4 0.2,0.5 0.1,0.5 0.2,0.4 0.2,0.5 0.2,0.5 0.1,0.5 0.2,0.4 0.2,0.5 0.2,0.5 0.1,0.4 0.2,0.5 0.2,0.5 0.2,0.4 0.2,0.5 0.1,0.5 0.2,0.5 0.2,0.4 0.2,0.5 0.2,0.4 0.2,0.5 0.2,0.5 0.2,0.4 0.1,0.5 0.2,0.5 0.2,0.4 0.1,0.5 0.2,0.5 0.1,0.5 0.2,0.5 0.1,0.4 0.2,0.5 0.2,0.5 0.1,0.5 0.2,0.4 0.1,0.5 0.2,0.5 0.2,0.4 0.2,0.5 0.2,0.5 0.2,0.4 0.2,0.5 0.2,0.4 0.3,0.5 0.2,0.4 0.3,0.4 0.2,0.5 0.2,0.4 0.3,0.5 0.2,0.4 0.2,0.5 0.2,0.4 0.2,0.5 0.2,0.5 0.2,0.4 0.2,0.5 0.2,0.4 0.2,0.5 0.1,0.5 0.2,0.5 0.2,0.4 0.2,0.5 0.2,0.4 0.2,0.5 0.2,0.4 0.2,0.5 0.2,0.5 0.2,0.5 0.2,0.4 0.2,0.5 0.2,0.4 0.2,0.5 0.2,0.4 0.2,0.5 0.2,0.5 0.2,0.4 0.2,0.5 0.2,0.4 0.2,0.6 0.2,0.4 0.2,0.5 0.2,0.4 0.2,0.5 0.3,0.4 0.2,0.5 0.2,0.3 0.2,0.5 0.2,0.5 0.2,0.3 0.3,0.5 0.2,0.4 0.2,0.7 0.2,0.3 0.3,0.4 0.2,0.8 0.2,0.3 0.2,0.4 0.3,0.3 0.2,0.5 0.2,0.4 0.3,0.5 0.2,0.4 0.3,0.5 0.2,0.5 0.3,0.3 0.2,0.4 0.3,0.3 0.2,0.6 0.3,0.4 0.2,0.5 0.3,0.1 0.3,1.1 0.2,0.1 0.3,0.4 0.3,0.4 0.2,0.3 0.3,0.6 0.3,0.2 0.3,0.5 0.2,0.5 0.3,0.7 0.3,0 0.3,0.3 0.3,0.2 0.3,0.4 0.3,0.8 0.2,0.5 0.3,0.4 0.3,0.4 0.3,0.4 0.3,0.6 0.3,0.4 0.4,-0.1 0.3,0.9 0.3,0.4 0.3,-0.1 0.3,0.5 0.3,0.3 0.3,0.2 0.4,0.9 0.3,0 0.3,0.7 0.3,0.1 0.4,0.4 0.3,0.8 0.4,0.2 0.3,0.4 0.4,0.5 0.3,0.6 0.4,0.4 0.3,-0.3 0.4,1 0.4,-0.1 0.4,0.1 0.3,0.8 0.4,0.2 0.4,0 0.4,0.4 0.4,-0.2 0.4,1 0.4,0.3 0.5,0.2 0.4,1 0.4,-0.4 0.4,0.8 0.5,0.2 0.4,-0.4 0.5,0.1 0.4,0.3 0.5,0.6 0.5,0.3 0.4,-0.3 0.5,0.1 0.5,1.3 0.5,-0.9 0.5,0.2 0.5,0.7 0.5,-0.7 0.4,-1 0.5,1.1 0.5,-0.4 0.5,0.9 0.5,-1.3 0.5,1 0.5,1 0.5,0.3 0.5,-0.4 0.5,0.1 0.5,-0.3 0.5,-0.5 0.5,-0.4 0.5,0.8 0.5,0.2 0.5,-0.3 0.5,-0.3 0.5,-0.3 0.5,1 0.5,1 0.5,-0.7 0.5,-0.6 0.5,0.1 0.5,0.6 0.5,-0.4 0.5,0.4 0.5,0.1 0.4,0.3 0.5,1.5 0.5,-1.4 0.5,0.3 0.5,0.4 0.5,-0.9 0.5,0 0.5,0.6 0.5,0.4 0.5,0.1 0.5,0.4 0.5,-0.1 0.5,0.1 0.5,0.9 0.5,-1.2 0.5,0.4 0.5,-0.4 0.5,0.1 0.5,-0.2 0.5,1 0.5,-0.4 0.5,0.7 0.5,-1.1 0.5,0.7 0.5,-1.6 0.5,1 0.5,0.1 0.5,0 0.5,-0.6 0.5,0.5 0.5,-0.5 0.5,-0.1 0.5,0.7 0.5,-0.5 0.5,0 0.5,0.5 0.5,-0.5 0.5,-0.3 0.5,0.4 0.4,-0.1 0.5,-0.6 0.5,1.1 0.5,0.4 0.5,-0.5 0.5,0 0.4,1 0.5,-0.5 0.5,0.6 0.5,0.5 0.5,0.5 0.4,-0.3 0.5,0.5 0.5,0.2 0.5,-0.9 0.5,1 0.5,0 0.5,-1.7 0.5,0.7 0.5,1 0.4,0.7 0.5,-0.8 0.5,-0.2 0.5,-0.2 0.5,0.7 0.5,-0.2 0.5,-0.6 0.5,0.7 0.5,-0.3 0.5,0.7 0.5,-0.9 0.5,0.8 0.5,0.7 0.5,-0.8 0.5,-0.2 0.5,0.1 0.5,0.8 0.5,-0.3 0.5,0.7 0.5,-1.2 0.5,0.7 0.5,0.5 0.5,-0.8 0.5,-0.5 0.5,-0.8 0.5,1 0.5,0 0.5,0.1 0.5,-1.4 0.5,0.4 0.5,0.8 0.5,-0.1 0.5,1 0.5,-0.6 0.5,0.1 0.5,-0.7 0.5,-0.2 0.5,1.4 0.5,-0.6 0.5,-0.3 0.5,0.3 0.5,-1.3 0.5,1.5 0.5,-1.5 0.5,-0.8 0.5,0.3 0.5,0.7 0.5,-0.1 0.5,0.7 0.5,0 0.5,-0.4 0.4,0 0.5,-1.6 0.5,0.7 0.5,0.2 0.5,-0.2 0.5,0 0.5,-0.3 0.5,0 0.5,-0.4 0.5,0.7 0.5,0.7 0.5,0 0.5,-1.2 0.5,-0.3 0.5,0 0.5,0.2 0.5,0.4 0.5,0.4 0.5,0.2 0.5,-1.6 0.5,0.5 0.5,0.4 0.5,0.1 0.5,0.6 0.5,0.7 0.5,-1.5 0.5,0.5 0.5,-0.2 0.5,-0.1 0.5,0.1 0.5,0.5 0.5,0.1 0.5,-0.3 0.5,0.9 0.5,0.1 0.5,-0.8 0.5,0.5 0.5,-0.2 0.4,0.1 0.5,0.4 0.5,0.9 0.5,-0.9 0.5,1 0.5,-1 0.5,1 0.5,0.5 0.5,-1.4 0.5,1.1 0.5,-0.1 0.5,-0.1 0.5,0.1 0.5,-0.4 0.5,0.5 0.5,0.1 0.5,0 0.5,0 0.5,-0.2 0.5,0.6 0.5,0.6 0.5,0.1 0.5,-0.5 0.5,-0.9 0.5,0.6 0.5,0 0.5,-0.2 0.5,-0.9 0.5,1.1 0.5,0.2 0.5,-1 0.5,0.5 0.5,0 0.5,0.5 0.5,0.5 0.5,-1.7 0.5,1.8 0.5,-0.1 0.5,-1 0.5,1.3 0.5,-0.2 0.5,-0.3 0.5,-0.4 0.5,-0.7 0.5,1 0.5,-0.4 0.5,0.3 0.5,0.2 0.5,-0.3 0.5,0.2 0.5,0.2 0.2,0 0,-0.5 0,-0.5 0,-0.5 0,-0.5 0,-0.5 0,-0.5 0,-0.5 0,-0.5 0,-0.5 0.1,-0.5 0,-0.5 0,-0.5 0,-0.5 0,-0.5 0,-0.5 0,-0.5 0,-0.5 0,-0.5 0,-0.5 0,-0.5 0,-0.5 0,-0.5 0,-0.5 0,-0.5 0,-0.5 0,-0.5 0,-0.5 0,-0.5 0,-0.5 0,-0.5 0.1,-0.5 0,-0.5 0,-0.5 0,-0.5 0,-0.5 0,-0.5 0,-0.5 0,-0.5 0,-0.5 0,-0.5 0,-0.5 0,-0.5 0,-0.5 0,-0.5 0,-0.5 0,-0.5 0,-0.5 0,-0.5 0,-0.5 0,-0.5 0.1,-0.5 0,-0.5 0,-0.5 0,-0.5 0,-0.5 0,-0.5 0,-0.5 0,-0.5 0,-0.5 0,-0.5 0,-0.5 0,-0.5 0,-0.5 0,-0.5 0,-0.5 0,-0.5 0,-0.5 0.1,-0.5 0,-0.5 0,-0.5 0,-0.5 0,-0.5 0,-0.5 0,-0.5 0,-0.5 0,-0.5 0,-0.5 0,-0.5 0,-0.5 0,-0.5 0,-0.5 0,-0.5 0.1,-0.5 0,-0.5 0,-0.5 0,-0.5 0,-0.5 0,-0.5 0,-0.5 0,-0.5 0,-0.5 0,-0.5 0,-0.5 0,-0.5 0,-0.5 0.1,-0.5 0,-0.5 0,-0.5 0,-0.5 0,-0.5 0,-0.5 0,-0.5 0,-0.5 0,-0.5 0,-0.5 0,-0.5 0,-0.5 0.1,-0.5 0,-0.5 0,-0.5 0,-0.5 0,-0.5 0,-0.5 0,-0.5 0,-0.5 0,-0.5 0,-0.5 0,-0.5 0.1,-0.5 0,-0.5 0,-0.5 0,-0.5 0,-0.5 0,-0.5 0,-0.5 0,-0.5 0,-0.5 0,-0.5 0,-0.5 0.1,-0.5 0,-0.5 0,-0.5 0,-0.5 0,-0.5 0,-0.5 0,-0.5 0,-0.5 0,-0.5 0,-0.5 0.1,-0.5 0,-0.5 0,-0.5 0,-0.5 0,-0.5 0,-0.5 0,-0.6 0,-0.5 0,-0.5 0,-0.5 0.1,-0.5 0,-0.5 0,-0.5 0,-0.5 0,-0.5 0,-0.5 0,-0.5 0,-0.5 0,-0.5 0,-0.5 0.1,-0.5 0,-0.5 0,-0.5 0,-0.5 0,-0.5 0,-0.5 0,-0.5 0,-0.5 0,-0.5 0.1,-0.5 0,-0.5 0,-0.5 0,-0.5 0,-0.5 0,-0.5 0,-0.5 0,-0.5 0.1,-0.5 0,-0.5 0,-0.5 0,-0.5 0,-0.5 0,-0.5 0,-0.5 0,-0.5 0,-0.5 0.1,-0.5 0,-0.5 0,-0.5 0,-0.5 0,-0.5 0,-0.5 0,-0.5 0,-0.5 0.1,-0.5 0,-0.5 0,-0.5 0,-0.5 0,-0.5 0,-0.5 0,-0.5 0.1,-0.5 0,-0.5 0,-0.5 0,-0.5 0,-0.5 0,-0.5 0,-0.5 0,-0.5 0.1,-0.5 0,-0.5 0,-0.5 0,-0.5 0,-0.5 0,-0.5 0,-0.5 0.1,-0.5 0,-0.5 0,-0.5 0,-0.5 0,-0.5 0,-0.5 0,-0.5 0.1,-0.5 0,-0.5 0,-0.5 0,-0.5 0,-0.5 0,-0.5 0,-0.5 0.1,-0.5 0,-0.5 0,-0.5 0,-0.5 0,-0.5 0,-0.5 0.1,-0.5 0,-0.5 0,-0.5 0,-0.5 0,-0.5 0,-0.5 0,-0.5 0.1,-0.5 0,-0.5 0,-0.5 0,-0.5 0,-0.5 0,-0.5 0,-0.5 0.1,-0.5 0,-0.5 0,-0.5 0,-0.5 0,-0.5 0,-0.5 0.1,-0.5 0,-0.5 0,-0.5 0,-0.5 0,-0.5 0,-0.5 0.1,-0.5 0,-0.5 0,-0.5 0,-0.5 0,-0.5 0,-0.5 0.1,-0.5 0,-0.5 0,-0.5 0,-0.5 0,-0.5 0,-0.5 0,-0.5 0.1,-0.5 0,-0.5 0,-0.5 0,-0.5 0,-0.5 0,-0.5 0.1,-0.5 0,-0.5 0,-0.5 0,-0.5 0,-0.5 0,-0.5 0.1,-0.5 0,-0.5 0,-0.5 0,-0.5 0,-0.5 0,-0.5 0.1,-0.5 0,-0.5 0,-0.5 0,-0.5 0,-0.5 0,-0.5 0.1,-0.5 0,-0.5 0,-0.5 0,-0.5 0,-0.5 0,-0.5 0.1,-0.5 0,-0.5 0,-0.5 0,-0.5 0,-0.5 0,-0.5 0.1,-0.5 0,-0.5 0,-0.5 0,-0.5 0,-0.5 0,-0.5 0.1,-0.5 0,-0.5 0,-0.5 0,-0.5 0,-0.5 0,-0.5 0.1,-0.5 0,-0.5 0,-0.5 0,-0.5 0,-0.5 0,-0.5 0.1,-0.5 0,-0.5 0,-0.5 0,-0.5 0,-0.5 0,-0.5 0.1,-0.5 0,-0.5 0,-0.5 0,-0.5 0,-0.5 0.1,-0.5 0,-0.5 0,-0.5 0,-0.5 0,-0.5 0.1,-0.5 0,-0.5 0,-0.5 0,-0.5 0,-0.5 0.1,-0.5 0,-0.5 0,-0.5 0,-0.5 0,-0.5 0.1,-0.5 0,-0.5 0,-0.5 0,-0.5 0,-0.5 0.1,-0.5 0,-0.5 0,-0.5 0,-0.5 0.1,-0.5 0,-0.5 0,-0.5 0,-0.5 0.1,-0.5 0,-0.5 0,-0.5 0,-0.5 0.1,-0.5 0,-0.5 0,-0.5 0.1,-0.5 0,-0.5 0,-0.5 0.1,-0.5 0,-0.5 0,-0.5 0.1,-0.5 0,-0.5 0,-0.5 0.1,-0.5 0,-0.5 0,-0.5 0.1,-0.5 0,-0.5 0,-0.5 0.1,-0.5 0,-0.5 0,-0.5 0.1,-0.5 0,-0.5 0.1,-0.5 0,-0.5 0,-0.5 0.1,-0.5 0,-0.5 0.1,-0.5 0,-0.5 0.1,-0.5 0,-0.5 0,-0.4 0.1,-0.5 0,-0.5 0.1,-0.5 0,-0.5 0.1,-0.5 0,-0.5 0,-0.5 0.1,-0.5 0,-0.5 0.1,-0.5 0,-0.5 0.1,-0.5 0,-0.5 0.1,-0.5 0,-0.5 0.1,-0.5 0,-0.5 0,-0.5 0.1,-0.5 0,-0.5 0.1,-0.5 0,-0.5 0.1,-0.5 0,-0.5 0.1,-0.5 0,-0.5 0.1,-0.5 0,-0.5 0,-0.5 0.1,-0.5 0.1,-0.5 0,-0.5 0.1,-0.5 0,-0.5 0.1,-0.5 0,-0.5 0.1,-0.5 0,-0.5 0.1,-0.5 0,-0.5 0.1,-0.5 0,-0.5 0.1,-0.5 0,-0.5 0.1,-0.5 0.1,-0.5 0,-0.5 0.1,-0.5 0,-0.5 0.1,-0.4 0,-0.5 0.1,-0.5 0,-0.5 0.1,-0.5 0,-0.5 0.1,-0.5 0,-0.5 0.1,-0.5 0,-0.5 0.1,-0.5 0,-0.5 0.1,-0.5 0,-0.5 0.1,-0.5 0,-0.5 0.1,-0.5 0,-0.5 0.1,-0.5 0.1,-0.5 0,-0.5 0.1,-0.5 0.1,-0.5 0.1,-0.5 0.1,-0.5 0.1,-0.5 0.1,-0.5 0.1,-0.4 0.1,-0.5 0.1,-0.5 0.1,-0.5 0.1,-0.5 0.1,-0.5 0.1,-0.5 0.1,-0.5 0.1,-0.5 0.1,-0.4 0.1,-0.5 0.1,-0.5 0.1,-0.5 0.1,-0.5 0.1,-0.5 0.1,-0.5 0.1,-0.5 0.1,-0.5 0.1,-0.5 0,-0.5 0.1,-0.5 0.1,-0.4 0.1,-0.5 0.1,-0.5 0.1,-0.5 0.1,-0.5 0.1,-0.5 0.1,-0.5 0,-0.5 0.1,-0.5 0.1,-0.5 0.1,-0.5 0,-0.5 0.1,-0.5 0.1,-0.5 0.1,-0.5 0,-0.5 0.1,-0.4 0.1,-0.5 0.1,-0.5 0,-0.5 0.1,-0.5 0.1,-0.5 0.1,-0.5 0.1,-0.5 0.1,-0.5 0.1,-0.5 0.1,-0.5 0.1,-0.5 0.1,-0.5 0.1,-0.5 0.1,-0.4 0.1,-0.5 0.1,-0.5 0.1,-0.5 0.1,-0.5 0.1,-0.5 0.1,-0.5 0.1,-0.5 0.2,-0.4 0.1,-0.5 0.1,-0.5 0.2,-0.5 0.1,-0.5 0.2,-0.4 0.2,-0.5 0.2,-0.5 0.2,-0.4 0.2,-0.5 0.3,-0.4 0.2,-0.4 0.3,-0.4 0.3,-0.4 0.3,-0.4 0.3,-0.4 0.4,-0.4 0.3,-0.3 0.4,-0.4 0.4,-0.3 0.4,-0.3 0.4,-0.2 0.5,-0.2 0.5,-0.2 0.4,-0.1 0.5,0 0.5,0.1 0.5,0.2 0.5,0.1 0.5,0.2 0.4,0.2 0.5,0.3 0.4,0.2 0.4,0.3 0.4,0.3 0.3,0.4 0.4,0.3 0.3,0.4 0.4,0.4 0.3,0.4 0.3,0.4 0.3,0.4 0.3,0.4 0.3,0.4 0.3,0.4 0.2,0.4 0.3,0.4 0.3,0.4 0.3,0.4 0.2,0.5 0.3,0.4 0.3,0.4 0.2,0.4 0.3,0.5 0.3,0.4 0.2,0.4 0.3,0.4 0.3,0.5 0.2,0.4 0.3,0.4 0.3,0.4 0.2,0.4 0.3,0.5 0.3,0.4 0.2,0.4 0.3,0.4 0.3,0.5 0.3,0.4 0.2,0.4 0.3,0.4 0.3,0.4 0.2,0.5 0.3,0.4 0.2,0.4 0.3,0.5 0.2,0.4 0.3,0.4 0.2,0.5 0.2,0.4 0.2,0.5 0.3,0.4 0.2,0.5 0.2,0.4 0.2,0.5 0.2,0.4 0.2,0.5 0.2,0.4 0.2,0.5 0.2,0.5 0.2,0.4 0.3,0.5 0.2,0.4 0.2,0.5 0.2,0.4 0.2,0.5 0.1,0.5 0.2,0.4 0.2,0.5 0.2,0.4 0.2,0.5 0.2,0.5 0.2,0.4 0.2,0.5 0.2,0.5 0.2,0.4 0.2,0.5 0.1,0.5 0.2,0.4 0.2,0.5 0.2,0.5 0.2,0.4 0.1,0.5 0.2,0.5 0.2,0.4 0.2,0.5 0.1,0.5 0.2,0.4 0.2,0.5 0.1,0.5 0.2,0.5 0.2,0.4 0.2,0.5 0.1,0.5 0.2,0.4 0.2,0.5 0.1,0.5 0.2,0.4 0.2,0.5 0.2,0.5 0.1,0.5 0.2,0.4 0.2,0.5 0.1,0.5 0.2,0.4 0.2,0.5 0.1,0.5 0.2,0.4 0.2,0.5 0.2,0.5 0.1,0.5 0.2,0.4 0.2,0.5 0.1,0.5 0.2,0.4 0.2,0.5 0.1,0.5 0.2,0.5 0.1,0.4 0.2,0.5 0.2,0.5 0.1,0.5 0.2,0.4 0.1,0.5 0.2,0.5 0.1,0.5 0.2,0.4 0.1,0.5 0.2,0.5 0.1,0.5 0.2,0.5 0.1,0.4 0.2,0.5 0.1,0.5 0.1,0.5 0.2,0.5 0.1,0.4 0.2,0.5 0.1,0.5 0.2,0.5 0.1,0.4 0.2,0.5 0.1,0.5 0.2,0.5 0.1,0.5 0.2,0.4 0.1,0.5 0.2,0.5 0.1,0.5 0.2,0.4 0.1,0.5 0.2,0.5 0.1,0.5 0.2,0.5 0.1,0.4 0.2,0.5 0.1,0.5 0.2,0.5 0.2,0.4 0.1,0.5 0.2,0.5 0.1,0.5 0.2,0.4 0.1,0.5 0.2,0.5 0.1,0.5 0.2,0.4 0.1,0.5 0.2,0.5 0.1,0.5 0.2,0.5 0.1,0.4 0.2,0.5 0.1,0.5 0.2,0.5 0.1,0.4 0.2,0.5 0.1,0.5 0.2,0.5 0.2,0.4 0.1,0.5 0.2,0.5 0.1,0.5 0.2,0.5 0.1,0.4 0.2,0.5 0.1,0.5 0.2,0.5 0.1,0.4 0.1,0.5 0.2,0.5 0.1,0.5 0.2,0.5 0.1,0.4 0.2,0.5 0.1,0.5 0.2,0.5 0.1,0.4 0.2,0.5 0.1,0.5 0.2,0.5 0.1,0.5 0.2,0.4 0.1,0.5 0.2,0.5 0.1,0.5 0.2,0.4 0.1,0.5 0.1,0.5 0.2,0.5 0.1,0.5 0.2,0.4 0.1,0.5 0.2,0.5 0.1,0.5 0.1,0.5 0.2,0.4 0.1,0.5 0.2,0.5 0.1,0.5 0.2,0.5 0.1,0.4 0.1,0.5 0.2,0.5 0.1,0.5 0.1,0.5 0.2,0.4 0.1,0.5 0.1,0.5 0.2,0.5 0.1,0.5 0.1,0.5 0.2,0.4 0.1,0.5 0.1,0.5 0.2,0.5 0.1,0.5 0.1,0.5 0.1,0.4 0.2,0.5 0.1,0.5 0.1,0.5 0.1,0.5 0.2,0.5 0.1,0.5 0.1,0.4 0.1,0.5 0.2,0.5 0.1,0.5 0.1,0.5 0.1,0.5 0.1,0.4 0.2,0.5 0.1,0.5 0.1,0.5 0.1,0.5 0.1,0.5 0.2,0.5 0.1,0.4 0.1,0.5 0.1,0.5 0.1,0.5 0.2,0.5 0.1,0.5 0.1,0.5 0.1,0.4 0.1,0.5 0.2,0.5 0.1,0.5 0.1,0.5 0.1,0.5 0.2,0.5 0.1,0.4 0.1,0.5 0.1,0.5 0.1,0.5 0.2,0.5 0.1,0.5 0.1,0.5 0.1,0.4 0.2,0.5 0.1,0.5 0.1,0.5 0.1,0.5 0.2,0.5 0.1,0.4 0.1,0.5 0.2,0.5 0.1,0.5 0.1,0.5 0.1,0.5 0.2,0.4 0.1,0.5 0.1,0.5 0.2,0.5 0.1,0.5 0.1,0.5 0.1,0.4 0.2,0.5 0.1,0.5 0.1,0.5 0.2,0.5 0.1,0.5 0.1,0.4 0.2,0.5 0.1,0.5 0.1,0.5 0.2,0.5 0.1,0.5 0.1,0.4 0.2,0.5 0.1,0.5 0.1,0.5 0.2,0.5 0.1,0.5 0.1,0.4 0.2,0.5 0.1,0.5 0.2,0.5 0.1,0.5 0.1,0.4 0.2,0.5 0.1,0.5 0.2,0.5 0.1,0.5 0.1,0.4 0.2,0.5 0.1,0.5 0.2,0.5 0.1,0.5 0.1,0.4 0.2,0.5 0.1,0.5 0.1,0.5 0.2,0.5 0.1,0.4 0.2,0.5 0.1,0.5 0.1,0.5 0.2,0.5 0.1,0.5 0.1,0.4 0.2,0.5 0.1,0.5 0.2,0.5 0.1,0.5 0.2,0.4 0.1,0.5 0.1,0.5 0.2,0.5 0.1,0.5 0.2,0.4 0.1,0.5 0.2,0.5 0.1,0.5 0.2,0.4 0.1,0.5 0.2,0.5 0.1,0.5 0.2,0.5 0.1,0.4 0.2,0.5 0.1,0.5 0.2,0.5 0.1,0.4 0.2,0.5 0.1,0.5 0.2,0.5 0.1,0.4 0.2,0.5 0.1,0.5 0.2,0.5 0.2,0.4 0.1,0.5 0.2,0.5 0.1,0.5 0.2,0.4 0.1,0.5 0.2,0.5 0.2,0.5 0.1,0.4 0.2,0.5 0.1,0.5 0.2,0.5 0.2,0.4 0.1,0.5 0.2,0.5 0.1,0.5 0.2,0.4 0.2,0.5 0.1,0.5 0.2,0.5 0.1,0.4 0.2,0.5 0.2,0.5 0.1,0.5 0.2,0.4 0.1,0.5 0.2,0.5 0.2,0.4 0.1,0.5 0.2,0.5 0.2,0.5 0.1,0.4 0.2,0.5 0.2,0.5 0.1,0.5 0.2,0.4 0.2,0.5 0.1,0.5 0.2,0.4 0.1,0.5 0.2,0.5 0.2,0.5 0.1,0.4 0.2,0.5 0.2,0.5 0.1,0.4 0.2,0.5 0.2,0.5 0.1,0.5 0.2,0.4 0.2,0.5 0.1,0.5 0.2,0.4 0.2,0.5 0.2,0.5 0.1,0.5 0.2,0.4 0.2,0.5 0.1,0.5 0.2,0.4 0.2,0.5 0.1,0.5 0.2,0.5 0.2,0.4 0.2,0.5 0.1,0.5 0.2,0.4 0.2,0.5 0.1,0.5 0.2,0.4 0.2,0.5 0.2,0.5 0.2,0.4 0.1,0.5 0.2,0.5 0.2,0.4 0.2,0.5 0.2,0.5 0.2,0.4 0.2,0.5 0.2,0.4 0.2,0.5 0.2,0.5 0.2,0.4 0.2,0.5 0.2,0.4 0.2,0.5 0.2,0.5 0.2,0.4 0.2,0.5 0.2,0.4 0.2,0.5 0.2,0.5 0.2,0.4 0.2,0.5 0.2,0.4 0.2,0.5 0.2,0.5 0.2,0.4 0.2,0.5 0.2,0.4 0.2,0.5 0.2,0.4 0.2,0.5 0.2,0.4 0.3,0.5 0.2,0.4 0.2,0.5 0.3,0.4 0.2,0.4 0.2,0.5 0.3,0.4 0.2,0.5 0.3,0.4 0.2,0.4 0.3,0.5 0.3,0.4 0.2,0.4 0.3,0.4 0.3,0.5 0.2,0.4 0.3,0.4 0.3,0.4 0.3,0.3 0.2,0.6 0.3,0.3 0.3,0.4 0.3,0.5 0.3,0.5 0.3,0.3 0.3,0.5 0.2,0.3 0.3,0.3 0.3,0.5 0.3,0.4 0.3,0.4 0.3,0.5 0.3,0.1 0.3,0.7 0.3,0.4 0.3,0.3 0.3,0.4 0.3,0.6 0.3,0 0.2,0.8 0.3,0.6 0.3,0.1 0.3,0.5 0.3,0.2 0.4,0.4 0.3,0.6 0.3,0.5 0.3,0 0.3,0.3 0.3,0.9 0.3,0.2 0.3,0.2 0.3,0.5 0.4,0.5 0.3,0.5 0.3,0.5 0.3,0 0.4,0.5 0.3,0.1 0.3,0.3 0.3,0.5 0.4,0.9 0.3,0.5 0.4,0.3 0.3,0.1 0.3,0.2 0.4,0.7 0.3,0.3 0.4,0.3 0.3,0.1 0.4,0.4 0.3,0.1 0.4,0.7 0.3,0.4 0.4,0.5 0.3,0.2 0.4,0.6 0.4,-0.2 0.3,0.1 0.4,1.1 0.3,0.1 0.4,0.6 0.4,-0.4 0.3,0.7 0.4,-0.1 0.3,0.6 0.4,-0.8 0.4,1.5 0.3,0.4 0.4,0.3 0.4,0.3 0.4,1.3 0.3,0.2 0.4,0.2 0.4,0.5 0.4,0.5 0.4,0.1 0.4,-0.2 0.4,-0.7 0.4,0 0.5,0.9 0.4,0 0.4,1.2 0.4,-0.5 0.4,1.4 0.4,-0.5 0.5,-0.1 0.4,0.6 0.4,0.9 0.4,0.1 0.4,-0.2 0.5,-0.1 0.4,0.2 0.5,0.8 0.4,1.4 0.5,-0.2 0.4,-0.3 0.5,-0.3 0.5,0.8 0.4,0.6 0.5,-0.1 0.5,-0.4 0.4,-0.4 0.5,1 0.5,-0.8 0.5,0.8 0.5,-1.2 0.4,1.2 0.5,0 0.5,0.1 0.5,1.3 0.5,-1.5 0.5,0 0.5,1.1 0.5,0.5 0.5,-0.6 0.5,1.1 0.5,-0.6 0.5,-1.1 0.5,0.6 0.5,0.7 0.5,-0.9 0.5,0.1 0.5,0.7 0.5,0.7 0.5,-0.8 0.5,-0.8 0.5,0.7 0.5,-0.6 0.5,0.6 0.5,-0.7 0.5,0.9 0.5,-0.4 0.5,1 0.5,-0.8 0.5,-0.1 0.5,0.3 0.5,-1.2 0.5,-1.1 0.5,0.4 0.5,0.2 0.5,1.2 0.5,0.6 0.5,-0.8 0.5,1.3 0.5,-0.4 0.5,-0.3 0.5,0.5 0.4,-0.8 0.5,0.2 0.5,1 0.5,-0.6 0.5,0.7 0.4,-0.3 0.5,0.5 0.5,-0.9 0.5,0.9 0.5,-0.4 0.4,-0.2 0.5,2 0.5,-2.2 0.5,1.2 0.5,0.3 0.4,1 0.5,-1 0.5,0.9 0.5,-0.1 0.5,-0.2 0.5,0.2 0.5,-0.2 0.5,0.1 0.5,1.2 0.5,-0.9 0.5,0.7 0.5,-0.8 0.5,-0.1 0.5,0.7 0.5,-0.7 0.5,-0.3 0.5,0.8 0.5,0.4 0.5,-0.2 0.5,0.4 0.5,-0.5 0.5,-0.6 0.5,1.5 0.5,-0.2 0.5,0.6 0.5,0.4 0.4,0.1 0.5,-0.7 0.5,-0.3 0.5,-0.2 0.5,0.8 0.5,-0.6 0.5,-0.6 0.5,-0.6 0.5,0.5 0.4,0.7 0.5,0.4 0.5,0.6 0.5,0.6 0.5,0.7 0.5,-0.4 0.5,-0.3 0.5,0 0.5,0.5 0.5,0.3 0.5,-1.6 0.5,0.1 0.5,1 0.5,0 0.5,-0.7 0.5,0 0.5,-0.6 0.5,0.6 0.5,0.7 0.5,-0.8 0.5,0.7 0.5,1.1 0.5,-0.5 0.5,-0.3 0.5,0.5 0.5,-0.4 0.5,-0.4 0.5,0.4 0.5,-0.8 0.5,0.4 0.4,-0.4 0.5,0 0.5,0.2 0.4,0.7 0.5,0.6 0.4,0.8 0.4,-1.3 0.4,1.1 0.5,-0.4 0.4,-0.6 0.5,0.8 0.5,0.3 0.5,1.1 0.5,-0.4 0.5,-0.9 0.5,0.1 0.5,0.4 0.4,-0.3 0.5,-0.1 0.4,-0.7 0.5,-0.2 0.4,0.5 0.5,-0.3 0.4,-0.6 0.5,-0.2 0.4,0.3 0.5,-0.2 0.4,-1.3 0.5,0.8 0.5,-0.2 0.5,-0.7 0.5,0.8 0.5,-0.6 0.5,0.3 0.5,-0.9 0.5,0.1 0.5,0.6 0.5,0.1 0.5,-0.3 0.5,-0.2 0.5,0.9 0.5,-0.8 0.5,0.4 0.5,-0.1 0.5,0 0.5,0.4 0.5,-0.3 0.5,0.2 0.5,0.1 0.5,-1.6 0.5,1.2 0.5,-0.7 0.5,0.1 0.5,-0.2 0.5,0.5 0.5,-1 0.5,0 0.5,0.4 0.5,0 0.5,0.3 0.5,0.1 0.5,0.1 0.5,0.7 0.4,0.2 0.5,-0.1 0.5,1 0.5,-1.2 0.5,1.2 0.5,0.2 0.4,-0.5 0.5,0.8 0.5,-1.3 0.5,-0.8 0.5,1.6 0.5,-0.3 0.5,0.5 0.5,0.4 0.4,-0.6 0.5,0.2 0.5,-0.9 0.5,1 0.5,-0.7 0.5,0.9 0.5,0.7 0.5,-0.2 0.5,0.1 0.5,0.6 0.5,-0.2 0.5,-0.4 0.5,0.5 0.5,-0.8 0.5,-0.1 0.5,-0.3 0.5,1.2 0.5,0 0.4,1.1 0.5,-0.5 0.5,0.8 0.5,-0.4 0.5,-0.3 0.5,0.3 0.5,-0.6 0.5,0.2 0.5,-0.5 0.5,0.1 0.5,1.6 0.5,-0.7 0.5,-0.5 0.5,0.5 0.5,-0.3 0.5,0.2 0.5,-0.7 0.5,0.6 0.4,-0.3 0.5,0 0.5,-0.7 0.5,0.1 0.5,0.5 0.5,0.4 0.5,-0.7 0.5,0.7 0.5,-0.2 0.5,-0.8 0.5,1.3 0.5,-1.3 0.5,-1 0.4,1.3 0.5,-0.1 0.5,0.1 0.5,-0.4 0.5,1.4 0.5,-0.4 0.5,0.1 0.5,-0.1 0.4,1.1 0.5,-0.5 0.5,0 0.5,0.4 0.5,0 0.4,0.3 0.5,-0.5 0.5,1.5 0.5,-1 0.5,-0.2 0.5,0.8 0.4,0.3 0.5,-1.1 0.5,0.3 0.5,0.3 0.5,0.4 0.5,0.2 0.5,-0.7 0.5,0.7 0.5,-0.1 0.5,-1.4 0.5,0.7 0.5,-0.7 0.5,0.1 0.5,-0.3 0.5,1.2 0.5,-0.6 0.5,-0.1 0.5,0 0.5,-0.5 0.5,2.1 0.5,-1.4 0.5,0.3 0.5,-0.4 0.5,-0.2 0.5,0" stroke="#000000"/>
<path d="M57,107.2l0.2,0 0.3,0 0.2,0.1 0.3,0 0.2,0.1 0.3,0.1 0.1,0.1 0.2,0.2 0.1,0.3 0.1,0.2 0.1,0.2 0.1,0.2 0.1,0.3 0.1,0.2 0,0.3 0.1,0.2 0.1,0.2 0.1,0.3 0,0.2 0.1,0.3 0,0.2 0.1,0.3 0.1,0.2 0,0.2 0.1,0.3 0,0.2 0.1,0.3 0,0.2 0.1,0.3 0,0.2 0.1,0.3 0,0.2 0.1,0.2 0.1,0.3 0,0.2 0.1,0.3 0,0.2 0.1,0.3 0.1,0.2 0,0.2 0.1,0.3 0,0.2 0.1,0.3 0.1,0.2 0,0.3 0.1,0.2 0.1,0.2 0,0.3 0.1,0.2 0.1,0.3 0,0.2 0.1,0.2 0.1,0.3 0,0.2 0.1,0.3 0.1,0.2 0,0.3 0.1,0.2 0.1,0.2 0,0.3 0.1,0.2 0.1,0.3 0,0.2 0.1,0.2 0.1,0.3 0,0.2 0.1,0.3 0.1,0.2 0.1,0.2 0,0.3 0.1,0.2 0.1,0.3 0,0.2 0.1,0.2 0.1,0.3 0,0.2 0.1,0.3 0.1,0.2 0.1,0.2 0,0.3 0.1,0.2 0.1,0.3 0,0.2 0.1,0.2 0.1,0.3 0.1,0.2 0,0.3 0.1,0.2 0.1,0.2 0,0.3 0.1,0.2 0.1,0.3 0.1,0.2 0,0.2 0.1,0.3 0.1,0.2 0,0.3 0.1,0.2 0.1,0.2 0,0.3 0.1,0.2 0.1,0.3 0.1,0.2 0,0.2 0.1,0.3 0.1,0.2 0,0.3 0.1,0.2 0.1,0.3 0,0.2 0.1,0.2 0.1,0.3 0,0.2 0.1,0.3 0,0.2 0.1,0.2 0.1,0.3 0,0.2 0.1,0.3 0.1,0.2 0,0.3 0.1,0.2 0,0.2 0.1,0.3 0,0.2 0.1,0.3 0,0.2 0.1,0.3 0.1,0.2 0,0.3 0.1,0.2 0,0.2 0.1,0.3 0,0.2 0.1,0.3 0,0.2 0.1,0.3 0,0.2 0,0.3 0.1,0.2 0,0.3 0.1,0.2 0,0.3 0.1,0.2 0,0.2 0.1,0.3 0,0.2 0,0.3 0.1,0.2 0,0.3 0.1,0.2 0,0.3 0.1,0.2 0,0.3 0,0.2 0.1,0.3 0,0.2 0.1,0.3 0,0.2 0.1,0.2 0,0.3 0,0.2 0.1,0.3 0,0.2 0.1,0.3 0,0.2 0.1,0.3 0,0.2 0.1,0.3 0,0.2 0.1,0.3 0,0.2 0,0.2 0.1,0.3 0,0.2 0.1,0.3 0,0.2 0.1,0.3 0,0.2 0.1,0.3 0,0.2 0,0.3 0.1,0.2 0,0.3 0.1,0.2 0,0.3 0.1,0.2 0,0.2 0,0.3 0.1,0.2 0,0.3 0.1,0.2 0,0.3 0.1,0.2 0,0.3 0.1,0.2 0,0.3 0,0.2 0.1,0.3 0,0.2 0.1,0.2 0,0.3 0.1,0.2 0,0.3 0.1,0.2 0,0.3 0.1,0.2 0,0.3 0.1,0.2 0.1,0.2 0,0.3 0.1,0.2 0,0.3 0.1,0.2 0,0.3 0.1,0.2 0.1,0.3 0,0.2 0.1,0.2 0.1,0.3 0,0.2 0.1,0.3 0.1,0.2 0,0.2 0.1,0.3 0.1,0.2 0.1,0.3 0,0.2 0.1,0.2 0.1,0.3 0.1,0.2 0,0.3 0.1,0.2 0.1,0.2 0.1,0.3 0,0.2 0.1,0.2 0.1,0.3 0.1,0.2 0.1,0.3 0,0.2 0.1,0.2 0.1,0.3 0.1,0.2 0.1,0.2 0,0.3 0.1,0.2 0.1,0.3 0.1,0.2 0,0.2 0.1,0.3 0.1,0.2 0.1,0.2 0,0.3 0.1,0.2 0.1,0.3 0.1,0.2 0,0.2 0.1,0.3 0.1,0.2 0,0.3 0.1,0.2 0.1,0.2 0.1,0.3 0,0.2 0.1,0.3 0.1,0.2 0,0.2 0.1,0.3 0.1,0.2 0.1,0.3 0,0.2 0.1,0.2 0,0.3 0.1,0.2 0.1,0.3 0,0.2 0.1,0.3 0.1,0.2 0,0.2 0.1,0.3 0,0.2 0.1,0.3 0,0.2 0.1,0.3 0,0.2 0.1,0.3 0.1,0.2 0,0.2 0.1,0.3 0,0.2 0.1,0.3 0,0.2 0.1,0.3 0,0.2 0,0.3 0.1,0.2 0,0.3 0.1,0.2 0,0.2 0.1,0.3 0,0.2 0.1,0.3 0,0.2 0.1,0.3 0,0.2 0.1,0.3 0,0.2 0,0.3 0.1,0.2 0,0.3 0.1,0.2 0,0.2 0.1,0.3 0,0.2 0.1,0.3 0,0.2 0.1,0.3 0,0.2 0,0.3 0.1,0.2 0,0.3 0.1,0.2 0,0.3 0.1,0.2 0,0.2 0.1,0.3 0,0.2 0.1,0.3 0,0.2 0.1,0.3 0,0.2 0.1,0.3 0,0.2 0,0.3 0.1,0.2 0,0.3 0.1,0.2 0,0.2 0.1,0.3 0,0.2 0.1,0.3 0,0.2 0.1,0.3 0,0.2 0.1,0.3 0,0.2 0,0.3 0.1,0.2 0,0.3 0.1,0.2 0,0.2 0.1,0.3 0,0.2 0.1,0.3 0,0.2 0.1,0.3 0,0.2 0.1,0.3 0,0.2 0,0.3 0.1,0.2 0,0.2 0.1,0.3 0,0.2 0.1,0.3 0,0.2 0.1,0.3 0.1,0.2 0,0.3 0.1,0.2 0,0.3 0.1,0.2 0,0.2 0.1,0.3 0,0.2 0.1,0.3 0.1,0.2 0,0.3 0.1,0.2 0,0.2 0.1,0.3 0.1,0.2 0,0.3 0.1,0.2 0,0.3 0.1,0.2 0.1,0.2 0,0.3 0.1,0.2 0.1,0.3 0,0.2 0.1,0.2 0.1,0.3 0,0.2 0.1,0.3 0.1,0.2 0,0.3 0.1,0.2 0.1,0.2 0,0.3 0.1,0.2 0.1,0.3 0.1,0.2 0,0.2 0.1,0.3 0.1,0.2 0,0.3 0.1,0.2 0.1,0.2 0.1,0.3 0,0.2 0.1,0.3 0.1,0.2 0.1,0.2 0,0.3 0.1,0.2 0.1,0.2 0.1,0.3 0,0.2 0.1,0.3 0.1,0.2 0.1,0.2 0,0.3 0.1,0.2 0.1,0.3 0.1,0.2 0,0.2 0.1,0.3 0.1,0.2 0.1,0.2 0.1,0.3 0,0.2 0.1,0.3 0.1,0.2 0.1,0.2 0.1,0.3 0.1,0.2 0,0.2 0.1,0.3 0.1,0.2 0.1,0.2 0.1,0.3 0.1,0.2 0.1,0.2 0,0.3 0.1,0.2 0.1,0.3 0.1,0.2 0.1,0.2 0.1,0.3 0.1,0.2 0.1,0.2 0,0.3 0.1,0.2 0.1,0.2 0.1,0.3 0.1,0.2 0.1,0.2 0.1,0.3 0.1,0.2 0.1,0.2 0,0.3 0.1,0.2 0.1,0.2 0.1,0.3 0.1,0.2 0.1,0.2 0.1,0.3 0.1,0.2 0.1,0.2 0.1,0.3 0.1,0.2 0.1,0.2 0,0.3 0.1,0.2 0.1,0.2 0.1,0.3 0.1,0.2 0.1,0.2 0.1,0.2 0.1,0.3 0.1,0.2 0.1,0.2 0.2,0.2 0.1,0.3 0.1,0.2 0.1,0.2 0.1,0.2 0.1,0.3 0.1,0.2 0.1,0.2 0.1,0.3 0.1,0.2 0.1,0.2 0,0.3 0.1,0.2 0.1,0.2 0.1,0.3 0.1,0.2 0.1,0.3 0,0.2 0.1,0.2 0.1,0.3 0.1,0.2 0.1,0.2 0,0.3 0.1,0.2 0.1,0.3 0.1,0.2 0.1,0.2 0,0.3 0.1,0.2 0.1,0.2 0.1,0.3 0,0.2 0.1,0.3 0.1,0.2 0.1,0.2 0.1,0.3 0,0.2 0.1,0.2 0.1,0.3 0.1,0.2 0.1,0.3 0,0.2 0.1,0.2 0.1,0.3 0.1,0.2 0,0.2 0.1,0.3 0.1,0.2 0.1,0.3 0.1,0.2 0,0.2 0.1,0.3 0.1,0.2 0.1,0.2 0,0.3 0.1,0.2 0.1,0.3 0.1,0.2 0.1,0.2 0,0.3 0.1,0.2 0.1,0.2 0.1,0.3 0.1,0.2 0,0.3 0.1,0.2 0.1,0.2 0.1,0.3 0.1,0.2 0,0.2 0.1,0.3 0.1,0.2 0.1,0.3 0.1,0.2 0,0.2 0.1,0.3 0.1,0.2 0.1,0.2 0.1,0.3 0,0.2 0.1,0.2 0.1,0.3 0.1,0.2 0.1,0.3 0,0.2 0.1,0.3 0.1,0.2 0.1,0.2 0,0.3 0.1,0.2 0.1,0.2 0.1,0.3 0,0.2 0.1,0.2 0.1,0.3 0.1,0.2 0,0.3 0.1,0.2 0.1,0.2 0.1,0.3 0.1,0.3 0,0.2 0.1,0.2 0.1,0.3 0.1,0.2 0,0.2 0.1,0.2 0.1,0.2 0.1,0.3 0.1,0.2 0,0.3 0.1,0.3 0.1,0.1 0.1,0.4 0.1,0.2 0.1,0.2 0,0.2 0.1,0.3 0.1,0.2 0.1,0.2 0.1,0.2 0.1,0.3 0.1,0.2 0.1,0.3 0,0.1 0.1,0.3 0.1,0.3 0.1,0.2 0.1,0.1 0.1,0.4 0.1,0.2 0.1,0.3 0.1,0.1 0.1,0.3 0.1,0.2 0.1,0.3 0.1,0.2 0.1,0.1 0.1,0.3 0.1,0.3 0.2,0.2 0.1,0.2 0.1,0.1 0.1,0.4 0.1,0.1 0.1,0.2 0.1,0.2 0.1,0.2 0.2,0.3 0.1,0.2 0.1,0.3 0.1,0.2 0.1,0.2 0.1,0.3 0.2,0.3 0.1,0.3 0.1,0.2 0.1,0.1 0.1,0.3 0.1,0.3 0.2,-0.1 0.1,0.4 0.1,0.1 0.1,0.3 0.2,0.2 0.1,0.3 0.1,0.1 0.1,0.2 0.2,0.1 0.1,0.4 0.1,0.2 0.1,0.2 0.2,0.2 0.1,0.4 0.1,-0.1 0.1,0.1 0.2,0.1 0.1,0.5 0.1,0 0.2,0.5 0.1,0 0.1,0.3 0.1,0.2 0.2,0.3 0.1,0.3 0.1,0.4 0.2,0.2 0.1,0.2 0.1,0 0.2,0.5 0.1,0.3 0.1,-0.1 0.2,-0.1 0.1,0.6 0.2,0.1 0.1,0.3 0.1,0.2 0.2,0.3 0.1,-0.1 0.1,0.4 0.2,0.2 0.1,0.5 0.2,0.4 0.1,-0.1 0.2,0.1 0.1,0.4 0.2,0 0.1,0 0.2,0.3 0.1,0 0.2,0.1 0.1,0.1 0.2,0.1 0.1,1 0.2,-0.4 0.1,0.6 0.2,0 0.1,0.4 0.2,0.1 0.2,0.7 0.1,-0.3 0.2,0.1 0.2,0.5 0.1,0.2 0.2,-0.2 0.2,0.7 0.1,-0.1 0.2,0.1 0.2,0 0.2,0.5 0.1,-0.3 0.2,0.6 0.2,-0.2 0.2,0.6 0.1,-0.1 0.2,0.9 0.2,-0.5 0.2,0.3 0.1,-0.1 0.2,0.6 0.2,0 0.2,-0.1 0.2,0.5 0.1,0.3 0.2,-0.3 0.2,0.4 0.2,0.1 0.2,0.2 0.2,0.1 0.2,-0.2 0.1,0.6 0.2,-0.4 0.2,0 0.2,0.5 0.3,0.7 0.2,-0.1 0.2,-0.1 0.2,0.7 0.2,0.2 0.2,-0.7 0.2,1.1 0.2,-0.4 0.2,0.5 0.3,0.6 0.2,-0.2 0.2,-1 0.2,0.8 0.2,-0.4 0.2,0.4 0.2,0.4 0.2,0.2 0.2,0.5 0.2,-0.2 0.2,0.1 0.2,0 0.1,0.3 0.2,0.3 0.2,0.7 0.2,-0.7 0.2,0.2 0.2,0.3 0.2,0 0.2,0.5 0.2,0.1 0.2,-0.1 0.2,0.7 0.2,0.3 0.2,-0.3 0.2,0 0.2,0.1 0.2,-0.2 0.2,0.8 0.2,0.2 0.2,0.1 0.2,0.8 0.2,-0.1 0.2,0.4 0.2,-0.1 0.2,-0.4 0.2,-0.2 0.2,0.3 0.2,-0.1 0.2,0.2 0.3,0.6 0.2,-0.1 0.2,0.3 0.2,0.2 0.2,-1 0.2,0.2 0.3,0.5 0.2,0.5 0.2,0.2 0.2,-0.4 0.3,0 0.2,0.6 0.2,-0.6 0.3,0.8 0.2,0.4 0.2,0 0.2,-0.6 0.3,1.3 0.2,-0.8 0.3,0.4 0.2,0.5 0.2,0.1 0.3,-0.1 0.2,-0.1 0.2,0.3 0.3,0.1 0.2,0.1 0.3,-0.3 0.2,-0.3 0.2,0.9 0.3,0 0.2,-0.4 0.3,0.4 0.2,-0.8 0.2,0 0.3,1.5 0.2,-0.6 0.3,-0.3 0.2,0.2 0.3,-0.2 0.2,-0.2 0.3,0 0.2,0.4 0.3,0.7 0.2,0 0.3,-0.4 0.2,-0.4 0.3,0.6 0.2,-0.2 0.3,0.2 0.2,0.5 0.3,-1.2 0.2,-0.4 0.3,1 0.2,-0.8 0.3,0 0.2,1.2 0.3,-0.5 0.2,0.4 0.3,-1.3 0.2,0.5 0.3,-0.5 0.2,0.2 0.3,0.7 0.2,-0.1 0.3,0.3 0.2,0.5 0.3,-0.3 0.2,-0.5 0.3,0 0.2,0.6 0.3,-1.1 0.2,1.4 0.3,0.5 0.2,-0.1 0.3,0 0.2,0.8 0.3,-1.1 0.2,0 0.3,-0.2 0.2,-0.6 0.3,-0.1 0.2,0 0.2,0.2 0.3,0.4 0.2,-0.7 0.3,1 0.2,0.3 0.3,-0.5 0.2,-0.1 0.3,0.5 0.2,-0.4 0.3,0.6 0.2,-0.6 0.3,-0.1 0.2,0.8 0.3,-1 0.2,0.9 0.3,0.6 0.2,0.4 0.3,-1.1 0.2,0 0.3,1.1 0.2,-0.2 0.3,0.2 0.2,-0.2 0.3,0 0.2,-0.5 0.3,-0.9 0.2,-0.3 0.3,0.4 0.2,0.2 0.3,-0.2 0.2,0.1 0.3,1.7 0.2,-1.4 0.3,0.5 0.2,-0.2 0.3,0.2 0.2,0.9 0.3,-0.5 0.2,-0.3 0.3,0.7 0.2,-0.6 0.3,1.1 0.2,-0.5 0.3,-0.2 0.2,0.4 0.3,-0.7 0.2,-0.5 0.3,0.2 0.2,-0.1 0.3,0 0.2,0.5 0.2,0.4 0.3,0 0.2,-0.3 0.3,-0.3 0.2,0.6 0.3,-0.5 0.2,0.5 0.3,-0.3 0.2,0.6 0.3,-0.6 0.2,0.2 0.3,0.3 0.2,-0.7 0.3,-0.4 0.2,0.1 0.3,0.2 0.2,0.2 0.3,-0.2 0.2,0.6 0.3,-0.2 0.2,0 0.3,0.7 0.2,-0.7 0.3,0.2 0.2,-0.1 0.3,0.3 0.2,-1 0.3,0 0.2,0.8 0.3,-0.1 0.2,0.1 0.3,0 0.2,-0.9 0.3,0.1 0.2,0.4 0.3,-0.3 0.2,-1.2 0.3,1.2 0.2,0.3 0.3,0.2 0.2,0.1 0.3,-0.5 0.2,-0.2 0.3,-0.9 0.2,0.7 0.3,-0.2 0.2,0.7 0.3,-0.6 0.2,0.3 0.2,-0.1 0.3,0.2 0.2,0.7 0.2,-0.4 0.3,0.5 0.2,0 0.2,-0.7 0.3,-0.2 0.2,0.7 0.2,0.4 0.3,-0.5 0.2,0.8 0.2,-0.4 0.2,0.9 0.3,-0.5 0.2,0.3 0.2,-0.6 0.3,0.5 0.2,-0.7 0.2,0.6 0.3,0 0.2,0.7 0.2,-0.1 0.3,0.2 0.2,0.7 0.2,0.2 0.3,0 0.2,0.5 0.3,-0.2 0.2,0.7 0.3,-1.2 0.2,0.5 0.2,0.6 0.3,-1.4 0.2,0.4 0.3,0.4 0.2,0.2 0.3,0 0.2,-0.6 0.3,0.7 0.2,-0.1 0.3,0.1 0.2,0.1 0.3,-0.2 0.2,0.5 0.3,-0.1 0.2,-0.5 0.3,-0.5 0.2,-0.3 0.3,0.2 0.2,-0.2 0.3,0.4 0.2,-0.1 0.3,0.4 0.2,0 0.3,0.5 0.2,0.5 0.3,-1.3 0.2,0.9 0.3,-0.5 0.2,0.6 0.3,0.4 0.2,-1.6 0.3,0 0.2,-0.3 0.3,1.3 0.2,-0.1 0.3,-0.4 0.2,0.1 0.3,0.1 0.2,0.3 0.3,-1.2 0.2,1 0.3,-0.2 0.2,0.5 0.3,-0.7 0.2,0 0.3,0.4 0.2,-0.7 0.3,0.4 0.2,0.3 0.3,-0.2 0.2,0.1 0.3,0.5 0.2,-0.7 0.3,0.2 0.2,1.1 0.3,-1.2 0.2,1.2 0.3,-0.3 0.2,-0.2 0.3,-0.6 0.2,0.3 0.3,0.2 0.2,-0.2 0.3,0.2 0.2,0 0.3,-0.8 0.2,0.3 0.3,0.2 0.2,-0.3 0.3,-0.5 0.2,0.6 0.3,-0.1 0.2,0.5 0.3,-1 0.2,1.6 0.3,-0.4 0.2,-0.1 0.3,-0.4 0.2,-0.7 0.3,0.6 0.2,0.6 0.3,-0.9 0.2,1.1 0.3,-1.1 0.2,-0.6 0.3,1.2 0.2,-1.1 0.3,0 0.2,0.9 0.3,0.4 0.2,-0.2 0.3,-0.7 0.2,0.5 0.3,-0.5 0.2,1.3 0.2,-0.6 0.3,-0.5 0.2,-0.5 0.3,-0.3 0.2,1.1 0.3,-0.3 0.2,-0.2 0.3,-0.3 0.2,-0.8 0.3,0 0.2,0.4 0.2,0.3 0.3,0.2 0.2,-0.3 0.3,-0.6 0.2,-0.8 0.3,0.2 0.2,1.4 0.3,-0.3 0.2,-0.4 0.3,0.3 0.2,0.3 0.3,-0.6 0.2,0.5 0.3,-0.5 0.2,0 0.3,0.3 0.2,0 0.3,0.1 0.2,-0.2 0.3,0.5 0.2,-1.7 0.3,1 0.2,-0.4 0.3,-0.3 0.2,0 0.3,0.2 0.2,-0.3 0.3,0.1 0.2,1.2 0.3,-0.3 0.2,-0.2 0.3,-0.6 0.2,-0.1 0.3,1 0.2,-1.2 0.3,0.5 0.2,0.2 0.3,-0.3 0.2,-0.3 0.3,0.7 0.2,-0.5 0.3,0.4 0.2,0.7 0.3,-0.8 0.2,0.3 0.3,0.1 0.2,0.1 0.3,0.3 0.2,-0.4 0.2,-0.5 0.3,-0.3 0.2,0.8 0.3,-0.1 0.2,-0.1 0.3,-0.3 0.2,0.7 0.3,0.6 0.2,-0.7 0.3,0.2 0.2,-0.4 0.3,-0.5 0.2,1.1 0.3,-0.7 0.2,1.3 0.3,-1 0.2,0.7 0.3,0.5 0.2,-0.7 0.3,-0.1 0.2,0.9 0.2,-0.4 0.3,0.5 0.2,-0.3 0.3,-0.2 0.2,0.1 0.3,-0.5 0.2,1.3 0.3,-0.6 0.2,0.4 0.2,-0.2 0.3,-0.7 0.2,1.4 0.3,-0.7 0.2,-0.3 0.3,-0.4 0.2,0.1 0.3,-0.2 0.2,0.6 0.2,0.2 0.3,0.7 0.2,-0.4 0.3,1.3 0.2,0 0.3,-0.1 0.2,-0.8 0.3,0.1 0.2,0 0.3,-0.3 0.2,0.1 0.3,-0.2 0.2,0.3 0.3,0 0.2,-0.3 0.3,0.9 0.2,-0.4 0.3,0.6 0.2,-0.5 0.3,0.2 0.2,-0.2 0.3,-0.7 0.2,0.6 0.3,-0.2 0.2,-0.1 0.3,-0.2 0.2,0.3 0.3,-0.2 0.2,0.4 0.3,0.5 0.2,-1.2 0.3,0.6 0.2,0 0.3,1 0.2,-0.2 0.3,-0.6 0.2,0.7 0.3,-0.1 0.2,0 0.3,-0.5 0.2,-0.2 0.3,0.9 0.2,-0.8 0.3,0 0.2,-0.1 0.3,0.2 0.2,-0.7 0.3,0.1 0.2,1 0.3,-0.1 0.2,0.1 0.3,-0.8 0.2,0.4 0.3,0.5 0.2,-0.2 0.3,-0.4 0.2,0.7 0.3,0.1 0.2,-0.8 0.3,0.9 0.2,-0.5 0.3,-0.2 0.2,0.5 0.3,0.1 0.2,-0.4 0.3,0.1 0.2,-0.1 0.3,-0.3 0.2,0.1 0.3,-0.4 0.2,-0.4 0.3,1 0.2,0 0.3,-0.1 0.2,0.3 0.3,0.2 0.2,0.1 0.3,-1 0.2,1.4 0.3,-0.9 0.2,-0.1 0.3,0.7 0.2,-0.1 0.3,-0.7 0.2,0.8 0.3,-0.3 0.2,-0.5 0.3,0.5 0.2,0 0.3,0.1 0.2,0 0.3,0.1 0.2,0 0.3,0 0.2,0.1 0.2,0 0,-0.3 0,-0.2 0,-0.3 0,-0.2 0,-0.3 0,-0.2 0,-0.3 0,-0.2 0,-0.3 0,-0.2 0,-0.3 0,-0.2 0.1,-0.3 0,-0.2 0,-0.3 0,-0.2 0,-0.3 0,-0.2 0,-0.3 0,-0.2 0,-0.3 0,-0.2 0,-0.3 0,-0.2 0,-0.3 0,-0.2 0,-0.3 0,-0.2 0,-0.3 0,-0.2 0,-0.3 0,-0.2 0,-0.3 0,-0.2 0,-0.3 0,-0.2 0.1,-0.3 0,-0.2 0,-0.3 0,-0.2 0,-0.3 0,-0.2 0,-0.3 0,-0.2 0,-0.3 0,-0.2 0,-0.3 0,-0.2 0,-0.3 0,-0.2 0,-0.3 0,-0.2 0,-0.3 0,-0.2 0,-0.3 0,-0.2 0,-0.3 0,-0.2 0,-0.3 0,-0.2 0.1,-0.3 0,-0.2 0,-0.3 0,-0.2 0,-0.3 0,-0.2 0,-0.3 0,-0.2 0,-0.3 0,-0.2 0,-0.3 0,-0.2 0,-0.3 0,-0.2 0,-0.3 0,-0.2 0,-0.3 0,-0.2 0,-0.3 0,-0.2 0,-0.3 0,-0.2 0,-0.3 0,-0.2 0,-0.3 0.1,-0.2 0,-0.3 0,-0.2 0,-0.3 0,-0.2 0,-0.3 0,-0.2 0,-0.3 0,-0.2 0,-0.3 0,-0.2 0,-0.3 0,-0.2 0,-0.3 0,-0.2 0,-0.3 0,-0.2 0,-0.3 0,-0.2 0,-0.3 0,-0.2 0,-0.3 0,-0.2 0,-0.3 0.1,-0.2 0,-0.3 0,-0.2 0,-0.3 0,-0.2 0,-0.3 0,-0.2 0,-0.3 0,-0.2 0,-0.3 0,-0.2 0,-0.3 0,-0.2 0,-0.3 0,-0.2 0,-0.3 0,-0.2 0,-0.3 0,-0.2 0,-0.3 0,-0.2 0,-0.3 0,-0.2 0.1,-0.3 0,-0.2 0,-0.3 0,-0.2 0,-0.3 0,-0.2 0,-0.3 0,-0.2 0,-0.3 0,-0.2 0,-0.3 0,-0.2 0,-0.3 0,-0.2 0,-0.3 0,-0.2 0,-0.3 0,-0.2 0,-0.3 0,-0.2 0,-0.3 0,-0.2 0,-0.3 0.1,-0.2 0,-0.3 0,-0.2 0,-0.3 0,-0.2 0,-0.3 0,-0.2 0,-0.3 0,-0.2 0,-0.3 0,-0.2 0,-0.3 0,-0.2 0,-0.3 0,-0.2 0,-0.3 0,-0.2 0,-0.3 0,-0.2 0,-0.3 0,-0.2 0,-0.3 0,-0.2 0.1,-0.3 0,-0.2 0,-0.3 0,-0.2 0,-0.3 0,-0.2 0,-0.3 0,-0.2 0,-0.3 0,-0.2 0,-0.3 0,-0.2 0,-0.3 0,-0.2 0,-0.3 0,-0.2 0,-0.3 0,-0.2 0,-0.3 0,-0.2 0,-0.3 0.1,-0.2 0,-0.3 0,-0.2 0,-0.3 0,-0.2 0,-0.3 0,-0.2 0,-0.3 0,-0.2 0,-0.3 0,-0.2 0,-0.3 0,-0.2 0,-0.3 0,-0.2 0,-0.3 0,-0.2 0,-0.3 0,-0.2 0,-0.3 0,-0.2 0,-0.3 0.1,-0.2 0,-0.3 0,-0.2 0,-0.3 0,-0.2 0,-0.3 0,-0.2 0,-0.3 0,-0.2 0,-0.3 0,-0.2 0,-0.3 0,-0.2 0,-0.3 0,-0.2 0,-0.3 0,-0.2 0,-0.3 0,-0.2 0,-0.3 0,-0.2 0,-0.3 0.1,-0.2 0,-0.3 0,-0.2 0,-0.3 0,-0.2 0,-0.3 0,-0.2 0,-0.3 0,-0.2 0,-0.3 0,-0.2 0,-0.3 0,-0.2 0,-0.3 0,-0.2 0,-0.3 0,-0.2 0,-0.3 0,-0.2 0,-0.3 0,-0.2 0.1,-0.3 0,-0.2 0,-0.3 0,-0.2 0,-0.3 0,-0.2 0,-0.3 0,-0.2 0,-0.3 0,-0.2 0,-0.3 0,-0.2 0,-0.3 0,-0.2 0,-0.3 0,-0.2 0,-0.3 0,-0.2 0,-0.3 0,-0.2 0,-0.3 0.1,-0.2 0,-0.3 0,-0.2 0,-0.3 0,-0.2 0,-0.3 0,-0.2 0,-0.3 0,-0.2 0,-0.3 0,-0.2 0,-0.3 0,-0.2 0,-0.3 0,-0.2 0,-0.3 0,-0.2 0,-0.3 0,-0.2 0,-0.3 0,-0.2 0.1,-0.3 0,-0.2 0,-0.3 0,-0.2 0,-0.3 0,-0.2 0,-0.3 0,-0.2 0,-0.3 0,-0.2 0,-0.3 0,-0.2 0,-0.3 0,-0.2 0,-0.3 0,-0.2 0,-0.3 0,-0.2 0,-0.3 0,-0.2 0.1,-0.3 0,-0.2 0,-0.3 0,-0.2 0,-0.3 0,-0.2 0,-0.3 0,-0.2 0,-0.3 0,-0.2 0,-0.3 0,-0.2 0,-0.3 0,-0.2 0,-0.3 0,-0.2 0,-0.3 0,-0.2 0,-0.3 0.1,-0.2 0,-0.3 0,-0.2 0,-0.3 0,-0.2 0,-0.3 0,-0.2 0,-0.3 0,-0.2 0,-0.3 0,-0.2 0,-0.3 0,-0.2 0,-0.3 0,-0.2 0,-0.3 0,-0.2 0,-0.3 0.1,-0.2 0,-0.3 0,-0.2 0,-0.3 0,-0.2 0,-0.3 0,-0.2 0,-0.3 0,-0.2 0,-0.3 0,-0.2 0,-0.3 0,-0.2 0,-0.3 0,-0.2 0,-0.3 0,-0.2 0.1,-0.3 0,-0.2 0,-0.3 0,-0.2 0,-0.3 0,-0.2 0,-0.3 0,-0.2 0,-0.3 0,-0.2 0,-0.3 0,-0.2 0,-0.3 0,-0.2 0,-0.3 0,-0.2 0,-0.3 0.1,-0.2 0,-0.3 0,-0.2 0,-0.3 0,-0.2 0,-0.3 0,-0.2 0,-0.3 0,-0.2 0,-0.3 0,-0.2 0,-0.3 0,-0.2 0,-0.3 0,-0.2 0.1,-0.3 0,-0.2 0,-0.3 0,-0.2 0,-0.3 0,-0.2 0,-0.3 0,-0.2 0,-0.3 0,-0.2 0,-0.3 0,-0.2 0,-0.3 0,-0.2 0,-0.3 0.1,-0.2 0,-0.3 0,-0.2 0,-0.3 0,-0.2 0,-0.3 0,-0.2 0,-0.3 0,-0.2 0,-0.3 0,-0.2 0,-0.3 0,-0.2 0,-0.3 0.1,-0.2 0,-0.3 0,-0.2 0,-0.3 0,-0.2 0,-0.3 0,-0.2 0,-0.3 0,-0.2 0,-0.3 0,-0.2 0,-0.3 0,-0.2 0.1,-0.3 0,-0.2 0,-0.3 0,-0.2 0,-0.3 0,-0.2 0,-0.3 0,-0.2 0,-0.3 0,-0.2 0,-0.3 0,-0.2 0,-0.3 0.1,-0.2 0,-0.3 0,-0.2 0,-0.3 0,-0.2 0,-0.3 0,-0.2 0,-0.3 0,-0.2 0,-0.3 0,-0.2 0,-0.3 0,-0.2 0.1,-0.3 0,-0.2 0,-0.3 0,-0.2 0,-0.3 0,-0.2 0,-0.3 0,-0.2 0,-0.3 0,-0.2 0,-0.3 0,-0.2 0,-0.3 0.1,-0.2 0,-0.3 0,-0.2 0,-0.3 0,-0.2 0,-0.3 0,-0.2 0,-0.3 0,-0.2 0,-0.3 0,-0.2 0,-0.3 0.1,-0.2 0,-0.3 0,-0.2 0,-0.3 0,-0.2 0,-0.3 0,-0.2 0,-0.3 0,-0.2 0,-0.3 0,-0.2 0,-0.3 0.1,-0.2 0,-0.3 0,-0.2 0,-0.3 0,-0.2 0,-0.3 0,-0.2 0,-0.3 0,-0.2 0,-0.3 0,-0.2 0,-0.3 0,-0.2 0.1,-0.3 0,-0.2 0,-0.3 0,-0.2 0,-0.3 0,-0.2 0,-0.3 0,-0.2 0,-0.3 0,-0.2 0,-0.3 0,-0.2 0.1,-0.3 0,-0.2 0,-0.3 0,-0.2 0,-0.3 0,-0.2 0,-0.3 0,-0.2 0,-0.3 0,-0.2 0,-0.3 0,-0.2 0,-0.3 0.1,-0.2 0,-0.3 0,-0.2 0,-0.3 0,-0.2 0,-0.3 0,-0.2 0,-0.3 0,-0.2 0,-0.3 0,-0.2 0,-0.3 0,-0.2 0.1,-0.3 0,-0.2 0,-0.3 0,-0.2 0,-0.3 0,-0.2 0,-0.3 0,-0.2 0,-0.3 0,-0.2 0,-0.3 0,-0.2 0.1,-0.3 0,-0.2 0,-0.3 0,-0.2 0,-0.3 0,-0.2 0,-0.3 0,-0.2 0,-0.3 0,-0.2 0,-0.3 0,-0.2 0,-0.3 0.1,-0.2 0,-0.3 0,-0.2 0,-0.3 0,-0.2 0,-0.3 0,-0.2 0,-0.3 0,-0.2 0,-0.3 0,-0.2 0,-0.3 0.1,-0.2 0,-0.3 0,-0.2 0,-0.3 0,-0.2 0,-0.3 0,-0.2 0,-0.3 0,-0.2 0,-0.3 0,-0.2 0,-0.3 0,-0.2 0.1,-0.3 0,-0.2 0,-0.3 0,-0.2 0,-0.3 0,-0.2 0,-0.3 0,-0.2 0,-0.3 0,-0.2 0,-0.3 0,-0.2 0.1,-0.3 0,-0.2 0,-0.3 0,-0.2 0,-0.3 0,-0.2 0,-0.3 0,-0.2 0,-0.3 0,-0.2 0,-0.3 0.1,-0.2 0,-0.3 0,-0.2 0,-0.3 0,-0.2 0,-0.3 0,-0.2 0,-0.3 0,-0.2 0,-0.3 0,-0.2 0,-0.3 0.1,-0.2 0,-0.3 0,-0.2 0,-0.3 0,-0.2 0,-0.3 0,-0.2 0,-0.3 0,-0.2 0,-0.3 0.1,-0.2 0,-0.3 0,-0.2 0,-0.3 0,-0.2 0,-0.3 0,-0.2 0,-0.3 0,-0.2 0,-0.3 0,-0.2 0.1,-0.3 0,-0.2 0,-0.3 0,-0.2 0,-0.3 0,-0.2 0,-0.3 0,-0.2 0,-0.3 0,-0.2 0,-0.3 0.1,-0.2 0,-0.3 0,-0.2 0,-0.3 0,-0.2 0,-0.3 0,-0.2 0,-0.3 0,-0.2 0,-0.3 0,-0.2 0,-0.3 0.1,-0.2 0,-0.3 0,-0.2 0,-0.3 0,-0.2 0,-0.3 0,-0.2 0,-0.3 0,-0.2 0,-0.3 0,-0.2 0.1,-0.3 0,-0.2 0,-0.3 0,-0.2 0,-0.3 0,-0.2 0,-0.3 0,-0.2 0,-0.3 0,-0.2 0.1,-0.3 0,-0.2 0,-0.3 0,-0.2 0,-0.3 0,-0.2 0,-0.3 0,-0.2 0,-0.3 0.1,-0.2 0,-0.3 0,-0.2 0,-0.3 0,-0.2 0,-0.3 0,-0.2 0,-0.3 0.1,-0.2 0,-0.3 0,-0.2 0,-0.3 0,-0.2 0,-0.3 0,-0.2 0.1,-0.3 0,-0.2 0,-0.3 0,-0.2 0,-0.3 0,-0.2 0.1,-0.3 0,-0.2 0,-0.3 0,-0.2 0,-0.3 0,-0.2 0.1,-0.3 0,-0.2 0,-0.2 0,-0.3 0,-0.2 0.1,-0.3 0,-0.2 0,-0.3 0,-0.2 0,-0.3 0.1,-0.2 0,-0.3 0,-0.2 0,-0.3 0,-0.2 0.1,-0.3 0,-0.2 0,-0.3 0,-0.2 0,-0.3 0.1,-0.2 0,-0.3 0,-0.2 0,-0.3 0,-0.2 0.1,-0.3 0,-0.2 0,-0.3 0,-0.2 0.1,-0.3 0,-0.2 0,-0.3 0,-0.2 0.1,-0.3 0,-0.2 0,-0.3 0,-0.2 0,-0.3 0.1,-0.2 0,-0.3 0,-0.2 0,-0.3 0.1,-0.2 0,-0.3 0,-0.2 0,-0.3 0.1,-0.2 0,-0.3 0,-0.2 0,-0.3 0.1,-0.2 0,-0.3 0,-0.2 0,-0.3 0.1,-0.2 0,-0.3 0,-0.2 0,-0.2 0.1,-0.3 0,-0.2 0,-0.3 0,-0.2 0.1,-0.3 0,-0.2 0,-0.3 0,-0.2 0.1,-0.3 0,-0.2 0,-0.3 0.1,-0.2 0,-0.3 0,-0.2 0,-0.3 0.1,-0.2 0,-0.3 0,-0.2 0,-0.3 0.1,-0.2 0,-0.3 0,-0.2 0,-0.3 0.1,-0.2 0,-0.3 0,-0.2 0.1,-0.3 0,-0.2 0,-0.3 0,-0.2 0.1,-0.3 0,-0.2 0,-0.3 0.1,-0.2 0,-0.2 0,-0.3 0,-0.2 0.1,-0.3 0,-0.2 0,-0.3 0.1,-0.2 0,-0.3 0,-0.2 0.1,-0.3 0,-0.2 0,-0.3 0,-0.2 0.1,-0.3 0,-0.2 0,-0.3 0.1,-0.2 0,-0.3 0,-0.2 0.1,-0.3 0,-0.2 0,-0.3 0.1,-0.2 0,-0.3 0,-0.2 0,-0.3 0.1,-0.2 0,-0.3 0,-0.2 0.1,-0.2 0,-0.3 0,-0.2 0.1,-0.3 0,-0.2 0.1,-0.3 0,-0.2 0,-0.3 0.1,-0.2 0,-0.3 0,-0.2 0.1,-0.3 0,-0.2 0,-0.3 0.1,-0.2 0,-0.3 0,-0.2 0.1,-0.3 0,-0.2 0.1,-0.3 0,-0.2 0,-0.2 0.1,-0.3 0,-0.2 0.1,-0.3 0,-0.2 0,-0.3 0.1,-0.2 0,-0.3 0.1,-0.2 0,-0.3 0,-0.2 0.1,-0.3 0,-0.2 0.1,-0.3 0,-0.2 0,-0.2 0.1,-0.3 0,-0.2 0.1,-0.3 0,-0.2 0.1,-0.3 0,-0.2 0.1,-0.3 0,-0.2 0.1,-0.3 0,-0.2 0.1,-0.3 0,-0.2 0,-0.2 0.1,-0.3 0,-0.2 0.1,-0.3 0.1,-0.2 0,-0.3 0.1,-0.2 0,-0.3 0.1,-0.2 0,-0.2 0.1,-0.3 0,-0.2 0.1,-0.3 0.1,-0.2 0,-0.3 0.1,-0.2 0,-0.2 0.1,-0.3 0.1,-0.2 0,-0.3 0.1,-0.2 0.1,-0.2 0.1,-0.3 0,-0.2 0.1,-0.3 0.1,-0.2 0.1,-0.2 0.1,-0.3 0,-0.2 0.1,-0.2 0.1,-0.3 0.1,-0.2 0.1,-0.2 0.1,-0.3 0.1,-0.2 0.1,-0.2 0.2,-0.2 0.1,-0.3 0.1,-0.2 0.1,-0.2 0.1,-0.2 0.2,-0.2 0.1,-0.2 0.1,-0.2 0.2,-0.2 0.1,-0.2 0.2,-0.2 0.2,-0.2 0.2,-0.1 0.2,-0.1 0.3,-0.1 0.2,0.1 0.3,0 0.2,0.1 0.2,0.2 0.2,0.1 0.2,0.2 0.1,0.2 0.2,0.2 0.2,0.2 0.1,0.2 0.2,0.2 0.1,0.2 0.2,0.2 0.1,0.2 0.1,0.2 0.1,0.2 0.2,0.2 0.1,0.3 0.1,0.2 0.1,0.2 0.2,0.2 0.1,0.2 0.1,0.3 0.1,0.2 0.1,0.2 0.1,0.2 0.1,0.3 0.1,0.2 0.1,0.2 0.1,0.3 0.1,0.2 0.1,0.2 0.1,0.2 0.1,0.3 0.1,0.2 0.1,0.2 0.1,0.3 0,0.2 0.1,0.3 0.1,0.2 0.1,0.2 0.1,0.3 0.1,0.2 0,0.2 0.1,0.3 0.1,0.2 0.1,0.2 0.1,0.3 0,0.2 0.1,0.3 0.1,0.2 0.1,0.2 0,0.3 0.1,0.2 0.1,0.2 0.1,0.3 0,0.2 0.1,0.3 0.1,0.2 0.1,0.2 0,0.3 0.1,0.2 0.1,0.3 0.1,0.2 0,0.2 0.1,0.3 0.1,0.2 0.1,0.3 0,0.2 0.1,0.2 0.1,0.3 0,0.2 0.1,0.2 0.1,0.3 0.1,0.2 0,0.3 0.1,0.2 0.1,0.2 0,0.3 0.1,0.2 0.1,0.3 0.1,0.2 0,0.2 0.1,0.3 0.1,0.2 0,0.3 0.1,0.2 0.1,0.2 0.1,0.3 0,0.2 0.1,0.3 0.1,0.2 0,0.2 0.1,0.3 0.1,0.2 0,0.3 0.1,0.2 0.1,0.3 0,0.2 0.1,0.2 0.1,0.3 0,0.2 0.1,0.3 0.1,0.2 0,0.2 0.1,0.3 0.1,0.2 0,0.3 0.1,0.2 0.1,0.2 0,0.3 0.1,0.2 0.1,0.3 0,0.2 0.1,0.3 0,0.2 0.1,0.2 0.1,0.3 0,0.2 0.1,0.3 0.1,0.2 0,0.2 0.1,0.3 0.1,0.2 0,0.3 0.1,0.2 0.1,0.3 0,0.2 0.1,0.2 0.1,0.3 0,0.2 0.1,0.3 0,0.2 0.1,0.2 0.1,0.3 0,0.2 0.1,0.3 0.1,0.2 0,0.3 0.1,0.2 0.1,0.2 0,0.3 0.1,0.2 0.1,0.3 0,0.2 0.1,0.2 0.1,0.3 0,0.2 0.1,0.3 0.1,0.2 0,0.2 0.1,0.3 0.1,0.2 0,0.3 0.1,0.2 0.1,0.3 0,0.2 0.1,0.2 0.1,0.3 0,0.2 0.1,0.3 0,0.2 0.1,0.2 0.1,0.3 0,0.2 0.1,0.3 0.1,0.2 0,0.3 0.1,0.2 0.1,0.2 0,0.3 0.1,0.2 0.1,0.3 0,0.2 0.1,0.2 0.1,0.3 0,0.2 0.1,0.3 0.1,0.2 0,0.2 0.1,0.3 0.1,0.2 0,0.3 0.1,0.2 0.1,0.3 0,0.2 0.1,0.2 0.1,0.3 0,0.2 0.1,0.3 0.1,0.2 0,0.2 0.1,0.3 0.1,0.2 0,0.3 0.1,0.2 0.1,0.2 0,0.3 0.1,0.2 0.1,0.3 0,0.2 0.1,0.2 0.1,0.3 0,0.2 0.1,0.3 0.1,0.2 0,0.2 0.1,0.3 0.1,0.2 0.1,0.3 0,0.2 0.1,0.2 0.1,0.3 0.1,0.2 0,0.3 0.1,0.2 0.1,0.2 0,0.3 0.1,0.2 0.1,0.3 0.1,0.2 0,0.2 0.1,0.3 0.1,0.2 0.1,0.3 0,0.2 0.1,0.2 0.1,0.3 0.1,0.2 0,0.3 0.1,0.2 0.1,0.2 0,0.3 0.1,0.2 0.1,0.2 0.1,0.3 0,0.2 0.1,0.3 0.1,0.2 0.1,0.2 0,0.3 0.1,0.2 0.1,0.3 0,0.2 0.1,0.2 0.1,0.3 0,0.2 0.1,0.3 0.1,0.2 0.1,0.2 0,0.3 0.1,0.2 0.1,0.3 0,0.2 0.1,0.2 0.1,0.3 0,0.2 0.1,0.3 0.1,0.2 0,0.3 0.1,0.2 0,0.2 0.1,0.3 0.1,0.2 0,0.3 0.1,0.2 0.1,0.3 0,0.2 0.1,0.2 0,0.3 0.1,0.2 0.1,0.3 0,0.2 0.1,0.2 0,0.3 0.1,0.2 0.1,0.3 0,0.2 0.1,0.3 0,0.2 0.1,0.3 0.1,0.2 0,0.2 0.1,0.3 0,0.2 0.1,0.3 0,0.2 0.1,0.3 0.1,0.2 0,0.2 0.1,0.3 0,0.2 0.1,0.3 0,0.2 0.1,0.3 0,0.2 0.1,0.2 0.1,0.3 0,0.2 0.1,0.3 0,0.2 0.1,0.3 0,0.2 0.1,0.3 0,0.2 0.1,0.2 0,0.3 0.1,0.2 0.1,0.3 0,0.2 0.1,0.3 0,0.2 0.1,0.3 0,0.2 0.1,0.2 0,0.3 0.1,0.2 0,0.3 0.1,0.2 0.1,0.3 0,0.2 0.1,0.3 0,0.2 0.1,0.2 0,0.3 0.1,0.2 0,0.3 0.1,0.2 0,0.3 0.1,0.2 0,0.3 0.1,0.2 0,0.2 0.1,0.3 0.1,0.2 0,0.3 0.1,0.2 0,0.3 0.1,0.2 0,0.2 0.1,0.3 0,0.2 0.1,0.3 0,0.2 0.1,0.3 0,0.2 0.1,0.3 0,0.2 0.1,0.2 0.1,0.3 0,0.2 0.1,0.3 0,0.2 0.1,0.3 0,0.2 0.1,0.3 0,0.2 0.1,0.2 0,0.3 0.1,0.2 0.1,0.3 0,0.2 0.1,0.3 0,0.2 0.1,0.3 0,0.2 0.1,0.2 0,0.3 0.1,0.2 0,0.3 0.1,0.2 0,0.3 0.1,0.2 0.1,0.3 0,0.2 0.1,0.2 0,0.3 0.1,0.2 0,0.3 0.1,0.2 0,0.3 0.1,0.2 0,0.2 0.1,0.3 0.1,0.2 0,0.3 0.1,0.2 0,0.3 0.1,0.2 0,0.3 0.1,0.2 0,0.2 0.1,0.3 0,0.2 0.1,0.3 0,0.2 0.1,0.3 0,0.2 0.1,0.3 0.1,0.2 0,0.2 0.1,0.3 0,0.2 0.1,0.3 0,0.2 0.1,0.3 0,0.2 0.1,0.3 0,0.2 0.1,0.2 0,0.3 0.1,0.2 0.1,0.3 0,0.2 0.1,0.3 0,0.2 0.1,0.3 0,0.2 0.1,0.2 0,0.3 0.1,0.2 0,0.3 0.1,0.2 0,0.3 0.1,0.2 0,0.3 0.1,0.2 0,0.2 0.1,0.3 0.1,0.2 0,0.3 0.1,0.2 0,0.3 0.1,0.2 0,0.3 0.1,0.2 0,0.2 0.1,0.3 0,0.2 0.1,0.3 0,0.2 0.1,0.3 0,0.2 0.1,0.3 0,0.2 0.1,0.2 0,0.3 0.1,0.2 0,0.3 0.1,0.2 0,0.3 0.1,0.2 0,0.3 0.1,0.2 0,0.3 0.1,0.2 0,0.2 0.1,0.3 0,0.2 0.1,0.3 0.1,0.2 0,0.3 0.1,0.2 0,0.3 0.1,0.2 0,0.2 0.1,0.3 0,0.2 0.1,0.3 0,0.2 0.1,0.3 0,0.2 0.1,0.3 0,0.2 0.1,0.2 0,0.3 0.1,0.2 0,0.3 0.1,0.2 0,0.3 0.1,0.2 0,0.3 0,0.2 0.1,0.3 0,0.2 0.1,0.2 0,0.3 0.1,0.2 0,0.3 0.1,0.2 0,0.3 0.1,0.2 0,0.3 0.1,0.2 0,0.3 0.1,0.2 0,0.2 0.1,0.3 0,0.2 0.1,0.3 0,0.2 0.1,0.3 0,0.2 0.1,0.3 0,0.2 0.1,0.2 0.1,0.3 0,0.2 0.1,0.3 0,0.2 0.1,0.3 0,0.2 0.1,0.3 0,0.2 0.1,0.2 0,0.3 0.1,0.2 0.1,0.3 0,0.2 0.1,0.3 0,0.2 0.1,0.2 0.1,0.3 0,0.2 0.1,0.3 0,0.2 0.1,0.3 0.1,0.2 0,0.2 0.1,0.3 0,0.2 0.1,0.3 0.1,0.2 0,0.3 0.1,0.2 0.1,0.2 0,0.3 0.1,0.2 0,0.3 0.1,0.2 0.1,0.3 0,0.2 0.1,0.2 0.1,0.3 0,0.2 0.1,0.3 0.1,0.2 0,0.2 0.1,0.3 0.1,0.2 0,0.3 0.1,0.2 0.1,0.2 0,0.3 0.1,0.2 0.1,0.3 0,0.2 0.1,0.3 0.1,0.2 0,0.2 0.1,0.3 0.1,0.2 0,0.3 0.1,0.2 0.1,0.2 0,0.3 0.1,0.2 0.1,0.3 0,0.2 0.1,0.2 0.1,0.3 0.1,0.2 0,0.3 0.1,0.2 0.1,0.2 0,0.3 0.1,0.2 0.1,0.3 0,0.2 0.1,0.2 0.1,0.3 0.1,0.2 0,0.3 0.1,0.2 0.1,0.2 0,0.3 0.1,0.2 0.1,0.3 0.1,0.2 0,0.2 0.1,0.3 0.1,0.2 0,0.3 0.1,0.2 0.1,0.2 0.1,0.3 0,0.2 0.1,0.3 0.1,0.2 0,0.2 0.1,0.3 0.1,0.2 0.1,0.2 0,0.3 0.1,0.2 0.1,0.3 0.1,0.2 0,0.2 0.1,0.3 0.1,0.2 0.1,0.3 0,0.2 0.1,0.2 0.1,0.3 0.1,0.2 0.1,0.2 0,0.3 0.1,0.2 0.1,0.3 0.1,0.2 0,0.2 0.1,0.3 0.1,0.2 0.1,0.2 0.1,0.3 0,0.2 0.1,0.3 0.1,0.2 0.1,0.2 0,0.3 0.1,0.2 0.1,0.2 0.1,0.3 0.1,0.2 0,0.3 0.1,0.2 0.1,0.2 0.1,0.3 0.1,0.2 0,0.2 0.1,0.3 0.1,0.2 0.1,0.3 0.1,0.2 0,0.2 0.1,0.3 0.1,0.2 0.1,0.2 0.1,0.3 0,0.2 0.1,0.2 0.1,0.3 0.1,0.2 0.1,0.3 0.1,0.2 0,0.2 0.1,0.3 0.1,0.2 0.1,0.2 0.1,0.3 0,0.2 0.1,0.3 0.1,0.2 0.1,0.2 0.1,0.3 0,0.2 0.1,0.2 0.1,0.3 0.1,0.2 0.1,0.3 0,0.2 0.1,0.2 0.1,0.3 0.1,0.2 0,0.2 0.1,0.3 0.1,0.2 0.1,0.2 0.1,0.3 0,0.2 0.1,0.3 0.1,0.2 0.1,0.2 0,0.3 0.1,0.2 0.1,0.3 0.1,0.2 0,0.2 0.1,0.3 0.1,0.2 0.1,0.2 0,0.3 0.1,0.2 0.1,0.3 0.1,0.2 0,0.2 0.1,0.3 0.1,0.2 0.1,0.3 0,0.2 0.1,0.2 0.1,0.3 0.1,0.2 0,0.2 0.1,0.3 0.1,0.2 0.1,0.3 0,0.2 0.1,0.2 0.1,0.3 0.1,0.2 0,0.3 0.1,0.2 0.1,0.2 0.1,0.3 0.1,0.2 0,0.2 0.1,0.3 0.1,0.2 0.1,0.3 0,0.2 0.1,0.2 0.1,0.3 0.1,0.2 0.1,0.2 0.1,0.3 0,0.2 0.1,0.3 0.1,0.2 0.1,0.2 0.1,0.3 0.1,0.2 0,0.2 0.1,0.3 0.1,0.2 0.1,0.2 0.1,0.3 0.1,0.2 0.1,0.2 0.1,0.3 0,0.2 0.1,0.2 0.1,0.3 0.1,0.2 0.1,0.2 0.1,0.3 0.1,0.2 0.1,0.2 0,0.3 0.1,0.2 0.1,0.2 0.1,0.3 0.1,0.2 0.1,0.2 0.1,0.3 0.1,0.2 0.1,0.2 0.1,0.3 0,0.2 0.1,0.2 0.1,0.3 0.1,0.2 0.1,0.2 0.1,0.3 0.1,0.2 0.1,0.2 0.1,0.3 0.1,0.2 0.1,0.2 0.1,0.3 0.1,0.2 0.1,0.2 0.1,0.2 0.1,0.3 0.1,0.2 0.1,0.2 0.1,0.3 0.1,0.2 0.1,0.2 0.1,0.2 0.1,0.3 0.1,0.2 0.1,0.2 0.1,0.2 0.1,0.3 0.1,0.2 0.1,0.2 0.1,0.2 0.1,0.2 0.2,0.3 0.1,0.2 0.1,0.2 0.1,0.3 0.1,0.2 0.1,0.2 0.1,0.2 0.1,0.3 0.2,0.3 0.1,0.1 0.1,0.2 0.1,0.3 0.1,0.2 0.1,0.2 0.2,0.2 0.1,0.2 0.1,0.3 0.1,0.2 0.1,0.3 0.1,0.1 0.2,0.2 0.1,0.3 0.1,0.1 0.1,0.3 0.2,0.2 0.1,0.2 0.1,0.2 0.1,0.2 0.1,0.2 0.2,0.3 0.1,0.3 0.1,0.1 0.1,0.2 0.2,0.2 0.1,0.2 0.1,0.3 0.1,0.3 0.2,0.2 0.1,0.1 0.1,0.3 0.1,0.2 0.2,0.3 0.1,0.2 0.1,0.2 0.2,0.2 0.1,0.2 0.1,0.2 0.1,0.4 0.2,0 0.1,0.1 0.1,0.3 0.2,0.1 0.1,0.4 0.1,0.2 0.2,0.1 0.1,0.5 0.1,0 0.2,0.4 0.1,0.1 0.1,0.3 0.1,0 0.2,0.3 0.1,0.1 0.2,0.2 0.1,0.3 0.1,0.3 0.2,0 0.1,0.4 0.1,0.2 0.2,0 0.1,0.4 0.1,0.1 0.2,0.4 0.1,0 0.1,0.2 0.2,0.2 0.1,0.2 0.1,-0.1 0.2,0.7 0.1,-0.2 0.1,0.4 0.2,0.3 0.1,0 0.2,0.2 0.1,0.2 0.1,0.4 0.2,0.6 0.1,-0.1 0.2,0.4 0.1,0.1 0.1,0.3 0.2,0.2 0.1,0 0.2,0.2 0.1,0.7 0.1,0 0.2,0.2 0.1,0 0.2,0.1 0.1,0.3 0.2,0.2 0.1,0.3 0.2,0.4 0.1,-0.3 0.2,0.4 0.1,0.1 0.2,0.1 0.1,0.4 0.2,0 0.2,0.1 0.1,0.1 0.2,0.3 0.1,0.4 0.2,-0.1 0.2,0.7 0.1,0.1 0.2,-0.3 0.2,0 0.1,0.8 0.2,-0.2 0.2,0.6 0.1,0.1 0.2,0.3 0.2,0.5 0.2,-0.4 0.1,1.2 0.2,0.1 0.2,0.2 0.2,-0.6 0.1,0.3 0.2,0.1 0.2,-0.3 0.2,0.7 0.2,-0.3 0.2,0.1 0.1,0.4 0.2,0.7 0.2,-0.7 0.2,0.5 0.2,0.5 0.2,0.1 0.2,0 0.2,-0.4 0.2,0.5 0.2,-0.1 0.2,0.6 0.1,0.2 0.2,0.1 0.2,0.3 0.2,-0.1 0.2,0.3 0.2,0.6 0.2,-0.2 0.2,0.1 0.2,0.2 0.2,0.2 0.2,-0.4 0.2,0.4 0.2,-0.1 0.2,0.3 0.3,1.1 0.2,-0.9 0.2,0.5 0.2,0 0.2,-0.1 0.2,-0.1 0.2,1.1 0.2,0.1 0.2,-0.2 0.2,-0.1 0.2,0.6 0.2,0 0.2,0.2 0.3,-0.1 0.2,0.5 0.2,-0.2 0.2,1 0.2,-0.7 0.2,0.8 0.2,0 0.3,-0.2 0.2,-0.1 0.2,0.3 0.2,-0.4 0.2,0.2 0.2,-0.3 0.3,0.2 0.2,0.4 0.2,-0.1 0.2,0.4 0.2,0.7 0.2,-0.5 0.3,0.7 0.2,-0.1 0.2,-0.1 0.2,-0.1 0.3,-0.1 0.2,0.2 0.2,0.2 0.2,0.6 0.3,0.3 0.2,-0.4 0.2,-0.1 0.2,1 0.3,0.3 0.2,-0.5 0.2,-0.3 0.2,0.1 0.3,0.4 0.2,-0.5 0.2,0.7 0.2,-0.3 0.3,1 0.2,-0.7 0.2,0.3 0.3,0.8 0.2,-1.2 0.2,1.1 0.3,0.2 0.2,0.2 0.2,-0.3 0.2,0.3 0.3,-0.3 0.2,0.4 0.2,-0.6 0.3,1 0.2,0.2 0.2,-0.2 0.3,0.4 0.2,-0.5 0.2,0.4 0.3,-0.2 0.2,0.4 0.3,0.1 0.2,-0.1 0.2,0.7 0.3,-1.1 0.2,0.2 0.2,0.5 0.3,-0.3 0.2,-0.4 0.2,0.8 0.3,-0.1 0.2,0.2 0.3,0.3 0.2,-0.5 0.2,0.9 0.3,0.1 0.2,-0.5 0.3,0.8 0.2,-0.7 0.2,0.9 0.3,-0.4 0.2,0.2 0.3,0.4 0.2,0.4 0.2,-0.2 0.3,-0.2 0.2,0.6 0.3,-0.7 0.2,0.3 0.2,-0.1 0.3,-0.2 0.2,0.2 0.3,-0.1 0.2,-0.1 0.3,0.4 0.2,0.4 0.2,0 0.3,0 0.2,0.7 0.3,-1.1 0.2,-0.1 0.3,0.5 0.2,-0.3 0.2,0.5 0.3,-0.3 0.2,0.3 0.3,0 0.2,0.5 0.3,-0.6 0.2,1 0.2,-0.3 0.3,-0.4 0.2,0.6 0.3,0.5 0.2,-0.5 0.3,0 0.2,-0.8 0.3,0.3 0.2,0.3 0.2,-0.7 0.3,-0.1 0.2,1.1 0.3,-0.8 0.2,1.2 0.3,-0.2 0.2,-0.5 0.3,-0.1 0.2,0.1 0.3,-0.4 0.2,0.2 0.3,0.9 0.2,-0.2 0.3,-0.3 0.2,1 0.2,1.1 0.3,-1.1 0.2,-0.1 0.3,0.7 0.2,-0.8 0.3,0.3 0.2,-0.5 0.3,-0.2 0.2,1 0.3,-0.8 0.2,1 0.3,0.5 0.2,-0.8 0.3,0.4 0.2,-0.5 0.3,-0.5 0.2,0.2 0.3,0.4 0.2,-0.4 0.3,0.1 0.2,1.2 0.2,-0.8 0.3,-0.7 0.2,0.8 0.3,-0.3 0.2,-0.1 0.3,0.3 0.2,0.3 0.3,0.5 0.2,-0.8 0.3,0.3 0.2,0.4 0.3,-0.6 0.2,0.4 0.3,0.2 0.2,-0.5 0.3,0.2 0.2,-0.5 0.3,0.3 0.2,-0.7 0.2,0.7 0.3,0.7 0.2,0 0.3,-0.4 0.2,0.1 0.3,-0.8 0.2,0.2 0.3,0.3 0.2,0.2 0.3,-0.2 0.2,0 0.3,0.7 0.2,0.3 0.3,0.6 0.2,-0.5 0.3,0.3 0.2,-0.1 0.3,0.5 0.2,-0.4 0.2,0.2 0.3,-0.2 0.2,-0.2 0.3,0.2 0.2,0.2 0.3,-0.3 0.2,0.2 0.3,-0.3 0.2,0.4 0.3,-0.2 0.2,-0.8 0.3,0.3 0.2,0.9 0.3,0.3 0.2,-0.5 0.2,-0.2 0.3,0.3 0.2,0.2 0.3,0.3 0.2,-0.7 0.3,0.5 0.2,-0.4 0.3,0.4 0.2,0.3 0.2,0.1 0.3,0.6 0.2,-0.8 0.3,-0.2 0.2,0.1 0.2,-0.9 0.3,1.4 0.2,-0.3 0.3,0.2 0.2,0.4 0.3,0.5 0.2,-0.3 0.2,0.7 0.3,-0.2 0.2,0.2 0.3,-0.4 0.2,0.6 0.3,-1.2 0.2,0.3 0.3,-0.2 0.2,0.2 0.3,-0.2 0.2,-0.3 0.3,0.3 0.2,-0.1 0.3,-0.2 0.2,0 0.2,0.2 0.3,0.6 0.2,-0.6 0.2,0.5 0.2,-1.1 0.3,0.3 0.2,-0.3 0.2,-0.6 0.3,0.1 0.2,-0.2 0.2,-0.2 0.3,-0.1 0.2,0.7 0.2,-0.4 0.3,0.8 0.2,-1.1 0.3,-0.4 0.2,0.4 0.2,-0.6 0.3,0.3 0.2,0.6 0.3,0 0.2,0.4 0.3,-0.1 0.2,0 0.3,-0.2 0.2,-0.7 0.3,0 0.2,-0.3 0.3,1 0.2,-1.6 0.3,-0.3 0.2,1.2 0.3,-0.2 0.2,-0.4 0.3,-0.4 0.2,0.7 0.3,-0.7 0.2,0.4 0.2,-0.5 0.3,0.2 0.2,0.6 0.3,-0.2 0.2,-0.2 0.3,0.7 0.2,-1.1 0.2,0.3 0.3,-0.1 0.2,0.1 0.3,0.2 0.2,-0.3 0.3,0.3 0.2,0.7 0.3,-0.6 0.2,-0.4 0.3,0.4 0.2,-0.1 0.3,0 0.2,0.3 0.3,-0.7 0.2,-0.3 0.2,0.9 0.3,-0.5 0.2,0.6 0.2,0.8 0.3,-0.1 0.2,-0.4 0.2,0.2 0.3,0.5 0.2,-0.1 0.2,-0.2 0.2,0.1 0.3,-0.2 0.2,0.1 0.2,0.6 0.2,-0.7 0.3,0.1 0.2,0.2 0.2,0.4 0.2,0.4 0.3,0.2 0.2,-0.1 0.2,0.3 0.3,0.4 0.2,0.4 0.2,-0.3 0.2,0.4 0.3,0.2 0.2,-0.3 0.2,-0.4 0.3,0 0.2,0.5 0.2,-0.1 0.3,-0.4 0.2,1.4 0.3,-0.1 0.2,-0.5 0.2,0.1 0.3,0.6 0.2,-0.3 0.3,0 0.2,0.6 0.3,-1 0.2,-0.1 0.3,0.3 0.2,0.3 0.3,-0.4 0.2,0.4 0.3,0.1 0.2,0 0.3,-0.3 0.2,0.8 0.3,-1.5 0.2,0.3 0.3,0.4 0.2,0 0.3,-0.3 0.2,0.3 0.3,0.1 0.2,-0.3 0.3,0.4 0.2,0.2 0.3,-0.2 0.2,-0.6 0.3,-0.2 0.2,0.5 0.3,0.2 0.2,-0.9 0.3,-0.3 0.2,0.9 0.3,0.4 0.2,-0.7 0.3,0.1 0.2,0.2 0.3,-0.1 0.2,0.2 0.3,0.1 0.2,-0.2 0.3,-0.3 0.2,0.5 0.3,-0.6 0.2,0.2 0.3,0.5 0.2,-0.5 0.3,0 0.2,0.6 0.2,0.3 0.3,0.2 0.2,-0.2 0.3,-0.3 0.2,0.2 0.3,0.1 0.2,-0.2 0.3,0.1 0.2,0.6 0.3,-0.2 0.2,-0.1 0.2,-0.1 0.3,-0.3 0.2,0.3 0.3,1.1 0.2,-0.5 0.3,-0.6 0.2,0.6 0.3,0.4 0.2,-1.1 0.3,0.3 0.2,0.4 0.2,0.2 0.3,-0.4 0.2,-0.7 0.3,1.3 0.2,-0.5 0.3,0.1 0.2,0.9 0.3,0.1 0.2,0 0.3,0.1 0.2,0.3 0.3,0.1 0.2,-0.8 0.3,0.6 0.2,-1 0.3,-0.3 0.2,-0.6 0.3,0.7 0.2,0.7 0.3,-0.9 0.2,0.4 0.3,-0.2 0.2,0 0.3,-0.6 0.2,0.8 0.3,-0.1 0.2,-0.3 0.3,-0.4 0.2,-0.2 0.3,-0.1 0.2,0.3 0.2,1.1 0.3,-1 0.2,0.1 0.3,-0.4 0.2,0.6 0.3,-0.2 0.2,0.1 0.3,0.3 0.2,-0.3 0.3,-0.3 0.2,-0.1 0.3,0.6 0.2,-0.4 0.2,-0.1 0.3,-0.7 0.2,0.9 0.3,-0.7 0.2,0.2 0.3,0.1 0.2,-0.3 0.3,-0.1 0.2,-0.1 0.3,-0.2 0.2,0.4 0.3,-0.6 0.2,0.6 0.3,0.2 0.2,-0.3 0.3,0.1 0.2,-0.5 0.3,0.6 0.2,-0.2 0.2,-0.4 0.3,0.6 0.2,-0.1 0.2,0.4 0.2,0.3 0.3,0 0.2,-0.1 0.3,0.8 0.2,0.4 0.2,-0.4 0.3,0.7 0.2,-0.8 0.3,0.4 0.2,-1.2 0.3,1.3 0.2,-0.4 0.3,0.2 0.2,0.5 0.3,-0.2 0.2,-0.5 0.3,-0.3 0.2,-0.1 0.2,0.3 0.3,-1.1 0.2,1 0.2,-0.5 0.3,0.8 0.2,-1 0.3,-0.1 0.2,0.3 0.2,-0.8 0.3,0.6 0.2,-0.1 0.2,-0.9 0.2,1.7 0.3,-0.7 0.2,-0.2 0.2,0.1 0.3,-1 0.2,0.3 0.3,0.1 0.2,-0.3 0.2,-0.1 0.3,0.2 0.2,-0.5 0.2,-0.4 0.3,-0.2 0.2,0.8 0.3,-0.9 0.2,1 0.3,0.2 0.2,-0.9 0.2,0 0.3,0.2 0.2,-0.1 0.3,0.1 0.2,-0.1 0.3,-0.4 0.2,1 0.3,-0.5 0.2,-1 0.3,0 0.2,0.3 0.3,0.5 0.2,-0.2 0.3,-0.2 0.2,0.2 0.3,-0.1 0.2,0.3 0.3,-0.4 0.2,0 0.3,1.4 0.2,-1.3 0.3,0.3 0.2,0 0.3,0.9 0.2,-0.8 0.3,-0.8 0.2,1.9 0.3,-1 0.2,0.6 0.3,-0.9 0.2,0.6 0.3,-0.6 0.2,-0.4 0.3,0.3 0.2,-0.2 0.3,0.6 0.2,0 0.3,-0.3 0.2,0.8 0.3,-0.8 0.2,0 0.3,-0.3 0.2,-0.1 0.3,-0.2 0.2,0 0.3,0 0.2,-0.2 0.3,0.8 0.2,-0.9 0.3,1.2 0.2,-0.7 0.3,0.6 0.2,-0.1 0.3,-0.8 0.2,1.1 0.3,-0.3 0.2,-0.6 0.3,0.1 0.2,-0.3 0.3,0.8 0.2,-1.2 0.3,0.6 0.2,1.2 0.3,-0.5 0.2,0.2 0.2,-0.1 0.3,0.2 0.2,0.2 0.3,0.5 0.2,-0.1 0.2,0.4 0.3,-1 0.2,-0.1 0.3,0.6 0.2,-0.9 0.2,0.3 0.3,0.4 0.2,0 0.3,-1.3 0.2,1.1 0.3,0.1 0.2,0.1 0.2,0 0.3,0.1 0.2,0.2 0.3,-0.2 0.2,-0.6 0.3,0.7 0.2,0.5 0.3,-0.4 0.2,0.4 0.3,0.2 0.2,0.3 0.2,-1 0.3,1.9 0.2,-1.5 0.3,0.3 0.2,-0.2 0.3,0.6 0.2,-0.4 0.3,0.2 0.2,-0.5 0.3,0.1 0.2,-0.3 0.3,0.7 0.2,0.5 0.3,-1.1 0.2,0.8 0.3,-0.4 0.2,-0.2 0.2,0.8 0.3,-0.4 0.2,0.2 0.3,-0.4 0.2,0.4 0.3,-0.1 0.2,1 0.3,-0.3 0.2,-0.7 0.3,1.3 0.2,-0.1 0.3,-0.3 0.2,0.6 0.3,-0.4 0.2,0.4 0.3,-1.1 0.2,-0.4 0.3,0.9 0.2,-0.1 0.2,-0.2 0.3,0.7 0.2,-0.5 0.3,-0.4 0.2,1.4 0.3,-1.1 0.2,-0.1 0.3,0.5 0.2,0.4 0.3,0.5 0.2,-0.3 0.3,-0.6 0.2,0.3 0.2,-0.1 0.3,0.8 0.2,0.3 0.3,-0.3 0.2,-0.1 0.3,0.1 0.2,-0.1 0.3,0.1 0.2,-0.6 0.3,0.1 0.2,0.5 0.3,-0.2 0.2,0.3 0.3,-0.7 0.2,-0.2 0.3,1 0.2,-0.6 0.3,-0.7 0.2,0.8 0.3,0.2 0.2,-0.1 0.2,-0.3 0.3,0 0.2,0.4 0.3,-0.5 0.2,-0.6 0.3,0.2 0.2,-0.4 0.2,-0.6 0.3,0.5 0.2,-0.4 0.3,0.8 0.2,-0.5 0.3,0 0.2,-0.2 0.3,0.7 0.2,-0.5 0.3,0.4 0.2,0.5 0.3,-0.3 0.2,-0.1 0.3,-0.2 0.2,0.4 0.3,-0.6 0.2,0.3 0.3,-0.5 0.2,1.1 0.2,-0.1 0.3,-0.1 0.2,-0.3 0.3,0.4 0.2,-0.4 0.3,0.1 0.2,0.1 0.3,-1.2 0.2,0.4 0.2,0.7 0.3,-0.2 0.2,-0.7 0.3,0.4 0.2,1.2 0.3,-0.1 0.2,0.9 0.2,-0.7 0.3,-0.3 0.2,-0.3 0.3,0.9 0.2,-1.3 0.3,1 0.2,-0.3 0.2,-0.2 0.3,0.4 0.2,0 0.2,0.7 0.3,-0.5 0.2,0.2 0.2,1 0.3,-0.1 0.2,-0.3 0.2,0.8 0.3,-0.2 0.2,0.1 0.3,-0.1 0.2,-0.5 0.2,0.4 0.3,0 0.2,-0.4 0.3,0.6 0.2,0.3 0.3,0.1 0.2,-0.6 0.3,-0.4 0.2,0.2 0.3,0.5 0.2,0 0.3,0 0.2,-0.3 0.3,0.8 0.2,-1.5 0.3,1.8 0.2,-0.8 0.3,0.8 0.2,-0.5 0.3,-0.6 0.2,0.7 0.3,-1 0.2,0.3 0.3,-0.2 0.2,0.3 0.3,-0.5 0.2,0.8 0.3,-0.2 0.2,-0.1 0.3,-0.4 0.2,-0.2 0.3,0.2 0.2,1.3 0.3,-1.1 0.2,0.5 0.3,-0.3 0.2,0.4 0.3,0.1 0.2,-0.7 0.3,0.7 0.2,-0.2 0.3,-0.7 0.2,0.3 0.3,-0.1 0.2,-0.2 0.3,0.3 0.2,-0.3 0.3,-0.1 0.2,0.1 0.3,-0.1 0.2,0" stroke="#ff0000" stroke-dasharray="10.7 1.9 5.3 1.9" stroke-dashoffset="0.00"/>
</g>
<text x="56.6" y="328.2" font-size="17.5" text-anchor="middle">0</text>
<text x="153.8" y="328.2" font-size="17.5" text-anchor="middle">1</text>
<text x="251.0" y="328.2" font-size="17.5" text-anchor="middle">2</text>
<text x="348.2" y="328.2" font-size="17.5" text-anchor="middle">3</text>
<text x="445.4" y="328.2" font-size="17.5" text-anchor="middle">4</text>
<text x="542.6" y="328.2" font-size="17.5" text-anchor="middle">5</text>
<text x="50.6" y="15.2" font-size="17.5" text-anchor="end">4</text>
<text x="50.6" y="64.6" font-size="17.5" text-anchor="end">2</text>
<text x="50.6" y="114.1" font-size="17.5" text-anchor="end">0</text>
<text x="50.6" y="163.5" font-size="17.5" text-anchor="end">2</text>
<text x="28.4" y="165.0" font-size="17.5" textLength="12.7" lengthAdjust="spacingAndGlyphs">−</text>
<text x="50.6" y="212.9" font-size="17.5" text-anchor="end">4</text>
<text x="28.4" y="214.4" font-size="17.5" textLength="12.7" lengthAdjust="spacingAndGlyphs">−</text>
<text x="50.6" y="262.4" font-size="17.5" text-anchor="end">6</text>
<text x="28.4" y="263.9" font-size="17.5" textLength="12.7" lengthAdjust="spacingAndGlyphs">−</text>
<text x="50.6" y="311.8" font-size="17.5" text-anchor="end">8</text>
<text x="28.4" y="313.3" font-size="17.5" textLength="12.7" lengthAdjust="spacingAndGlyphs">−</text>
<text x="297" y="350.6" font-size="20" text-anchor="middle" textLength="82" lengthAdjust="spacingAndGlyphs">Iterations</text>
<text transform="translate(21.8,156.4) rotate(-90)" font-size="20" text-anchor="middle" textLength="79" lengthAdjust="spacingAndGlyphs">ANR(dB)</text>
<text x="505.6" y="357.6" font-size="23" textLength="12.2" lengthAdjust="spacingAndGlyphs">×</text>
<text x="518.8" y="356.2" font-size="17.5" textLength="17.6" lengthAdjust="spacingAndGlyphs">10</text>
<text x="536.5" y="347.7" font-size="12.8">4</text>
<rect x="73" y="15.6" width="122.3" height="103.4" fill="#ffffff" stroke="#262626" stroke-width="1.2"/>
<path d="M76.0,25.7 H105.1" stroke="#ff8000" stroke-width="3.0" fill="none" stroke-dasharray="10.5 10.2"/>
<text x="107.0" y="31.0" font-size="15.8" textLength="50.1" lengthAdjust="spacingAndGlyphs">FxLMS</text>
<path d="M76.0,42.3 H105.1" stroke="#0000ff" stroke-width="3.0" fill="none" stroke-dasharray="3.1 2.0"/>
<text x="107.0" y="47.6" font-size="15.8" textLength="54.800000000000004" lengthAdjust="spacingAndGlyphs">FxMCC</text>
<path d="M76.0,58.9 H105.1" stroke="#00ff00" stroke-width="3.0" fill="none" />
<text x="107.0" y="64.2" font-size="15.8" textLength="84.39999999999999" lengthAdjust="spacingAndGlyphs">Swish-FxSA</text>
<path d="M76.0,75.6 H105.1" stroke="#ff00ff" stroke-width="3.0" fill="none" />
<text x="107.0" y="80.9" font-size="15.8" textLength="80.3" lengthAdjust="spacingAndGlyphs">FxtanhLMS</text>
<path d="M76.0,92.2 H105.1" stroke="#000000" stroke-width="3.0" fill="none" />
<text x="107.0" y="97.5" font-size="15.8" textLength="49.2" lengthAdjust="spacingAndGlyphs">FxLHT</text>
<path d="M76.0,108.8 H105.1" stroke="#ff0000" stroke-width="3.0" fill="none" stroke-dasharray="10.7 1.9 5.3 1.9"/>
<text x="107.0" y="114.1" font-size="15.8" textLength="58.9" lengthAdjust="spacingAndGlyphs">VFxLHT</text>
</svg></body></html>
